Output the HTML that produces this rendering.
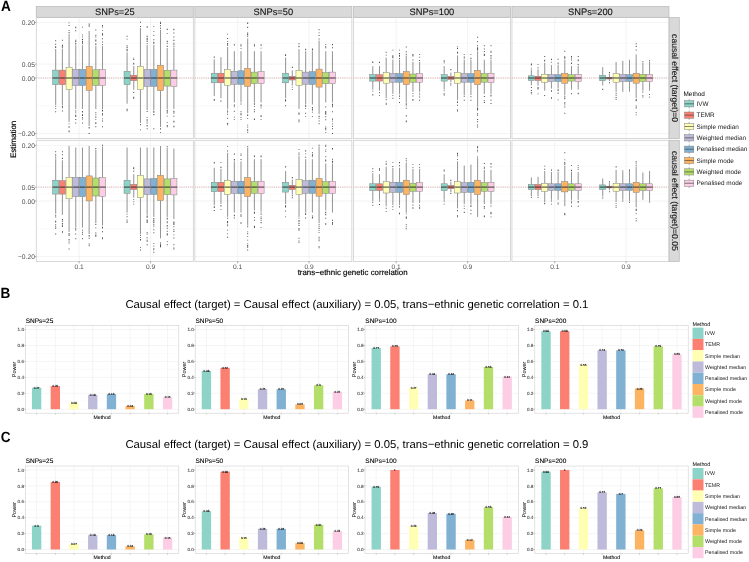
<!DOCTYPE html><html><head><meta charset="utf-8"><style>html,body{margin:0;padding:0;background:#fff;overflow:hidden;width:749px;height:562px;}svg{display:block;will-change:transform;text-rendering:geometricPrecision;font-family:"Liberation Sans",sans-serif;}</style></head><body>
<svg width="749" height="562" viewBox="0 0 749 562">
<rect width="749" height="562" fill="#fff"/>
<line x1="36.3" y1="43.25" x2="193.3" y2="43.25" stroke="#F4F4F4" stroke-width="0.5"/>
<line x1="36.3" y1="71.05" x2="193.3" y2="71.05" stroke="#F4F4F4" stroke-width="0.5"/>
<line x1="36.3" y1="105.8" x2="193.3" y2="105.8" stroke="#F4F4F4" stroke-width="0.5"/>
<line x1="36.3" y1="22.4" x2="193.3" y2="22.4" stroke="#EBEBEB" stroke-width="0.6"/>
<line x1="36.3" y1="64.1" x2="193.3" y2="64.1" stroke="#EBEBEB" stroke-width="0.6"/>
<line x1="36.3" y1="78" x2="193.3" y2="78" stroke="#EBEBEB" stroke-width="0.6"/>
<line x1="36.3" y1="133.6" x2="193.3" y2="133.6" stroke="#EBEBEB" stroke-width="0.6"/>
<line x1="79.11" y1="17.6" x2="79.11" y2="138.6" stroke="#EBEBEB" stroke-width="0.6"/>
<line x1="150.49" y1="17.6" x2="150.49" y2="138.6" stroke="#EBEBEB" stroke-width="0.6"/>
<line x1="36.3" y1="78" x2="193.3" y2="78" stroke="#D48A8A" stroke-width="0.75" stroke-dasharray="0.9 1.3"/>
<line x1="55.7" y1="49" x2="55.7" y2="70.1" stroke="#4a4a4a" stroke-width="0.6"/>
<line x1="55.7" y1="84.7" x2="55.7" y2="105.3" stroke="#4a4a4a" stroke-width="0.6"/>
<rect x="52.65" y="70.1" width="6.1" height="14.6" fill="#8DD3C7" stroke="#777" stroke-width="0.45"/>
<line x1="52.65" y1="78" x2="58.75" y2="78" stroke="#222" stroke-width="0.9"/>
<line x1="62.39" y1="49" x2="62.39" y2="70.1" stroke="#4a4a4a" stroke-width="0.6"/>
<line x1="62.39" y1="84.7" x2="62.39" y2="105.3" stroke="#4a4a4a" stroke-width="0.6"/>
<rect x="59.34" y="70.1" width="6.1" height="14.6" fill="#FB8072" stroke="#777" stroke-width="0.45"/>
<line x1="59.34" y1="78" x2="65.44" y2="78" stroke="#222" stroke-width="0.9"/>
<line x1="69.08" y1="34.1" x2="69.08" y2="67.2" stroke="#4a4a4a" stroke-width="0.6"/>
<line x1="69.08" y1="89.6" x2="69.08" y2="121.9" stroke="#4a4a4a" stroke-width="0.6"/>
<rect x="66.03" y="67.2" width="6.1" height="22.4" fill="#FFFFB3" stroke="#777" stroke-width="0.45"/>
<line x1="66.03" y1="78" x2="72.13" y2="78" stroke="#222" stroke-width="0.9"/>
<line x1="75.77" y1="45.3" x2="75.77" y2="69.4" stroke="#4a4a4a" stroke-width="0.6"/>
<line x1="75.77" y1="85.5" x2="75.77" y2="109" stroke="#4a4a4a" stroke-width="0.6"/>
<rect x="72.72" y="69.4" width="6.1" height="16.1" fill="#BEBADA" stroke="#777" stroke-width="0.45"/>
<line x1="72.72" y1="78" x2="78.82" y2="78" stroke="#222" stroke-width="0.9"/>
<line x1="82.46" y1="45.3" x2="82.46" y2="69.4" stroke="#4a4a4a" stroke-width="0.6"/>
<line x1="82.46" y1="85.5" x2="82.46" y2="109" stroke="#4a4a4a" stroke-width="0.6"/>
<rect x="79.41" y="69.4" width="6.1" height="16.1" fill="#80B1D3" stroke="#777" stroke-width="0.45"/>
<line x1="79.41" y1="78" x2="85.51" y2="78" stroke="#222" stroke-width="0.9"/>
<line x1="89.15" y1="30.9" x2="89.15" y2="66.4" stroke="#4a4a4a" stroke-width="0.6"/>
<line x1="89.15" y1="90.4" x2="89.15" y2="126" stroke="#4a4a4a" stroke-width="0.6"/>
<rect x="86.1" y="66.4" width="6.1" height="24" fill="#FDB462" stroke="#777" stroke-width="0.45"/>
<line x1="86.1" y1="78" x2="92.2" y2="78" stroke="#222" stroke-width="0.9"/>
<line x1="95.84" y1="45.8" x2="95.84" y2="69.8" stroke="#4a4a4a" stroke-width="0.6"/>
<line x1="95.84" y1="85.5" x2="95.84" y2="109" stroke="#4a4a4a" stroke-width="0.6"/>
<rect x="92.79" y="69.8" width="6.1" height="15.7" fill="#B3DE69" stroke="#777" stroke-width="0.45"/>
<line x1="92.79" y1="78" x2="98.89" y2="78" stroke="#222" stroke-width="0.9"/>
<line x1="102.53" y1="45.8" x2="102.53" y2="69.6" stroke="#4a4a4a" stroke-width="0.6"/>
<line x1="102.53" y1="85.5" x2="102.53" y2="109" stroke="#4a4a4a" stroke-width="0.6"/>
<rect x="99.48" y="69.6" width="6.1" height="15.9" fill="#FCCDE5" stroke="#777" stroke-width="0.45"/>
<line x1="99.48" y1="78" x2="105.58" y2="78" stroke="#222" stroke-width="0.9"/>
<line x1="127.07" y1="52.3" x2="127.07" y2="71.3" stroke="#4a4a4a" stroke-width="0.6"/>
<line x1="127.07" y1="84.7" x2="127.07" y2="103.7" stroke="#4a4a4a" stroke-width="0.6"/>
<rect x="124.02" y="71.3" width="6.1" height="13.4" fill="#8DD3C7" stroke="#777" stroke-width="0.45"/>
<line x1="124.02" y1="78" x2="130.12" y2="78" stroke="#222" stroke-width="0.9"/>
<line x1="133.76" y1="66.1" x2="133.76" y2="75.2" stroke="#4a4a4a" stroke-width="0.6"/>
<line x1="133.76" y1="80.7" x2="133.76" y2="89.8" stroke="#4a4a4a" stroke-width="0.6"/>
<rect x="130.71" y="75.2" width="6.1" height="5.5" fill="#FB8072" stroke="#777" stroke-width="0.45"/>
<line x1="130.71" y1="78" x2="136.81" y2="78" stroke="#222" stroke-width="0.9"/>
<line x1="140.45" y1="28" x2="140.45" y2="66.4" stroke="#4a4a4a" stroke-width="0.6"/>
<line x1="140.45" y1="89.6" x2="140.45" y2="123" stroke="#4a4a4a" stroke-width="0.6"/>
<rect x="137.4" y="66.4" width="6.1" height="23.2" fill="#FFFFB3" stroke="#777" stroke-width="0.45"/>
<line x1="137.4" y1="78" x2="143.5" y2="78" stroke="#222" stroke-width="0.9"/>
<line x1="147.14" y1="44.8" x2="147.14" y2="69.4" stroke="#4a4a4a" stroke-width="0.6"/>
<line x1="147.14" y1="86.4" x2="147.14" y2="110.1" stroke="#4a4a4a" stroke-width="0.6"/>
<rect x="144.09" y="69.4" width="6.1" height="17" fill="#BEBADA" stroke="#777" stroke-width="0.45"/>
<line x1="144.09" y1="78" x2="150.19" y2="78" stroke="#222" stroke-width="0.9"/>
<line x1="153.83" y1="44.8" x2="153.83" y2="69.4" stroke="#4a4a4a" stroke-width="0.6"/>
<line x1="153.83" y1="86.4" x2="153.83" y2="110.1" stroke="#4a4a4a" stroke-width="0.6"/>
<rect x="150.78" y="69.4" width="6.1" height="17" fill="#80B1D3" stroke="#777" stroke-width="0.45"/>
<line x1="150.78" y1="78" x2="156.88" y2="78" stroke="#222" stroke-width="0.9"/>
<line x1="160.52" y1="29.8" x2="160.52" y2="65.3" stroke="#4a4a4a" stroke-width="0.6"/>
<line x1="160.52" y1="90.7" x2="160.52" y2="127" stroke="#4a4a4a" stroke-width="0.6"/>
<rect x="157.47" y="65.3" width="6.1" height="25.4" fill="#FDB462" stroke="#777" stroke-width="0.45"/>
<line x1="157.47" y1="78" x2="163.57" y2="78" stroke="#222" stroke-width="0.9"/>
<line x1="167.21" y1="48" x2="167.21" y2="70.4" stroke="#4a4a4a" stroke-width="0.6"/>
<line x1="167.21" y1="86.1" x2="167.21" y2="109" stroke="#4a4a4a" stroke-width="0.6"/>
<rect x="164.16" y="70.4" width="6.1" height="15.7" fill="#B3DE69" stroke="#777" stroke-width="0.45"/>
<line x1="164.16" y1="78" x2="170.26" y2="78" stroke="#222" stroke-width="0.9"/>
<line x1="173.9" y1="48" x2="173.9" y2="70.1" stroke="#4a4a4a" stroke-width="0.6"/>
<line x1="173.9" y1="86.4" x2="173.9" y2="109" stroke="#4a4a4a" stroke-width="0.6"/>
<rect x="170.85" y="70.1" width="6.1" height="16.3" fill="#FCCDE5" stroke="#777" stroke-width="0.45"/>
<line x1="170.85" y1="78" x2="176.95" y2="78" stroke="#222" stroke-width="0.9"/>
<path d="M55.25 40.25h.9v.9h-.9zM55.25 46.18h.9v.9h-.9zM55.25 47.01h.9v.9h-.9zM55.25 43.78h.9v.9h-.9zM55.25 111.25h.9v.9h-.9zM55.25 106.13h.9v.9h-.9zM55.25 107.97h.9v.9h-.9zM61.94 39.85h.9v.9h-.9zM61.94 45.85h.9v.9h-.9zM61.94 47.27h.9v.9h-.9zM61.94 44.82h.9v.9h-.9zM61.94 110.55h.9v.9h-.9zM61.94 106.07h.9v.9h-.9zM61.94 107.23h.9v.9h-.9zM68.63 22.45h.9v.9h-.9zM68.63 32.31h.9v.9h-.9zM68.63 32.24h.9v.9h-.9zM68.63 29.91h.9v.9h-.9zM68.63 25.07h.9v.9h-.9zM68.63 32.1h.9v.9h-.9zM68.63 131.25h.9v.9h-.9zM68.63 123.43h.9v.9h-.9zM68.63 126.73h.9v.9h-.9zM68.63 130.54h.9v.9h-.9zM68.63 126.22h.9v.9h-.9zM75.32 26.65h.9v.9h-.9zM75.32 39.78h.9v.9h-.9zM75.32 27.29h.9v.9h-.9zM75.32 43.52h.9v.9h-.9zM75.32 30.33h.9v.9h-.9zM75.32 41.31h.9v.9h-.9zM75.32 42.88h.9v.9h-.9zM75.32 43.1h.9v.9h-.9zM75.32 41.06h.9v.9h-.9zM75.32 122.55h.9v.9h-.9zM75.32 119h.9v.9h-.9zM75.32 110.58h.9v.9h-.9zM75.32 115.13h.9v.9h-.9zM75.32 116h.9v.9h-.9zM75.32 112.39h.9v.9h-.9zM75.32 114.64h.9v.9h-.9zM82.01 26.65h.9v.9h-.9zM82.01 43.45h.9v.9h-.9zM82.01 43.46h.9v.9h-.9zM82.01 42.29h.9v.9h-.9zM82.01 34.47h.9v.9h-.9zM82.01 39.28h.9v.9h-.9zM82.01 40.98h.9v.9h-.9zM82.01 36.43h.9v.9h-.9zM82.01 38.86h.9v.9h-.9zM82.01 122.55h.9v.9h-.9zM82.01 111.61h.9v.9h-.9zM82.01 118.61h.9v.9h-.9zM82.01 116.97h.9v.9h-.9zM82.01 111.09h.9v.9h-.9zM82.01 115.02h.9v.9h-.9zM82.01 114.32h.9v.9h-.9zM88.7 23.55h.9v.9h-.9zM88.7 24.65h.9v.9h-.9zM88.7 25.81h.9v.9h-.9zM88.7 133.15h.9v.9h-.9zM88.7 127.62h.9v.9h-.9zM88.7 132.95h.9v.9h-.9zM88.7 126.96h.9v.9h-.9zM95.39 29.55h.9v.9h-.9zM95.39 40.53h.9v.9h-.9zM95.39 34.8h.9v.9h-.9zM95.39 43.43h.9v.9h-.9zM95.39 39.5h.9v.9h-.9zM95.39 44.07h.9v.9h-.9zM95.39 36.49h.9v.9h-.9zM95.39 34.65h.9v.9h-.9zM95.39 126.25h.9v.9h-.9zM95.39 116.52h.9v.9h-.9zM95.39 123.09h.9v.9h-.9zM95.39 112.33h.9v.9h-.9zM95.39 118.97h.9v.9h-.9zM95.39 116.93h.9v.9h-.9zM95.39 116.65h.9v.9h-.9zM95.39 114.45h.9v.9h-.9zM95.39 122.23h.9v.9h-.9zM102.08 25.05h.9v.9h-.9zM102.08 26.71h.9v.9h-.9zM102.08 38.36h.9v.9h-.9zM102.08 34.23h.9v.9h-.9zM102.08 43.93h.9v.9h-.9zM102.08 33.32h.9v.9h-.9zM102.08 34.63h.9v.9h-.9zM102.08 25.26h.9v.9h-.9zM102.08 30.19h.9v.9h-.9zM102.08 41.59h.9v.9h-.9zM102.08 126.25h.9v.9h-.9zM102.08 113.34h.9v.9h-.9zM102.08 118.42h.9v.9h-.9zM102.08 109.79h.9v.9h-.9zM102.08 114.54h.9v.9h-.9zM102.08 110.7h.9v.9h-.9zM102.08 110.28h.9v.9h-.9zM102.08 109.93h.9v.9h-.9zM102.08 120.57h.9v.9h-.9zM126.62 35.75h.9v.9h-.9zM126.62 50.09h.9v.9h-.9zM126.62 49.05h.9v.9h-.9zM126.62 47.33h.9v.9h-.9zM126.62 38.69h.9v.9h-.9zM126.62 50.39h.9v.9h-.9zM126.62 46.51h.9v.9h-.9zM126.62 44.93h.9v.9h-.9zM126.62 110.25h.9v.9h-.9zM126.62 109.21h.9v.9h-.9zM126.62 108.67h.9v.9h-.9zM133.31 57.65h.9v.9h-.9zM133.31 59.07h.9v.9h-.9zM133.31 63.57h.9v.9h-.9zM133.31 62.78h.9v.9h-.9zM133.31 97.95h.9v.9h-.9zM133.31 91.99h.9v.9h-.9zM133.31 96.63h.9v.9h-.9zM133.31 97.46h.9v.9h-.9zM140 21.85h.9v.9h-.9zM140 26.13h.9v.9h-.9zM140 26.07h.9v.9h-.9zM140 129.45h.9v.9h-.9zM140 124.3h.9v.9h-.9zM140 124.31h.9v.9h-.9zM146.69 25.95h.9v.9h-.9zM146.69 37.75h.9v.9h-.9zM146.69 35.77h.9v.9h-.9zM146.69 41.12h.9v.9h-.9zM146.69 43.15h.9v.9h-.9zM146.69 38.87h.9v.9h-.9zM146.69 39.66h.9v.9h-.9zM146.69 36.22h.9v.9h-.9zM146.69 27.22h.9v.9h-.9zM146.69 128.35h.9v.9h-.9zM146.69 120.53h.9v.9h-.9zM146.69 116.91h.9v.9h-.9zM146.69 118.94h.9v.9h-.9zM146.69 120.21h.9v.9h-.9zM146.69 111.01h.9v.9h-.9zM146.69 125.62h.9v.9h-.9zM146.69 122.61h.9v.9h-.9zM146.69 124.97h.9v.9h-.9zM153.38 25.95h.9v.9h-.9zM153.38 31.17h.9v.9h-.9zM153.38 39.3h.9v.9h-.9zM153.38 39.2h.9v.9h-.9zM153.38 42.69h.9v.9h-.9zM153.38 34.85h.9v.9h-.9zM153.38 42.95h.9v.9h-.9zM153.38 42.92h.9v.9h-.9zM153.38 41.75h.9v.9h-.9zM153.38 128.35h.9v.9h-.9zM153.38 111.8h.9v.9h-.9zM153.38 113.97h.9v.9h-.9zM153.38 111.01h.9v.9h-.9zM153.38 110.85h.9v.9h-.9zM153.38 111.7h.9v.9h-.9zM153.38 111.3h.9v.9h-.9zM153.38 114.32h.9v.9h-.9zM153.38 110.9h.9v.9h-.9zM160.07 21.85h.9v.9h-.9zM160.07 23.07h.9v.9h-.9zM160.07 25.26h.9v.9h-.9zM160.07 27.85h.9v.9h-.9zM160.07 132.15h.9v.9h-.9zM160.07 128.24h.9v.9h-.9zM160.07 128.56h.9v.9h-.9zM166.76 28.85h.9v.9h-.9zM166.76 42.87h.9v.9h-.9zM166.76 45.74h.9v.9h-.9zM166.76 32.88h.9v.9h-.9zM166.76 29.04h.9v.9h-.9zM166.76 41.19h.9v.9h-.9zM166.76 40.87h.9v.9h-.9zM166.76 46.01h.9v.9h-.9zM166.76 45.89h.9v.9h-.9zM166.76 126.25h.9v.9h-.9zM166.76 112.72h.9v.9h-.9zM166.76 111.72h.9v.9h-.9zM166.76 121.97h.9v.9h-.9zM166.76 110.64h.9v.9h-.9zM166.76 109.79h.9v.9h-.9zM166.76 124.98h.9v.9h-.9zM166.76 115.69h.9v.9h-.9zM166.76 110.51h.9v.9h-.9zM173.45 28.85h.9v.9h-.9zM173.45 39.76h.9v.9h-.9zM173.45 46.3h.9v.9h-.9zM173.45 40.05h.9v.9h-.9zM173.45 29.45h.9v.9h-.9zM173.45 32.52h.9v.9h-.9zM173.45 36.55h.9v.9h-.9zM173.45 44.31h.9v.9h-.9zM173.45 42.83h.9v.9h-.9zM173.45 126.25h.9v.9h-.9zM173.45 110.69h.9v.9h-.9zM173.45 120.65h.9v.9h-.9zM173.45 115.77h.9v.9h-.9zM173.45 120.82h.9v.9h-.9zM173.45 112.55h.9v.9h-.9zM173.45 111.25h.9v.9h-.9zM173.45 121.56h.9v.9h-.9zM173.45 125.85h.9v.9h-.9z" fill="#3a3a3a"/>
<rect x="36.3" y="17.6" width="157" height="121" fill="none" stroke="#CFCFCF" stroke-width="0.8"/>
<line x1="194.85" y1="43.25" x2="351.85" y2="43.25" stroke="#F4F4F4" stroke-width="0.5"/>
<line x1="194.85" y1="71.05" x2="351.85" y2="71.05" stroke="#F4F4F4" stroke-width="0.5"/>
<line x1="194.85" y1="105.8" x2="351.85" y2="105.8" stroke="#F4F4F4" stroke-width="0.5"/>
<line x1="194.85" y1="22.4" x2="351.85" y2="22.4" stroke="#EBEBEB" stroke-width="0.6"/>
<line x1="194.85" y1="64.1" x2="351.85" y2="64.1" stroke="#EBEBEB" stroke-width="0.6"/>
<line x1="194.85" y1="78" x2="351.85" y2="78" stroke="#EBEBEB" stroke-width="0.6"/>
<line x1="194.85" y1="133.6" x2="351.85" y2="133.6" stroke="#EBEBEB" stroke-width="0.6"/>
<line x1="237.66" y1="17.6" x2="237.66" y2="138.6" stroke="#EBEBEB" stroke-width="0.6"/>
<line x1="309.04" y1="17.6" x2="309.04" y2="138.6" stroke="#EBEBEB" stroke-width="0.6"/>
<line x1="194.85" y1="78" x2="351.85" y2="78" stroke="#D48A8A" stroke-width="0.75" stroke-dasharray="0.9 1.3"/>
<line x1="214.25" y1="59.3" x2="214.25" y2="73.2" stroke="#4a4a4a" stroke-width="0.6"/>
<line x1="214.25" y1="82.8" x2="214.25" y2="96.1" stroke="#4a4a4a" stroke-width="0.6"/>
<rect x="211.2" y="73.2" width="6.1" height="9.6" fill="#8DD3C7" stroke="#777" stroke-width="0.45"/>
<line x1="211.2" y1="78" x2="217.3" y2="78" stroke="#222" stroke-width="0.9"/>
<line x1="220.94" y1="57.2" x2="220.94" y2="73.2" stroke="#4a4a4a" stroke-width="0.6"/>
<line x1="220.94" y1="82.8" x2="220.94" y2="98.2" stroke="#4a4a4a" stroke-width="0.6"/>
<rect x="217.89" y="73.2" width="6.1" height="9.6" fill="#FB8072" stroke="#777" stroke-width="0.45"/>
<line x1="217.89" y1="78" x2="223.99" y2="78" stroke="#222" stroke-width="0.9"/>
<line x1="227.63" y1="46.9" x2="227.63" y2="69.4" stroke="#4a4a4a" stroke-width="0.6"/>
<line x1="227.63" y1="85.4" x2="227.63" y2="108.9" stroke="#4a4a4a" stroke-width="0.6"/>
<rect x="224.58" y="69.4" width="6.1" height="16" fill="#FFFFB3" stroke="#777" stroke-width="0.45"/>
<line x1="224.58" y1="78" x2="230.68" y2="78" stroke="#222" stroke-width="0.9"/>
<line x1="234.32" y1="51.2" x2="234.32" y2="71.3" stroke="#4a4a4a" stroke-width="0.6"/>
<line x1="234.32" y1="84.3" x2="234.32" y2="102.5" stroke="#4a4a4a" stroke-width="0.6"/>
<rect x="231.27" y="71.3" width="6.1" height="13" fill="#BEBADA" stroke="#777" stroke-width="0.45"/>
<line x1="231.27" y1="78" x2="237.37" y2="78" stroke="#222" stroke-width="0.9"/>
<line x1="241.01" y1="51.2" x2="241.01" y2="70.8" stroke="#4a4a4a" stroke-width="0.6"/>
<line x1="241.01" y1="84.3" x2="241.01" y2="102.5" stroke="#4a4a4a" stroke-width="0.6"/>
<rect x="237.96" y="70.8" width="6.1" height="13.5" fill="#80B1D3" stroke="#777" stroke-width="0.45"/>
<line x1="237.96" y1="78" x2="244.06" y2="78" stroke="#222" stroke-width="0.9"/>
<line x1="247.7" y1="38.4" x2="247.7" y2="68.3" stroke="#4a4a4a" stroke-width="0.6"/>
<line x1="247.7" y1="86.4" x2="247.7" y2="113.2" stroke="#4a4a4a" stroke-width="0.6"/>
<rect x="244.65" y="68.3" width="6.1" height="18.1" fill="#FDB462" stroke="#777" stroke-width="0.45"/>
<line x1="244.65" y1="78" x2="250.75" y2="78" stroke="#222" stroke-width="0.9"/>
<line x1="254.39" y1="51.2" x2="254.39" y2="72.1" stroke="#4a4a4a" stroke-width="0.6"/>
<line x1="254.39" y1="83.7" x2="254.39" y2="102.5" stroke="#4a4a4a" stroke-width="0.6"/>
<rect x="251.34" y="72.1" width="6.1" height="11.6" fill="#B3DE69" stroke="#777" stroke-width="0.45"/>
<line x1="251.34" y1="78" x2="257.44" y2="78" stroke="#222" stroke-width="0.9"/>
<line x1="261.08" y1="51.2" x2="261.08" y2="71.7" stroke="#4a4a4a" stroke-width="0.6"/>
<line x1="261.08" y1="83.7" x2="261.08" y2="102.5" stroke="#4a4a4a" stroke-width="0.6"/>
<rect x="258.03" y="71.7" width="6.1" height="12" fill="#FCCDE5" stroke="#777" stroke-width="0.45"/>
<line x1="258.03" y1="78" x2="264.13" y2="78" stroke="#222" stroke-width="0.9"/>
<line x1="285.62" y1="57.6" x2="285.62" y2="73.2" stroke="#4a4a4a" stroke-width="0.6"/>
<line x1="285.62" y1="82.8" x2="285.62" y2="98.2" stroke="#4a4a4a" stroke-width="0.6"/>
<rect x="282.57" y="73.2" width="6.1" height="9.6" fill="#8DD3C7" stroke="#777" stroke-width="0.45"/>
<line x1="282.57" y1="78" x2="288.67" y2="78" stroke="#222" stroke-width="0.9"/>
<line x1="292.31" y1="70.4" x2="292.31" y2="76.4" stroke="#4a4a4a" stroke-width="0.6"/>
<line x1="292.31" y1="80" x2="292.31" y2="85.4" stroke="#4a4a4a" stroke-width="0.6"/>
<rect x="289.26" y="76.4" width="6.1" height="3.6" fill="#FB8072" stroke="#777" stroke-width="0.45"/>
<line x1="289.26" y1="78" x2="295.36" y2="78" stroke="#222" stroke-width="0.9"/>
<line x1="299" y1="49.1" x2="299" y2="70.4" stroke="#4a4a4a" stroke-width="0.6"/>
<line x1="299" y1="85.4" x2="299" y2="108.9" stroke="#4a4a4a" stroke-width="0.6"/>
<rect x="295.95" y="70.4" width="6.1" height="15" fill="#FFFFB3" stroke="#777" stroke-width="0.45"/>
<line x1="295.95" y1="78" x2="302.05" y2="78" stroke="#222" stroke-width="0.9"/>
<line x1="305.69" y1="51.2" x2="305.69" y2="72.1" stroke="#4a4a4a" stroke-width="0.6"/>
<line x1="305.69" y1="84.3" x2="305.69" y2="104.6" stroke="#4a4a4a" stroke-width="0.6"/>
<rect x="302.64" y="72.1" width="6.1" height="12.2" fill="#BEBADA" stroke="#777" stroke-width="0.45"/>
<line x1="302.64" y1="78" x2="308.74" y2="78" stroke="#222" stroke-width="0.9"/>
<line x1="312.38" y1="51.2" x2="312.38" y2="71.7" stroke="#4a4a4a" stroke-width="0.6"/>
<line x1="312.38" y1="84.5" x2="312.38" y2="104.6" stroke="#4a4a4a" stroke-width="0.6"/>
<rect x="309.33" y="71.7" width="6.1" height="12.8" fill="#80B1D3" stroke="#777" stroke-width="0.45"/>
<line x1="309.33" y1="78" x2="315.43" y2="78" stroke="#222" stroke-width="0.9"/>
<line x1="319.07" y1="40.5" x2="319.07" y2="69.1" stroke="#4a4a4a" stroke-width="0.6"/>
<line x1="319.07" y1="87.1" x2="319.07" y2="114.2" stroke="#4a4a4a" stroke-width="0.6"/>
<rect x="316.02" y="69.1" width="6.1" height="18" fill="#FDB462" stroke="#777" stroke-width="0.45"/>
<line x1="316.02" y1="78" x2="322.12" y2="78" stroke="#222" stroke-width="0.9"/>
<line x1="325.76" y1="51.2" x2="325.76" y2="72.6" stroke="#4a4a4a" stroke-width="0.6"/>
<line x1="325.76" y1="83.7" x2="325.76" y2="102.5" stroke="#4a4a4a" stroke-width="0.6"/>
<rect x="322.71" y="72.6" width="6.1" height="11.1" fill="#B3DE69" stroke="#777" stroke-width="0.45"/>
<line x1="322.71" y1="78" x2="328.81" y2="78" stroke="#222" stroke-width="0.9"/>
<line x1="332.45" y1="51.2" x2="332.45" y2="72.1" stroke="#4a4a4a" stroke-width="0.6"/>
<line x1="332.45" y1="83.7" x2="332.45" y2="102.5" stroke="#4a4a4a" stroke-width="0.6"/>
<rect x="329.4" y="72.1" width="6.1" height="11.6" fill="#FCCDE5" stroke="#777" stroke-width="0.45"/>
<line x1="329.4" y1="78" x2="335.5" y2="78" stroke="#222" stroke-width="0.9"/>
<path d="M213.8 56.55h.9v.9h-.9zM213.8 56.8h.9v.9h-.9zM213.8 99.85h.9v.9h-.9zM213.8 98.97h.9v.9h-.9zM220.49 100.95h.9v.9h-.9zM220.49 100.4h.9v.9h-.9zM227.18 33.65h.9v.9h-.9zM227.18 38.09h.9v.9h-.9zM227.18 44.17h.9v.9h-.9zM227.18 41.21h.9v.9h-.9zM227.18 43.03h.9v.9h-.9zM227.18 45.21h.9v.9h-.9zM227.18 124.45h.9v.9h-.9zM227.18 109.7h.9v.9h-.9zM227.18 111.57h.9v.9h-.9zM227.18 111.36h.9v.9h-.9zM227.18 117.87h.9v.9h-.9zM227.18 123.43h.9v.9h-.9zM227.18 113.73h.9v.9h-.9zM227.18 122.99h.9v.9h-.9zM233.87 44.35h.9v.9h-.9zM233.87 44.45h.9v.9h-.9zM233.87 44.72h.9v.9h-.9zM233.87 119.15h.9v.9h-.9zM233.87 106.41h.9v.9h-.9zM233.87 104.66h.9v.9h-.9zM233.87 104.73h.9v.9h-.9zM233.87 104.43h.9v.9h-.9zM233.87 104.5h.9v.9h-.9zM233.87 110.73h.9v.9h-.9zM233.87 116.69h.9v.9h-.9zM240.56 44.35h.9v.9h-.9zM240.56 45.61h.9v.9h-.9zM240.56 47.95h.9v.9h-.9zM240.56 119.15h.9v.9h-.9zM240.56 111.29h.9v.9h-.9zM240.56 114.37h.9v.9h-.9zM240.56 103.56h.9v.9h-.9zM240.56 111.44h.9v.9h-.9zM240.56 116.92h.9v.9h-.9zM240.56 113.98h.9v.9h-.9zM240.56 113.29h.9v.9h-.9zM247.25 22.55h.9v.9h-.9zM247.25 32.39h.9v.9h-.9zM247.25 35.85h.9v.9h-.9zM247.25 27.03h.9v.9h-.9zM247.25 34.31h.9v.9h-.9zM247.25 26.8h.9v.9h-.9zM247.25 23.19h.9v.9h-.9zM247.25 33.53h.9v.9h-.9zM247.25 131.95h.9v.9h-.9zM247.25 118.13h.9v.9h-.9zM247.25 130.44h.9v.9h-.9zM247.25 124.71h.9v.9h-.9zM247.25 115.01h.9v.9h-.9zM247.25 114.61h.9v.9h-.9zM247.25 114.83h.9v.9h-.9zM247.25 129.29h.9v.9h-.9zM247.25 126.71h.9v.9h-.9zM247.25 114.78h.9v.9h-.9zM253.94 44.35h.9v.9h-.9zM253.94 45.72h.9v.9h-.9zM253.94 44.51h.9v.9h-.9zM253.94 119.15h.9v.9h-.9zM253.94 111.37h.9v.9h-.9zM253.94 106.22h.9v.9h-.9zM253.94 109.34h.9v.9h-.9zM253.94 103.87h.9v.9h-.9zM253.94 103.27h.9v.9h-.9zM253.94 118.42h.9v.9h-.9zM253.94 111.22h.9v.9h-.9zM260.63 44.35h.9v.9h-.9zM260.63 47.69h.9v.9h-.9zM260.63 44.89h.9v.9h-.9zM260.63 119.15h.9v.9h-.9zM260.63 107.43h.9v.9h-.9zM260.63 116.01h.9v.9h-.9zM260.63 114.96h.9v.9h-.9zM260.63 104.57h.9v.9h-.9zM260.63 105h.9v.9h-.9zM260.63 105.48h.9v.9h-.9zM260.63 104.88h.9v.9h-.9zM285.17 53.95h.9v.9h-.9zM285.17 55.1h.9v.9h-.9zM285.17 105.25h.9v.9h-.9zM285.17 99.68h.9v.9h-.9zM285.17 100.52h.9v.9h-.9zM285.17 99.19h.9v.9h-.9zM291.86 66.75h.9v.9h-.9zM291.86 67.03h.9v.9h-.9zM291.86 89.15h.9v.9h-.9zM291.86 86.72h.9v.9h-.9zM298.55 43.25h.9v.9h-.9zM298.55 46.25h.9v.9h-.9zM298.55 45.68h.9v.9h-.9zM298.55 121.25h.9v.9h-.9zM298.55 119.53h.9v.9h-.9zM298.55 112.55h.9v.9h-.9zM298.55 119.76h.9v.9h-.9zM298.55 113.5h.9v.9h-.9zM298.55 113.87h.9v.9h-.9zM305.24 48.65h.9v.9h-.9zM305.24 49.23h.9v.9h-.9zM305.24 115.95h.9v.9h-.9zM305.24 105.37h.9v.9h-.9zM305.24 108.2h.9v.9h-.9zM305.24 106.05h.9v.9h-.9zM305.24 105.35h.9v.9h-.9zM305.24 112.76h.9v.9h-.9zM311.93 48.55h.9v.9h-.9zM311.93 49.49h.9v.9h-.9zM311.93 115.95h.9v.9h-.9zM311.93 108.55h.9v.9h-.9zM311.93 111.69h.9v.9h-.9zM311.93 109.5h.9v.9h-.9zM311.93 107.11h.9v.9h-.9zM311.93 109.05h.9v.9h-.9zM318.62 29.35h.9v.9h-.9zM318.62 35.14h.9v.9h-.9zM318.62 32.41h.9v.9h-.9zM318.62 38.59h.9v.9h-.9zM318.62 35.09h.9v.9h-.9zM318.62 123.35h.9v.9h-.9zM318.62 115.86h.9v.9h-.9zM318.62 116.03h.9v.9h-.9zM318.62 120.51h.9v.9h-.9zM318.62 117.79h.9v.9h-.9zM325.31 43.95h.9v.9h-.9zM325.31 47.32h.9v.9h-.9zM325.31 45.94h.9v.9h-.9zM325.31 131.95h.9v.9h-.9zM325.31 128.04h.9v.9h-.9zM325.31 111.06h.9v.9h-.9zM325.31 116.35h.9v.9h-.9zM325.31 112.89h.9v.9h-.9zM325.31 113.09h.9v.9h-.9zM325.31 119.2h.9v.9h-.9zM325.31 111.32h.9v.9h-.9zM325.31 113.75h.9v.9h-.9zM325.31 112.06h.9v.9h-.9zM325.31 129.31h.9v.9h-.9zM325.31 119.44h.9v.9h-.9zM325.31 126.49h.9v.9h-.9zM325.31 129.34h.9v.9h-.9zM325.31 106.57h.9v.9h-.9zM332 43.95h.9v.9h-.9zM332 47.34h.9v.9h-.9zM332 44.45h.9v.9h-.9zM332 133.05h.9v.9h-.9zM332 125.8h.9v.9h-.9zM332 104.49h.9v.9h-.9zM332 104.27h.9v.9h-.9zM332 111.32h.9v.9h-.9zM332 103.7h.9v.9h-.9zM332 106.3h.9v.9h-.9zM332 103.7h.9v.9h-.9zM332 118.93h.9v.9h-.9zM332 123.44h.9v.9h-.9zM332 128.29h.9v.9h-.9zM332 104.75h.9v.9h-.9zM332 120.72h.9v.9h-.9zM332 118.59h.9v.9h-.9zM332 104.58h.9v.9h-.9z" fill="#3a3a3a"/>
<rect x="194.85" y="17.6" width="157" height="121" fill="none" stroke="#CFCFCF" stroke-width="0.8"/>
<line x1="353.4" y1="43.25" x2="510.4" y2="43.25" stroke="#F4F4F4" stroke-width="0.5"/>
<line x1="353.4" y1="71.05" x2="510.4" y2="71.05" stroke="#F4F4F4" stroke-width="0.5"/>
<line x1="353.4" y1="105.8" x2="510.4" y2="105.8" stroke="#F4F4F4" stroke-width="0.5"/>
<line x1="353.4" y1="22.4" x2="510.4" y2="22.4" stroke="#EBEBEB" stroke-width="0.6"/>
<line x1="353.4" y1="64.1" x2="510.4" y2="64.1" stroke="#EBEBEB" stroke-width="0.6"/>
<line x1="353.4" y1="78" x2="510.4" y2="78" stroke="#EBEBEB" stroke-width="0.6"/>
<line x1="353.4" y1="133.6" x2="510.4" y2="133.6" stroke="#EBEBEB" stroke-width="0.6"/>
<line x1="396.21" y1="17.6" x2="396.21" y2="138.6" stroke="#EBEBEB" stroke-width="0.6"/>
<line x1="467.59" y1="17.6" x2="467.59" y2="138.6" stroke="#EBEBEB" stroke-width="0.6"/>
<line x1="353.4" y1="78" x2="510.4" y2="78" stroke="#D48A8A" stroke-width="0.75" stroke-dasharray="0.9 1.3"/>
<line x1="372.8" y1="66.1" x2="372.8" y2="74.7" stroke="#4a4a4a" stroke-width="0.6"/>
<line x1="372.8" y1="81.1" x2="372.8" y2="89.6" stroke="#4a4a4a" stroke-width="0.6"/>
<rect x="369.75" y="74.7" width="6.1" height="6.4" fill="#8DD3C7" stroke="#777" stroke-width="0.45"/>
<line x1="369.75" y1="78" x2="375.85" y2="78" stroke="#222" stroke-width="0.9"/>
<line x1="379.49" y1="66.1" x2="379.49" y2="74.7" stroke="#4a4a4a" stroke-width="0.6"/>
<line x1="379.49" y1="81.1" x2="379.49" y2="90.7" stroke="#4a4a4a" stroke-width="0.6"/>
<rect x="376.44" y="74.7" width="6.1" height="6.4" fill="#FB8072" stroke="#777" stroke-width="0.45"/>
<line x1="376.44" y1="78" x2="382.54" y2="78" stroke="#222" stroke-width="0.9"/>
<line x1="386.18" y1="57.6" x2="386.18" y2="72.6" stroke="#4a4a4a" stroke-width="0.6"/>
<line x1="386.18" y1="83.2" x2="386.18" y2="98.2" stroke="#4a4a4a" stroke-width="0.6"/>
<rect x="383.13" y="72.6" width="6.1" height="10.6" fill="#FFFFB3" stroke="#777" stroke-width="0.45"/>
<line x1="383.13" y1="78" x2="389.23" y2="78" stroke="#222" stroke-width="0.9"/>
<line x1="392.87" y1="59.7" x2="392.87" y2="73.6" stroke="#4a4a4a" stroke-width="0.6"/>
<line x1="392.87" y1="82.2" x2="392.87" y2="93.9" stroke="#4a4a4a" stroke-width="0.6"/>
<rect x="389.82" y="73.6" width="6.1" height="8.6" fill="#BEBADA" stroke="#777" stroke-width="0.45"/>
<line x1="389.82" y1="78" x2="395.92" y2="78" stroke="#222" stroke-width="0.9"/>
<line x1="399.56" y1="59.7" x2="399.56" y2="73.6" stroke="#4a4a4a" stroke-width="0.6"/>
<line x1="399.56" y1="82.2" x2="399.56" y2="93.9" stroke="#4a4a4a" stroke-width="0.6"/>
<rect x="396.51" y="73.6" width="6.1" height="8.6" fill="#80B1D3" stroke="#777" stroke-width="0.45"/>
<line x1="396.51" y1="78" x2="402.61" y2="78" stroke="#222" stroke-width="0.9"/>
<line x1="406.25" y1="55.5" x2="406.25" y2="71.5" stroke="#4a4a4a" stroke-width="0.6"/>
<line x1="406.25" y1="84.7" x2="406.25" y2="102.5" stroke="#4a4a4a" stroke-width="0.6"/>
<rect x="403.2" y="71.5" width="6.1" height="13.2" fill="#FDB462" stroke="#777" stroke-width="0.45"/>
<line x1="403.2" y1="78" x2="409.3" y2="78" stroke="#222" stroke-width="0.9"/>
<line x1="412.94" y1="61.9" x2="412.94" y2="74" stroke="#4a4a4a" stroke-width="0.6"/>
<line x1="412.94" y1="82.2" x2="412.94" y2="91.8" stroke="#4a4a4a" stroke-width="0.6"/>
<rect x="409.89" y="74" width="6.1" height="8.2" fill="#B3DE69" stroke="#777" stroke-width="0.45"/>
<line x1="409.89" y1="78" x2="415.99" y2="78" stroke="#222" stroke-width="0.9"/>
<line x1="419.63" y1="61.9" x2="419.63" y2="73.6" stroke="#4a4a4a" stroke-width="0.6"/>
<line x1="419.63" y1="82.2" x2="419.63" y2="91.8" stroke="#4a4a4a" stroke-width="0.6"/>
<rect x="416.58" y="73.6" width="6.1" height="8.6" fill="#FCCDE5" stroke="#777" stroke-width="0.45"/>
<line x1="416.58" y1="78" x2="422.68" y2="78" stroke="#222" stroke-width="0.9"/>
<line x1="444.17" y1="66.1" x2="444.17" y2="74.7" stroke="#4a4a4a" stroke-width="0.6"/>
<line x1="444.17" y1="81.1" x2="444.17" y2="89.6" stroke="#4a4a4a" stroke-width="0.6"/>
<rect x="441.12" y="74.7" width="6.1" height="6.4" fill="#8DD3C7" stroke="#777" stroke-width="0.45"/>
<line x1="441.12" y1="78" x2="447.22" y2="78" stroke="#222" stroke-width="0.9"/>
<line x1="450.86" y1="72.6" x2="450.86" y2="76.4" stroke="#4a4a4a" stroke-width="0.6"/>
<line x1="450.86" y1="79.4" x2="450.86" y2="82.2" stroke="#4a4a4a" stroke-width="0.6"/>
<rect x="447.81" y="76.4" width="6.1" height="3" fill="#FB8072" stroke="#777" stroke-width="0.45"/>
<line x1="447.81" y1="78" x2="453.91" y2="78" stroke="#222" stroke-width="0.9"/>
<line x1="457.55" y1="55.5" x2="457.55" y2="72.6" stroke="#4a4a4a" stroke-width="0.6"/>
<line x1="457.55" y1="83.2" x2="457.55" y2="100.3" stroke="#4a4a4a" stroke-width="0.6"/>
<rect x="454.5" y="72.6" width="6.1" height="10.6" fill="#FFFFB3" stroke="#777" stroke-width="0.45"/>
<line x1="454.5" y1="78" x2="460.6" y2="78" stroke="#222" stroke-width="0.9"/>
<line x1="464.24" y1="59.7" x2="464.24" y2="73.6" stroke="#4a4a4a" stroke-width="0.6"/>
<line x1="464.24" y1="82.2" x2="464.24" y2="95" stroke="#4a4a4a" stroke-width="0.6"/>
<rect x="461.19" y="73.6" width="6.1" height="8.6" fill="#BEBADA" stroke="#777" stroke-width="0.45"/>
<line x1="461.19" y1="78" x2="467.29" y2="78" stroke="#222" stroke-width="0.9"/>
<line x1="470.93" y1="59.7" x2="470.93" y2="73.6" stroke="#4a4a4a" stroke-width="0.6"/>
<line x1="470.93" y1="82.2" x2="470.93" y2="95" stroke="#4a4a4a" stroke-width="0.6"/>
<rect x="467.88" y="73.6" width="6.1" height="8.6" fill="#80B1D3" stroke="#777" stroke-width="0.45"/>
<line x1="467.88" y1="78" x2="473.98" y2="78" stroke="#222" stroke-width="0.9"/>
<line x1="477.62" y1="51.2" x2="477.62" y2="70.4" stroke="#4a4a4a" stroke-width="0.6"/>
<line x1="477.62" y1="84.7" x2="477.62" y2="106.7" stroke="#4a4a4a" stroke-width="0.6"/>
<rect x="474.57" y="70.4" width="6.1" height="14.3" fill="#FDB462" stroke="#777" stroke-width="0.45"/>
<line x1="474.57" y1="78" x2="480.67" y2="78" stroke="#222" stroke-width="0.9"/>
<line x1="484.31" y1="59.7" x2="484.31" y2="73.6" stroke="#4a4a4a" stroke-width="0.6"/>
<line x1="484.31" y1="82.2" x2="484.31" y2="93.9" stroke="#4a4a4a" stroke-width="0.6"/>
<rect x="481.26" y="73.6" width="6.1" height="8.6" fill="#B3DE69" stroke="#777" stroke-width="0.45"/>
<line x1="481.26" y1="78" x2="487.36" y2="78" stroke="#222" stroke-width="0.9"/>
<line x1="491" y1="59.7" x2="491" y2="73.2" stroke="#4a4a4a" stroke-width="0.6"/>
<line x1="491" y1="82.6" x2="491" y2="93.9" stroke="#4a4a4a" stroke-width="0.6"/>
<rect x="487.95" y="73.2" width="6.1" height="9.4" fill="#FCCDE5" stroke="#777" stroke-width="0.45"/>
<line x1="487.95" y1="78" x2="494.05" y2="78" stroke="#222" stroke-width="0.9"/>
<path d="M372.35 61.45h.9v.9h-.9zM372.35 61.99h.9v.9h-.9zM372.35 94.55h.9v.9h-.9zM372.35 94.33h.9v.9h-.9zM372.35 90.72h.9v.9h-.9zM379.04 61.85h.9v.9h-.9zM379.04 62.04h.9v.9h-.9zM379.04 95.15h.9v.9h-.9zM379.04 92.3h.9v.9h-.9zM385.73 51.85h.9v.9h-.9zM385.73 54.65h.9v.9h-.9zM385.73 51.92h.9v.9h-.9zM385.73 104.15h.9v.9h-.9zM385.73 102.83h.9v.9h-.9zM385.73 99.23h.9v.9h-.9zM392.42 49.65h.9v.9h-.9zM392.42 55.86h.9v.9h-.9zM392.42 55.14h.9v.9h-.9zM392.42 56.56h.9v.9h-.9zM392.42 57.43h.9v.9h-.9zM392.42 97.75h.9v.9h-.9zM392.42 95.15h.9v.9h-.9zM399.11 49.65h.9v.9h-.9zM399.11 53.06h.9v.9h-.9zM399.11 58.03h.9v.9h-.9zM399.11 54.78h.9v.9h-.9zM399.11 55.79h.9v.9h-.9zM399.11 102.05h.9v.9h-.9zM399.11 94.66h.9v.9h-.9zM399.11 95.91h.9v.9h-.9zM399.11 98.13h.9v.9h-.9zM405.8 46.45h.9v.9h-.9zM405.8 51.31h.9v.9h-.9zM405.8 53.76h.9v.9h-.9zM405.8 46.63h.9v.9h-.9zM405.8 121.25h.9v.9h-.9zM405.8 115.55h.9v.9h-.9zM405.8 120.44h.9v.9h-.9zM405.8 103.74h.9v.9h-.9zM405.8 105.41h.9v.9h-.9zM405.8 103.35h.9v.9h-.9zM405.8 115.32h.9v.9h-.9zM405.8 105.47h.9v.9h-.9zM405.8 103.93h.9v.9h-.9zM405.8 107.78h.9v.9h-.9zM412.49 53.95h.9v.9h-.9zM412.49 54.82h.9v.9h-.9zM412.49 55.67h.9v.9h-.9zM412.49 59.53h.9v.9h-.9zM412.49 99.85h.9v.9h-.9zM412.49 92.9h.9v.9h-.9zM412.49 98.93h.9v.9h-.9zM412.49 95.52h.9v.9h-.9zM419.18 53.95h.9v.9h-.9zM419.18 56.69h.9v.9h-.9zM419.18 60.12h.9v.9h-.9zM419.18 60.18h.9v.9h-.9zM419.18 99.85h.9v.9h-.9zM419.18 96.56h.9v.9h-.9zM419.18 94.41h.9v.9h-.9zM419.18 92.66h.9v.9h-.9zM443.72 60.35h.9v.9h-.9zM443.72 60.75h.9v.9h-.9zM443.72 62.47h.9v.9h-.9zM443.72 94.55h.9v.9h-.9zM443.72 93.3h.9v.9h-.9zM443.72 90.43h.9v.9h-.9zM450.41 68.95h.9v.9h-.9zM450.41 69.39h.9v.9h-.9zM450.41 84.55h.9v.9h-.9zM450.41 82.97h.9v.9h-.9zM457.1 46.45h.9v.9h-.9zM457.1 48.01h.9v.9h-.9zM457.1 51.76h.9v.9h-.9zM457.1 52.54h.9v.9h-.9zM457.1 110.55h.9v.9h-.9zM457.1 104.73h.9v.9h-.9zM457.1 109.46h.9v.9h-.9zM457.1 102.2h.9v.9h-.9zM457.1 101.41h.9v.9h-.9zM463.79 53.95h.9v.9h-.9zM463.79 56.58h.9v.9h-.9zM463.79 57.64h.9v.9h-.9zM463.79 99.85h.9v.9h-.9zM463.79 95.87h.9v.9h-.9zM463.79 95.97h.9v.9h-.9zM470.48 53.95h.9v.9h-.9zM470.48 58.02h.9v.9h-.9zM470.48 57.73h.9v.9h-.9zM470.48 99.85h.9v.9h-.9zM470.48 96.39h.9v.9h-.9zM470.48 96.36h.9v.9h-.9zM477.17 36.85h.9v.9h-.9zM477.17 41.37h.9v.9h-.9zM477.17 47.8h.9v.9h-.9zM477.17 45.36h.9v.9h-.9zM477.17 48.75h.9v.9h-.9zM477.17 47.21h.9v.9h-.9zM477.17 49.53h.9v.9h-.9zM477.17 126.55h.9v.9h-.9zM477.17 109.53h.9v.9h-.9zM477.17 107.47h.9v.9h-.9zM477.17 119.07h.9v.9h-.9zM477.17 114.81h.9v.9h-.9zM477.17 108.78h.9v.9h-.9zM477.17 113.25h.9v.9h-.9zM477.17 124.59h.9v.9h-.9zM477.17 107.98h.9v.9h-.9zM477.17 121.32h.9v.9h-.9zM483.86 45.35h.9v.9h-.9zM483.86 54.73h.9v.9h-.9zM483.86 53.93h.9v.9h-.9zM483.86 48.54h.9v.9h-.9zM483.86 55.2h.9v.9h-.9zM483.86 53.77h.9v.9h-.9zM483.86 51.07h.9v.9h-.9zM483.86 102.05h.9v.9h-.9zM483.86 101.84h.9v.9h-.9zM483.86 95.98h.9v.9h-.9zM483.86 100.17h.9v.9h-.9zM490.55 45.35h.9v.9h-.9zM490.55 50.76h.9v.9h-.9zM490.55 51.89h.9v.9h-.9zM490.55 55.06h.9v.9h-.9zM490.55 55.71h.9v.9h-.9zM490.55 57.93h.9v.9h-.9zM490.55 57.57h.9v.9h-.9zM490.55 103.05h.9v.9h-.9zM490.55 94.77h.9v.9h-.9zM490.55 99.85h.9v.9h-.9zM490.55 95.6h.9v.9h-.9zM490.55 95.11h.9v.9h-.9z" fill="#3a3a3a"/>
<rect x="353.4" y="17.6" width="157" height="121" fill="none" stroke="#CFCFCF" stroke-width="0.8"/>
<line x1="511.95" y1="43.25" x2="668.95" y2="43.25" stroke="#F4F4F4" stroke-width="0.5"/>
<line x1="511.95" y1="71.05" x2="668.95" y2="71.05" stroke="#F4F4F4" stroke-width="0.5"/>
<line x1="511.95" y1="105.8" x2="668.95" y2="105.8" stroke="#F4F4F4" stroke-width="0.5"/>
<line x1="511.95" y1="22.4" x2="668.95" y2="22.4" stroke="#EBEBEB" stroke-width="0.6"/>
<line x1="511.95" y1="64.1" x2="668.95" y2="64.1" stroke="#EBEBEB" stroke-width="0.6"/>
<line x1="511.95" y1="78" x2="668.95" y2="78" stroke="#EBEBEB" stroke-width="0.6"/>
<line x1="511.95" y1="133.6" x2="668.95" y2="133.6" stroke="#EBEBEB" stroke-width="0.6"/>
<line x1="554.76" y1="17.6" x2="554.76" y2="138.6" stroke="#EBEBEB" stroke-width="0.6"/>
<line x1="626.14" y1="17.6" x2="626.14" y2="138.6" stroke="#EBEBEB" stroke-width="0.6"/>
<line x1="511.95" y1="78" x2="668.95" y2="78" stroke="#D48A8A" stroke-width="0.75" stroke-dasharray="0.9 1.3"/>
<line x1="531.35" y1="69.4" x2="531.35" y2="75.8" stroke="#4a4a4a" stroke-width="0.6"/>
<line x1="531.35" y1="80.5" x2="531.35" y2="85.4" stroke="#4a4a4a" stroke-width="0.6"/>
<rect x="528.3" y="75.8" width="6.1" height="4.7" fill="#8DD3C7" stroke="#777" stroke-width="0.45"/>
<line x1="528.3" y1="78" x2="534.4" y2="78" stroke="#222" stroke-width="0.9"/>
<line x1="538.04" y1="69.4" x2="538.04" y2="76.2" stroke="#4a4a4a" stroke-width="0.6"/>
<line x1="538.04" y1="80.5" x2="538.04" y2="85.8" stroke="#4a4a4a" stroke-width="0.6"/>
<rect x="534.99" y="76.2" width="6.1" height="4.3" fill="#FB8072" stroke="#777" stroke-width="0.45"/>
<line x1="534.99" y1="78" x2="541.09" y2="78" stroke="#222" stroke-width="0.9"/>
<line x1="544.73" y1="62.9" x2="544.73" y2="74.3" stroke="#4a4a4a" stroke-width="0.6"/>
<line x1="544.73" y1="82.2" x2="544.73" y2="90.7" stroke="#4a4a4a" stroke-width="0.6"/>
<rect x="541.68" y="74.3" width="6.1" height="7.9" fill="#FFFFB3" stroke="#777" stroke-width="0.45"/>
<line x1="541.68" y1="78" x2="547.78" y2="78" stroke="#222" stroke-width="0.9"/>
<line x1="551.42" y1="65.1" x2="551.42" y2="74.7" stroke="#4a4a4a" stroke-width="0.6"/>
<line x1="551.42" y1="81.5" x2="551.42" y2="88.6" stroke="#4a4a4a" stroke-width="0.6"/>
<rect x="548.37" y="74.7" width="6.1" height="6.8" fill="#BEBADA" stroke="#777" stroke-width="0.45"/>
<line x1="548.37" y1="78" x2="554.47" y2="78" stroke="#222" stroke-width="0.9"/>
<line x1="558.11" y1="65.1" x2="558.11" y2="74.7" stroke="#4a4a4a" stroke-width="0.6"/>
<line x1="558.11" y1="81.5" x2="558.11" y2="88.6" stroke="#4a4a4a" stroke-width="0.6"/>
<rect x="555.06" y="74.7" width="6.1" height="6.8" fill="#80B1D3" stroke="#777" stroke-width="0.45"/>
<line x1="555.06" y1="78" x2="561.16" y2="78" stroke="#222" stroke-width="0.9"/>
<line x1="564.8" y1="59.7" x2="564.8" y2="73.2" stroke="#4a4a4a" stroke-width="0.6"/>
<line x1="564.8" y1="83.2" x2="564.8" y2="95" stroke="#4a4a4a" stroke-width="0.6"/>
<rect x="561.75" y="73.2" width="6.1" height="10" fill="#FDB462" stroke="#777" stroke-width="0.45"/>
<line x1="561.75" y1="78" x2="567.85" y2="78" stroke="#222" stroke-width="0.9"/>
<line x1="571.49" y1="66.1" x2="571.49" y2="74.7" stroke="#4a4a4a" stroke-width="0.6"/>
<line x1="571.49" y1="81.1" x2="571.49" y2="89.6" stroke="#4a4a4a" stroke-width="0.6"/>
<rect x="568.44" y="74.7" width="6.1" height="6.4" fill="#B3DE69" stroke="#777" stroke-width="0.45"/>
<line x1="568.44" y1="78" x2="574.54" y2="78" stroke="#222" stroke-width="0.9"/>
<line x1="578.18" y1="66.1" x2="578.18" y2="74.3" stroke="#4a4a4a" stroke-width="0.6"/>
<line x1="578.18" y1="81.5" x2="578.18" y2="89.6" stroke="#4a4a4a" stroke-width="0.6"/>
<rect x="575.13" y="74.3" width="6.1" height="7.2" fill="#FCCDE5" stroke="#777" stroke-width="0.45"/>
<line x1="575.13" y1="78" x2="581.23" y2="78" stroke="#222" stroke-width="0.9"/>
<line x1="602.72" y1="67.2" x2="602.72" y2="75.3" stroke="#4a4a4a" stroke-width="0.6"/>
<line x1="602.72" y1="80.7" x2="602.72" y2="85.4" stroke="#4a4a4a" stroke-width="0.6"/>
<rect x="599.67" y="75.3" width="6.1" height="5.4" fill="#8DD3C7" stroke="#777" stroke-width="0.45"/>
<line x1="599.67" y1="78" x2="605.77" y2="78" stroke="#222" stroke-width="0.9"/>
<line x1="609.41" y1="73.6" x2="609.41" y2="77.3" stroke="#4a4a4a" stroke-width="0.6"/>
<line x1="609.41" y1="79" x2="609.41" y2="81.1" stroke="#4a4a4a" stroke-width="0.6"/>
<rect x="606.36" y="77.3" width="6.1" height="1.7" fill="#FB8072" stroke="#777" stroke-width="0.45"/>
<line x1="606.36" y1="78" x2="612.46" y2="78" stroke="#222" stroke-width="0.9"/>
<line x1="616.1" y1="61.9" x2="616.1" y2="73.6" stroke="#4a4a4a" stroke-width="0.6"/>
<line x1="616.1" y1="82.2" x2="616.1" y2="91.8" stroke="#4a4a4a" stroke-width="0.6"/>
<rect x="613.05" y="73.6" width="6.1" height="8.6" fill="#FFFFB3" stroke="#777" stroke-width="0.45"/>
<line x1="613.05" y1="78" x2="619.15" y2="78" stroke="#222" stroke-width="0.9"/>
<line x1="622.79" y1="60.8" x2="622.79" y2="74.7" stroke="#4a4a4a" stroke-width="0.6"/>
<line x1="622.79" y1="81.5" x2="622.79" y2="91.8" stroke="#4a4a4a" stroke-width="0.6"/>
<rect x="619.74" y="74.7" width="6.1" height="6.8" fill="#BEBADA" stroke="#777" stroke-width="0.45"/>
<line x1="619.74" y1="78" x2="625.84" y2="78" stroke="#222" stroke-width="0.9"/>
<line x1="629.48" y1="59.7" x2="629.48" y2="74.7" stroke="#4a4a4a" stroke-width="0.6"/>
<line x1="629.48" y1="81.5" x2="629.48" y2="91.8" stroke="#4a4a4a" stroke-width="0.6"/>
<rect x="626.43" y="74.7" width="6.1" height="6.8" fill="#80B1D3" stroke="#777" stroke-width="0.45"/>
<line x1="626.43" y1="78" x2="632.53" y2="78" stroke="#222" stroke-width="0.9"/>
<line x1="636.17" y1="54.4" x2="636.17" y2="73.2" stroke="#4a4a4a" stroke-width="0.6"/>
<line x1="636.17" y1="83.2" x2="636.17" y2="98.2" stroke="#4a4a4a" stroke-width="0.6"/>
<rect x="633.12" y="73.2" width="6.1" height="10" fill="#FDB462" stroke="#777" stroke-width="0.45"/>
<line x1="633.12" y1="78" x2="639.22" y2="78" stroke="#222" stroke-width="0.9"/>
<line x1="642.86" y1="62.9" x2="642.86" y2="74.3" stroke="#4a4a4a" stroke-width="0.6"/>
<line x1="642.86" y1="81.5" x2="642.86" y2="90.7" stroke="#4a4a4a" stroke-width="0.6"/>
<rect x="639.81" y="74.3" width="6.1" height="7.2" fill="#B3DE69" stroke="#777" stroke-width="0.45"/>
<line x1="639.81" y1="78" x2="645.91" y2="78" stroke="#222" stroke-width="0.9"/>
<line x1="649.55" y1="61.9" x2="649.55" y2="74.3" stroke="#4a4a4a" stroke-width="0.6"/>
<line x1="649.55" y1="81.5" x2="649.55" y2="90.7" stroke="#4a4a4a" stroke-width="0.6"/>
<rect x="646.5" y="74.3" width="6.1" height="7.2" fill="#FCCDE5" stroke="#777" stroke-width="0.45"/>
<line x1="646.5" y1="78" x2="652.6" y2="78" stroke="#222" stroke-width="0.9"/>
<path d="M530.9 63.55h.9v.9h-.9zM530.9 67.67h.9v.9h-.9zM530.9 64.56h.9v.9h-.9zM530.9 93.45h.9v.9h-.9zM530.9 92h.9v.9h-.9zM530.9 90h.9v.9h-.9zM530.9 87.11h.9v.9h-.9zM537.59 63.95h.9v.9h-.9zM537.59 67.36h.9v.9h-.9zM537.59 93.45h.9v.9h-.9zM537.59 87.52h.9v.9h-.9zM537.59 88.54h.9v.9h-.9zM537.59 86.91h.9v.9h-.9zM544.28 56.05h.9v.9h-.9zM544.28 59.82h.9v.9h-.9zM544.28 60.64h.9v.9h-.9zM544.28 95.15h.9v.9h-.9zM544.28 94.93h.9v.9h-.9zM550.97 58.85h.9v.9h-.9zM550.97 59.05h.9v.9h-.9zM550.97 61.7h.9v.9h-.9zM550.97 97.75h.9v.9h-.9zM550.97 90.23h.9v.9h-.9zM550.97 97.29h.9v.9h-.9zM550.97 90.64h.9v.9h-.9zM550.97 90.96h.9v.9h-.9zM557.66 58.85h.9v.9h-.9zM557.66 63.45h.9v.9h-.9zM557.66 62.47h.9v.9h-.9zM557.66 99.45h.9v.9h-.9zM557.66 92.42h.9v.9h-.9zM557.66 92.71h.9v.9h-.9zM557.66 90.13h.9v.9h-.9zM557.66 92.73h.9v.9h-.9zM557.66 89.35h.9v.9h-.9zM564.35 50.75h.9v.9h-.9zM564.35 57.18h.9v.9h-.9zM564.35 57.9h.9v.9h-.9zM564.35 56.37h.9v.9h-.9zM564.35 112.75h.9v.9h-.9zM564.35 95.86h.9v.9h-.9zM564.35 95.79h.9v.9h-.9zM564.35 98.28h.9v.9h-.9zM564.35 97.4h.9v.9h-.9zM564.35 102.97h.9v.9h-.9zM564.35 101.89h.9v.9h-.9zM564.35 106.49h.9v.9h-.9zM564.35 104.44h.9v.9h-.9zM571.04 56.05h.9v.9h-.9zM571.04 59.53h.9v.9h-.9zM571.04 57.62h.9v.9h-.9zM571.04 62.59h.9v.9h-.9zM571.04 63.05h.9v.9h-.9zM571.04 93.45h.9v.9h-.9zM571.04 93.37h.9v.9h-.9zM577.73 56.05h.9v.9h-.9zM577.73 64.05h.9v.9h-.9zM577.73 59.44h.9v.9h-.9zM577.73 60.3h.9v.9h-.9zM577.73 64.39h.9v.9h-.9zM577.73 93.45h.9v.9h-.9zM577.73 92.67h.9v.9h-.9zM602.27 89.15h.9v.9h-.9zM602.27 88.65h.9v.9h-.9zM608.96 72.15h.9v.9h-.9zM608.96 72.04h.9v.9h-.9zM608.96 82.35h.9v.9h-.9zM608.96 82.15h.9v.9h-.9zM615.65 98.85h.9v.9h-.9zM615.65 97.07h.9v.9h-.9zM615.65 92.82h.9v.9h-.9zM615.65 94.79h.9v.9h-.9zM635.72 43.25h.9v.9h-.9zM635.72 49.57h.9v.9h-.9zM635.72 45.63h.9v.9h-.9zM635.72 46.04h.9v.9h-.9zM635.72 45.75h.9v.9h-.9zM635.72 114.45h.9v.9h-.9zM635.72 105.51h.9v.9h-.9zM635.72 111.88h.9v.9h-.9zM635.72 107.37h.9v.9h-.9zM635.72 107.58h.9v.9h-.9zM635.72 100.43h.9v.9h-.9zM635.72 99.01h.9v.9h-.9zM635.72 99.57h.9v.9h-.9zM642.41 61.45h.9v.9h-.9zM642.41 61.29h.9v.9h-.9zM642.41 96.65h.9v.9h-.9zM642.41 91.59h.9v.9h-.9zM642.41 95.35h.9v.9h-.9zM649.1 60.35h.9v.9h-.9zM649.1 60.29h.9v.9h-.9zM649.1 96.65h.9v.9h-.9zM649.1 93.92h.9v.9h-.9zM649.1 93.91h.9v.9h-.9z" fill="#3a3a3a"/>
<rect x="511.95" y="17.6" width="157" height="121" fill="none" stroke="#CFCFCF" stroke-width="0.8"/>
<line x1="36.3" y1="166.25" x2="193.3" y2="166.25" stroke="#F4F4F4" stroke-width="0.5"/>
<line x1="36.3" y1="194.05" x2="193.3" y2="194.05" stroke="#F4F4F4" stroke-width="0.5"/>
<line x1="36.3" y1="228.8" x2="193.3" y2="228.8" stroke="#F4F4F4" stroke-width="0.5"/>
<line x1="36.3" y1="145.4" x2="193.3" y2="145.4" stroke="#EBEBEB" stroke-width="0.6"/>
<line x1="36.3" y1="187.1" x2="193.3" y2="187.1" stroke="#EBEBEB" stroke-width="0.6"/>
<line x1="36.3" y1="201" x2="193.3" y2="201" stroke="#EBEBEB" stroke-width="0.6"/>
<line x1="36.3" y1="256.6" x2="193.3" y2="256.6" stroke="#EBEBEB" stroke-width="0.6"/>
<line x1="79.11" y1="140.3" x2="79.11" y2="261.4" stroke="#EBEBEB" stroke-width="0.6"/>
<line x1="150.49" y1="140.3" x2="150.49" y2="261.4" stroke="#EBEBEB" stroke-width="0.6"/>
<line x1="36.3" y1="187.1" x2="193.3" y2="187.1" stroke="#D48A8A" stroke-width="0.75" stroke-dasharray="0.9 1.3"/>
<line x1="55.7" y1="159.2" x2="55.7" y2="180.2" stroke="#4a4a4a" stroke-width="0.6"/>
<line x1="55.7" y1="194.1" x2="55.7" y2="213.7" stroke="#4a4a4a" stroke-width="0.6"/>
<rect x="52.65" y="180.2" width="6.1" height="13.9" fill="#8DD3C7" stroke="#777" stroke-width="0.45"/>
<line x1="52.65" y1="187.1" x2="58.75" y2="187.1" stroke="#222" stroke-width="0.9"/>
<line x1="62.39" y1="160.3" x2="62.39" y2="180.6" stroke="#4a4a4a" stroke-width="0.6"/>
<line x1="62.39" y1="194.1" x2="62.39" y2="214.8" stroke="#4a4a4a" stroke-width="0.6"/>
<rect x="59.34" y="180.6" width="6.1" height="13.5" fill="#FB8072" stroke="#777" stroke-width="0.45"/>
<line x1="59.34" y1="187.1" x2="65.44" y2="187.1" stroke="#222" stroke-width="0.9"/>
<line x1="69.08" y1="146" x2="69.08" y2="177.4" stroke="#4a4a4a" stroke-width="0.6"/>
<line x1="69.08" y1="198.8" x2="69.08" y2="231.9" stroke="#4a4a4a" stroke-width="0.6"/>
<rect x="66.03" y="177.4" width="6.1" height="21.4" fill="#FFFFB3" stroke="#777" stroke-width="0.45"/>
<line x1="66.03" y1="187.1" x2="72.13" y2="187.1" stroke="#222" stroke-width="0.9"/>
<line x1="75.77" y1="147.5" x2="75.77" y2="177.4" stroke="#4a4a4a" stroke-width="0.6"/>
<line x1="75.77" y1="196.6" x2="75.77" y2="227.6" stroke="#4a4a4a" stroke-width="0.6"/>
<rect x="72.72" y="177.4" width="6.1" height="19.2" fill="#BEBADA" stroke="#777" stroke-width="0.45"/>
<line x1="72.72" y1="187.1" x2="78.82" y2="187.1" stroke="#222" stroke-width="0.9"/>
<line x1="82.46" y1="147.5" x2="82.46" y2="177.4" stroke="#4a4a4a" stroke-width="0.6"/>
<line x1="82.46" y1="196.6" x2="82.46" y2="227.6" stroke="#4a4a4a" stroke-width="0.6"/>
<rect x="79.41" y="177.4" width="6.1" height="19.2" fill="#80B1D3" stroke="#777" stroke-width="0.45"/>
<line x1="79.41" y1="187.1" x2="85.51" y2="187.1" stroke="#222" stroke-width="0.9"/>
<line x1="89.15" y1="146" x2="89.15" y2="175.9" stroke="#4a4a4a" stroke-width="0.6"/>
<line x1="89.15" y1="200.9" x2="89.15" y2="234" stroke="#4a4a4a" stroke-width="0.6"/>
<rect x="86.1" y="175.9" width="6.1" height="25" fill="#FDB462" stroke="#777" stroke-width="0.45"/>
<line x1="86.1" y1="187.1" x2="92.2" y2="187.1" stroke="#222" stroke-width="0.9"/>
<line x1="95.84" y1="149.6" x2="95.84" y2="178" stroke="#4a4a4a" stroke-width="0.6"/>
<line x1="95.84" y1="196" x2="95.84" y2="223.3" stroke="#4a4a4a" stroke-width="0.6"/>
<rect x="92.79" y="178" width="6.1" height="18" fill="#B3DE69" stroke="#777" stroke-width="0.45"/>
<line x1="92.79" y1="187.1" x2="98.89" y2="187.1" stroke="#222" stroke-width="0.9"/>
<line x1="102.53" y1="146.4" x2="102.53" y2="177.6" stroke="#4a4a4a" stroke-width="0.6"/>
<line x1="102.53" y1="196.4" x2="102.53" y2="225.5" stroke="#4a4a4a" stroke-width="0.6"/>
<rect x="99.48" y="177.6" width="6.1" height="18.8" fill="#FCCDE5" stroke="#777" stroke-width="0.45"/>
<line x1="99.48" y1="187.1" x2="105.58" y2="187.1" stroke="#222" stroke-width="0.9"/>
<line x1="127.07" y1="147.5" x2="127.07" y2="180.2" stroke="#4a4a4a" stroke-width="0.6"/>
<line x1="127.07" y1="193.4" x2="127.07" y2="212.6" stroke="#4a4a4a" stroke-width="0.6"/>
<rect x="124.02" y="180.2" width="6.1" height="13.2" fill="#8DD3C7" stroke="#777" stroke-width="0.45"/>
<line x1="124.02" y1="187.1" x2="130.12" y2="187.1" stroke="#222" stroke-width="0.9"/>
<line x1="133.76" y1="174.2" x2="133.76" y2="184.4" stroke="#4a4a4a" stroke-width="0.6"/>
<line x1="133.76" y1="189.6" x2="133.76" y2="197.7" stroke="#4a4a4a" stroke-width="0.6"/>
<rect x="130.71" y="184.4" width="6.1" height="5.2" fill="#FB8072" stroke="#777" stroke-width="0.45"/>
<line x1="130.71" y1="187.1" x2="136.81" y2="187.1" stroke="#222" stroke-width="0.9"/>
<line x1="140.45" y1="147.5" x2="140.45" y2="175.5" stroke="#4a4a4a" stroke-width="0.6"/>
<line x1="140.45" y1="197.7" x2="140.45" y2="234" stroke="#4a4a4a" stroke-width="0.6"/>
<rect x="137.4" y="175.5" width="6.1" height="22.2" fill="#FFFFB3" stroke="#777" stroke-width="0.45"/>
<line x1="137.4" y1="187.1" x2="143.5" y2="187.1" stroke="#222" stroke-width="0.9"/>
<line x1="147.14" y1="147.5" x2="147.14" y2="178.9" stroke="#4a4a4a" stroke-width="0.6"/>
<line x1="147.14" y1="194.5" x2="147.14" y2="214.8" stroke="#4a4a4a" stroke-width="0.6"/>
<rect x="144.09" y="178.9" width="6.1" height="15.6" fill="#BEBADA" stroke="#777" stroke-width="0.45"/>
<line x1="144.09" y1="187.1" x2="150.19" y2="187.1" stroke="#222" stroke-width="0.9"/>
<line x1="153.83" y1="147.5" x2="153.83" y2="178.5" stroke="#4a4a4a" stroke-width="0.6"/>
<line x1="153.83" y1="194.5" x2="153.83" y2="216.9" stroke="#4a4a4a" stroke-width="0.6"/>
<rect x="150.78" y="178.5" width="6.1" height="16" fill="#80B1D3" stroke="#777" stroke-width="0.45"/>
<line x1="150.78" y1="187.1" x2="156.88" y2="187.1" stroke="#222" stroke-width="0.9"/>
<line x1="160.52" y1="146" x2="160.52" y2="175.3" stroke="#4a4a4a" stroke-width="0.6"/>
<line x1="160.52" y1="200.5" x2="160.52" y2="238.3" stroke="#4a4a4a" stroke-width="0.6"/>
<rect x="157.47" y="175.3" width="6.1" height="25.2" fill="#FDB462" stroke="#777" stroke-width="0.45"/>
<line x1="157.47" y1="187.1" x2="163.57" y2="187.1" stroke="#222" stroke-width="0.9"/>
<line x1="167.21" y1="147.5" x2="167.21" y2="178.9" stroke="#4a4a4a" stroke-width="0.6"/>
<line x1="167.21" y1="194.7" x2="167.21" y2="216.9" stroke="#4a4a4a" stroke-width="0.6"/>
<rect x="164.16" y="178.9" width="6.1" height="15.8" fill="#B3DE69" stroke="#777" stroke-width="0.45"/>
<line x1="164.16" y1="187.1" x2="170.26" y2="187.1" stroke="#222" stroke-width="0.9"/>
<line x1="173.9" y1="148.5" x2="173.9" y2="178.5" stroke="#4a4a4a" stroke-width="0.6"/>
<line x1="173.9" y1="194.9" x2="173.9" y2="219.1" stroke="#4a4a4a" stroke-width="0.6"/>
<rect x="170.85" y="178.5" width="6.1" height="16.4" fill="#FCCDE5" stroke="#777" stroke-width="0.45"/>
<line x1="170.85" y1="187.1" x2="176.95" y2="187.1" stroke="#222" stroke-width="0.9"/>
<path d="M55.25 151.35h.9v.9h-.9zM55.25 154.2h.9v.9h-.9zM55.25 155.57h.9v.9h-.9zM55.25 157.55h.9v.9h-.9zM55.25 233.55h.9v.9h-.9zM55.25 227.75h.9v.9h-.9zM55.25 226.46h.9v.9h-.9zM55.25 220.81h.9v.9h-.9zM55.25 221.48h.9v.9h-.9zM55.25 224.26h.9v.9h-.9zM55.25 214.7h.9v.9h-.9zM55.25 226.17h.9v.9h-.9zM55.25 216.56h.9v.9h-.9zM55.25 214.75h.9v.9h-.9zM61.94 151.35h.9v.9h-.9zM61.94 157.78h.9v.9h-.9zM61.94 154.24h.9v.9h-.9zM61.94 158.07h.9v.9h-.9zM61.94 231.85h.9v.9h-.9zM61.94 225.61h.9v.9h-.9zM61.94 231.22h.9v.9h-.9zM61.94 220.82h.9v.9h-.9zM61.94 219.05h.9v.9h-.9zM61.94 220.57h.9v.9h-.9zM61.94 224.42h.9v.9h-.9zM61.94 226.21h.9v.9h-.9zM61.94 223.08h.9v.9h-.9zM68.63 248.55h.9v.9h-.9zM68.63 240.49h.9v.9h-.9zM68.63 232.92h.9v.9h-.9zM68.63 233.39h.9v.9h-.9zM68.63 234.42h.9v.9h-.9zM68.63 242.54h.9v.9h-.9zM68.63 235.02h.9v.9h-.9zM68.63 239.08h.9v.9h-.9zM75.32 238.25h.9v.9h-.9zM75.32 228.36h.9v.9h-.9zM75.32 228.46h.9v.9h-.9zM75.32 229.56h.9v.9h-.9zM75.32 233.59h.9v.9h-.9zM82.01 238.25h.9v.9h-.9zM82.01 233.85h.9v.9h-.9zM82.01 233.64h.9v.9h-.9zM82.01 229.72h.9v.9h-.9zM82.01 231.79h.9v.9h-.9zM88.7 245.35h.9v.9h-.9zM88.7 237.86h.9v.9h-.9zM88.7 237.88h.9v.9h-.9zM88.7 235.1h.9v.9h-.9zM88.7 243.6h.9v.9h-.9zM88.7 235.55h.9v.9h-.9zM95.39 148.05h.9v.9h-.9zM95.39 148.05h.9v.9h-.9zM95.39 235.75h.9v.9h-.9zM95.39 234.58h.9v.9h-.9zM95.39 224.07h.9v.9h-.9zM95.39 227.42h.9v.9h-.9zM95.39 232.57h.9v.9h-.9zM95.39 235.16h.9v.9h-.9zM102.08 144.85h.9v.9h-.9zM102.08 144.78h.9v.9h-.9zM102.08 238.25h.9v.9h-.9zM102.08 227.72h.9v.9h-.9zM102.08 227.24h.9v.9h-.9zM102.08 237.22h.9v.9h-.9zM102.08 227.24h.9v.9h-.9zM102.08 231.29h.9v.9h-.9zM102.08 226.78h.9v.9h-.9zM126.62 221.85h.9v.9h-.9zM126.62 216.37h.9v.9h-.9zM126.62 221.22h.9v.9h-.9zM126.62 213.69h.9v.9h-.9zM126.62 219.54h.9v.9h-.9zM133.31 167.35h.9v.9h-.9zM133.31 170.79h.9v.9h-.9zM133.31 168.26h.9v.9h-.9zM133.31 203.65h.9v.9h-.9zM133.31 201.41h.9v.9h-.9zM133.31 198.95h.9v.9h-.9zM140 249.55h.9v.9h-.9zM140 247.2h.9v.9h-.9zM140 239.42h.9v.9h-.9zM140 234.79h.9v.9h-.9zM140 234.75h.9v.9h-.9zM140 239.5h.9v.9h-.9zM140 238.89h.9v.9h-.9zM140 236.93h.9v.9h-.9zM146.69 244.25h.9v.9h-.9zM146.69 216.8h.9v.9h-.9zM146.69 220.75h.9v.9h-.9zM146.69 220.1h.9v.9h-.9zM146.69 237.27h.9v.9h-.9zM146.69 215.55h.9v.9h-.9zM146.69 233.69h.9v.9h-.9zM146.69 237.23h.9v.9h-.9zM146.69 216.52h.9v.9h-.9zM146.69 240.95h.9v.9h-.9zM146.69 232.26h.9v.9h-.9zM146.69 239.87h.9v.9h-.9zM146.69 219.51h.9v.9h-.9zM146.69 221.45h.9v.9h-.9zM146.69 221.99h.9v.9h-.9zM153.38 251.75h.9v.9h-.9zM153.38 251.68h.9v.9h-.9zM153.38 232.28h.9v.9h-.9zM153.38 224.32h.9v.9h-.9zM153.38 226.42h.9v.9h-.9zM153.38 221.98h.9v.9h-.9zM153.38 217.92h.9v.9h-.9zM153.38 218.53h.9v.9h-.9zM153.38 243.19h.9v.9h-.9zM153.38 222.24h.9v.9h-.9zM153.38 248.3h.9v.9h-.9zM153.38 221.34h.9v.9h-.9zM153.38 221.74h.9v.9h-.9zM153.38 229.3h.9v.9h-.9zM153.38 220.04h.9v.9h-.9zM153.38 224.7h.9v.9h-.9zM153.38 249.39h.9v.9h-.9zM153.38 245.66h.9v.9h-.9zM160.07 246.35h.9v.9h-.9zM160.07 244.28h.9v.9h-.9zM160.07 242.54h.9v.9h-.9zM160.07 245.37h.9v.9h-.9zM166.76 145.95h.9v.9h-.9zM166.76 145.94h.9v.9h-.9zM166.76 244.25h.9v.9h-.9zM166.76 227.85h.9v.9h-.9zM166.76 233.36h.9v.9h-.9zM166.76 217.87h.9v.9h-.9zM166.76 233.81h.9v.9h-.9zM166.76 225.09h.9v.9h-.9zM166.76 234.53h.9v.9h-.9zM166.76 230.82h.9v.9h-.9zM166.76 221.24h.9v.9h-.9zM166.76 217.86h.9v.9h-.9zM166.76 241.2h.9v.9h-.9zM166.76 218.63h.9v.9h-.9zM166.76 225.66h.9v.9h-.9zM166.76 222.47h.9v.9h-.9zM173.45 248.55h.9v.9h-.9zM173.45 223.98h.9v.9h-.9zM173.45 237.54h.9v.9h-.9zM173.45 247.47h.9v.9h-.9zM173.45 223.18h.9v.9h-.9zM173.45 234.47h.9v.9h-.9zM173.45 224.05h.9v.9h-.9zM173.45 231.11h.9v.9h-.9zM173.45 226.33h.9v.9h-.9zM173.45 221.49h.9v.9h-.9zM173.45 221.4h.9v.9h-.9zM173.45 222.17h.9v.9h-.9zM173.45 244.36h.9v.9h-.9zM173.45 229.23h.9v.9h-.9zM173.45 222.4h.9v.9h-.9z" fill="#3a3a3a"/>
<rect x="36.3" y="140.3" width="157" height="121.1" fill="none" stroke="#CFCFCF" stroke-width="0.8"/>
<line x1="194.85" y1="166.25" x2="351.85" y2="166.25" stroke="#F4F4F4" stroke-width="0.5"/>
<line x1="194.85" y1="194.05" x2="351.85" y2="194.05" stroke="#F4F4F4" stroke-width="0.5"/>
<line x1="194.85" y1="228.8" x2="351.85" y2="228.8" stroke="#F4F4F4" stroke-width="0.5"/>
<line x1="194.85" y1="145.4" x2="351.85" y2="145.4" stroke="#EBEBEB" stroke-width="0.6"/>
<line x1="194.85" y1="187.1" x2="351.85" y2="187.1" stroke="#EBEBEB" stroke-width="0.6"/>
<line x1="194.85" y1="201" x2="351.85" y2="201" stroke="#EBEBEB" stroke-width="0.6"/>
<line x1="194.85" y1="256.6" x2="351.85" y2="256.6" stroke="#EBEBEB" stroke-width="0.6"/>
<line x1="237.66" y1="140.3" x2="237.66" y2="261.4" stroke="#EBEBEB" stroke-width="0.6"/>
<line x1="309.04" y1="140.3" x2="309.04" y2="261.4" stroke="#EBEBEB" stroke-width="0.6"/>
<line x1="194.85" y1="187.1" x2="351.85" y2="187.1" stroke="#D48A8A" stroke-width="0.75" stroke-dasharray="0.9 1.3"/>
<line x1="214.25" y1="167.8" x2="214.25" y2="182.3" stroke="#4a4a4a" stroke-width="0.6"/>
<line x1="214.25" y1="191.7" x2="214.25" y2="205.2" stroke="#4a4a4a" stroke-width="0.6"/>
<rect x="211.2" y="182.3" width="6.1" height="9.4" fill="#8DD3C7" stroke="#777" stroke-width="0.45"/>
<line x1="211.2" y1="187.1" x2="217.3" y2="187.1" stroke="#222" stroke-width="0.9"/>
<line x1="220.94" y1="168.8" x2="220.94" y2="182.3" stroke="#4a4a4a" stroke-width="0.6"/>
<line x1="220.94" y1="191.7" x2="220.94" y2="204.1" stroke="#4a4a4a" stroke-width="0.6"/>
<rect x="217.89" y="182.3" width="6.1" height="9.4" fill="#FB8072" stroke="#777" stroke-width="0.45"/>
<line x1="217.89" y1="187.1" x2="223.99" y2="187.1" stroke="#222" stroke-width="0.9"/>
<line x1="227.63" y1="152.8" x2="227.63" y2="180.2" stroke="#4a4a4a" stroke-width="0.6"/>
<line x1="227.63" y1="194.5" x2="227.63" y2="216.9" stroke="#4a4a4a" stroke-width="0.6"/>
<rect x="224.58" y="180.2" width="6.1" height="14.3" fill="#FFFFB3" stroke="#777" stroke-width="0.45"/>
<line x1="224.58" y1="187.1" x2="230.68" y2="187.1" stroke="#222" stroke-width="0.9"/>
<line x1="234.32" y1="161.4" x2="234.32" y2="181.2" stroke="#4a4a4a" stroke-width="0.6"/>
<line x1="234.32" y1="193.4" x2="234.32" y2="212.6" stroke="#4a4a4a" stroke-width="0.6"/>
<rect x="231.27" y="181.2" width="6.1" height="12.2" fill="#BEBADA" stroke="#777" stroke-width="0.45"/>
<line x1="231.27" y1="187.1" x2="237.37" y2="187.1" stroke="#222" stroke-width="0.9"/>
<line x1="241.01" y1="161.4" x2="241.01" y2="181.2" stroke="#4a4a4a" stroke-width="0.6"/>
<line x1="241.01" y1="193.8" x2="241.01" y2="212.6" stroke="#4a4a4a" stroke-width="0.6"/>
<rect x="237.96" y="181.2" width="6.1" height="12.6" fill="#80B1D3" stroke="#777" stroke-width="0.45"/>
<line x1="237.96" y1="187.1" x2="244.06" y2="187.1" stroke="#222" stroke-width="0.9"/>
<line x1="247.7" y1="147.5" x2="247.7" y2="177.6" stroke="#4a4a4a" stroke-width="0.6"/>
<line x1="247.7" y1="196.6" x2="247.7" y2="225.5" stroke="#4a4a4a" stroke-width="0.6"/>
<rect x="244.65" y="177.6" width="6.1" height="19" fill="#FDB462" stroke="#777" stroke-width="0.45"/>
<line x1="244.65" y1="187.1" x2="250.75" y2="187.1" stroke="#222" stroke-width="0.9"/>
<line x1="254.39" y1="159.2" x2="254.39" y2="181.7" stroke="#4a4a4a" stroke-width="0.6"/>
<line x1="254.39" y1="193.4" x2="254.39" y2="210.5" stroke="#4a4a4a" stroke-width="0.6"/>
<rect x="251.34" y="181.7" width="6.1" height="11.7" fill="#B3DE69" stroke="#777" stroke-width="0.45"/>
<line x1="251.34" y1="187.1" x2="257.44" y2="187.1" stroke="#222" stroke-width="0.9"/>
<line x1="261.08" y1="159.2" x2="261.08" y2="181.2" stroke="#4a4a4a" stroke-width="0.6"/>
<line x1="261.08" y1="193.4" x2="261.08" y2="211.6" stroke="#4a4a4a" stroke-width="0.6"/>
<rect x="258.03" y="181.2" width="6.1" height="12.2" fill="#FCCDE5" stroke="#777" stroke-width="0.45"/>
<line x1="258.03" y1="187.1" x2="264.13" y2="187.1" stroke="#222" stroke-width="0.9"/>
<line x1="285.62" y1="171" x2="285.62" y2="182.3" stroke="#4a4a4a" stroke-width="0.6"/>
<line x1="285.62" y1="192.1" x2="285.62" y2="204.1" stroke="#4a4a4a" stroke-width="0.6"/>
<rect x="282.57" y="182.3" width="6.1" height="9.8" fill="#8DD3C7" stroke="#777" stroke-width="0.45"/>
<line x1="282.57" y1="187.1" x2="288.67" y2="187.1" stroke="#222" stroke-width="0.9"/>
<line x1="292.31" y1="179.5" x2="292.31" y2="185.3" stroke="#4a4a4a" stroke-width="0.6"/>
<line x1="292.31" y1="189.6" x2="292.31" y2="194.5" stroke="#4a4a4a" stroke-width="0.6"/>
<rect x="289.26" y="185.3" width="6.1" height="4.3" fill="#FB8072" stroke="#777" stroke-width="0.45"/>
<line x1="289.26" y1="187.1" x2="295.36" y2="187.1" stroke="#222" stroke-width="0.9"/>
<line x1="299" y1="156" x2="299" y2="179.5" stroke="#4a4a4a" stroke-width="0.6"/>
<line x1="299" y1="194.5" x2="299" y2="216.9" stroke="#4a4a4a" stroke-width="0.6"/>
<rect x="295.95" y="179.5" width="6.1" height="15" fill="#FFFFB3" stroke="#777" stroke-width="0.45"/>
<line x1="295.95" y1="187.1" x2="302.05" y2="187.1" stroke="#222" stroke-width="0.9"/>
<line x1="305.69" y1="159.2" x2="305.69" y2="180.6" stroke="#4a4a4a" stroke-width="0.6"/>
<line x1="305.69" y1="193.4" x2="305.69" y2="212.6" stroke="#4a4a4a" stroke-width="0.6"/>
<rect x="302.64" y="180.6" width="6.1" height="12.8" fill="#BEBADA" stroke="#777" stroke-width="0.45"/>
<line x1="302.64" y1="187.1" x2="308.74" y2="187.1" stroke="#222" stroke-width="0.9"/>
<line x1="312.38" y1="159.2" x2="312.38" y2="180.2" stroke="#4a4a4a" stroke-width="0.6"/>
<line x1="312.38" y1="193.4" x2="312.38" y2="212.6" stroke="#4a4a4a" stroke-width="0.6"/>
<rect x="309.33" y="180.2" width="6.1" height="13.2" fill="#80B1D3" stroke="#777" stroke-width="0.45"/>
<line x1="309.33" y1="187.1" x2="315.43" y2="187.1" stroke="#222" stroke-width="0.9"/>
<line x1="319.07" y1="146.4" x2="319.07" y2="178.5" stroke="#4a4a4a" stroke-width="0.6"/>
<line x1="319.07" y1="196.2" x2="319.07" y2="223.3" stroke="#4a4a4a" stroke-width="0.6"/>
<rect x="316.02" y="178.5" width="6.1" height="17.7" fill="#FDB462" stroke="#777" stroke-width="0.45"/>
<line x1="316.02" y1="187.1" x2="322.12" y2="187.1" stroke="#222" stroke-width="0.9"/>
<line x1="325.76" y1="163.5" x2="325.76" y2="181.7" stroke="#4a4a4a" stroke-width="0.6"/>
<line x1="325.76" y1="193.4" x2="325.76" y2="210.5" stroke="#4a4a4a" stroke-width="0.6"/>
<rect x="322.71" y="181.7" width="6.1" height="11.7" fill="#B3DE69" stroke="#777" stroke-width="0.45"/>
<line x1="322.71" y1="187.1" x2="328.81" y2="187.1" stroke="#222" stroke-width="0.9"/>
<line x1="332.45" y1="163.5" x2="332.45" y2="181.2" stroke="#4a4a4a" stroke-width="0.6"/>
<line x1="332.45" y1="193.4" x2="332.45" y2="212.6" stroke="#4a4a4a" stroke-width="0.6"/>
<rect x="329.4" y="181.2" width="6.1" height="12.2" fill="#FCCDE5" stroke="#777" stroke-width="0.45"/>
<line x1="329.4" y1="187.1" x2="335.5" y2="187.1" stroke="#222" stroke-width="0.9"/>
<path d="M213.8 161.95h.9v.9h-.9zM213.8 162.56h.9v.9h-.9zM213.8 161.97h.9v.9h-.9zM213.8 210.05h.9v.9h-.9zM213.8 207.09h.9v.9h-.9zM213.8 206.13h.9v.9h-.9zM220.49 161.95h.9v.9h-.9zM220.49 166.78h.9v.9h-.9zM220.49 167.04h.9v.9h-.9zM220.49 208.95h.9v.9h-.9zM220.49 205.59h.9v.9h-.9zM220.49 204.94h.9v.9h-.9zM227.18 145.95h.9v.9h-.9zM227.18 150.62h.9v.9h-.9zM227.18 150.55h.9v.9h-.9zM227.18 236.75h.9v.9h-.9zM227.18 225.41h.9v.9h-.9zM227.18 233.42h.9v.9h-.9zM227.18 229.7h.9v.9h-.9zM227.18 222.29h.9v.9h-.9zM227.18 222.31h.9v.9h-.9zM227.18 224.44h.9v.9h-.9zM227.18 221.66h.9v.9h-.9zM227.18 221.02h.9v.9h-.9zM227.18 217.87h.9v.9h-.9zM233.87 153.45h.9v.9h-.9zM233.87 158.94h.9v.9h-.9zM233.87 153.77h.9v.9h-.9zM233.87 159.52h.9v.9h-.9zM233.87 217.55h.9v.9h-.9zM233.87 214.75h.9v.9h-.9zM233.87 215.35h.9v.9h-.9zM240.56 153.45h.9v.9h-.9zM240.56 154.77h.9v.9h-.9zM240.56 159.21h.9v.9h-.9zM240.56 158.97h.9v.9h-.9zM240.56 222.85h.9v.9h-.9zM240.56 214.37h.9v.9h-.9zM240.56 215.54h.9v.9h-.9zM240.56 215.96h.9v.9h-.9zM240.56 222.16h.9v.9h-.9zM247.25 145.95h.9v.9h-.9zM247.25 145.93h.9v.9h-.9zM247.25 249.55h.9v.9h-.9zM247.25 245h.9v.9h-.9zM247.25 226.3h.9v.9h-.9zM247.25 226.35h.9v.9h-.9zM247.25 239.71h.9v.9h-.9zM247.25 245.78h.9v.9h-.9zM247.25 233.29h.9v.9h-.9zM247.25 236.19h.9v.9h-.9zM247.25 226.25h.9v.9h-.9zM247.25 231.45h.9v.9h-.9zM247.25 246.88h.9v.9h-.9zM247.25 243.4h.9v.9h-.9zM253.94 155.55h.9v.9h-.9zM253.94 155.99h.9v.9h-.9zM253.94 227.15h.9v.9h-.9zM253.94 226.45h.9v.9h-.9zM253.94 212.96h.9v.9h-.9zM253.94 211.71h.9v.9h-.9zM253.94 212.05h.9v.9h-.9zM253.94 216.88h.9v.9h-.9zM253.94 219.87h.9v.9h-.9zM253.94 225.69h.9v.9h-.9zM260.63 155.55h.9v.9h-.9zM260.63 156.36h.9v.9h-.9zM260.63 227.15h.9v.9h-.9zM260.63 219.73h.9v.9h-.9zM260.63 221.99h.9v.9h-.9zM260.63 216.58h.9v.9h-.9zM260.63 218.06h.9v.9h-.9zM260.63 212.43h.9v.9h-.9zM260.63 222.34h.9v.9h-.9zM260.63 213.78h.9v.9h-.9zM285.17 166.25h.9v.9h-.9zM285.17 166.64h.9v.9h-.9zM285.17 216.45h.9v.9h-.9zM285.17 210.61h.9v.9h-.9zM285.17 206.57h.9v.9h-.9zM285.17 205.28h.9v.9h-.9zM285.17 206.13h.9v.9h-.9zM285.17 210.48h.9v.9h-.9zM291.86 176.95h.9v.9h-.9zM291.86 177.34h.9v.9h-.9zM291.86 197.25h.9v.9h-.9zM291.86 195.31h.9v.9h-.9zM298.55 149.15h.9v.9h-.9zM298.55 154.28h.9v.9h-.9zM298.55 152.5h.9v.9h-.9zM298.55 242.15h.9v.9h-.9zM298.55 227.98h.9v.9h-.9zM298.55 223.04h.9v.9h-.9zM298.55 219.88h.9v.9h-.9zM298.55 228.5h.9v.9h-.9zM298.55 217.67h.9v.9h-.9zM298.55 221.25h.9v.9h-.9zM298.55 224.74h.9v.9h-.9zM298.55 240.56h.9v.9h-.9zM298.55 229.78h.9v.9h-.9zM298.55 237.76h.9v.9h-.9zM298.55 225.1h.9v.9h-.9zM298.55 220.06h.9v.9h-.9zM305.24 150.25h.9v.9h-.9zM305.24 156.77h.9v.9h-.9zM305.24 150.7h.9v.9h-.9zM305.24 153.38h.9v.9h-.9zM305.24 217.55h.9v.9h-.9zM305.24 213.99h.9v.9h-.9zM305.24 213.36h.9v.9h-.9zM311.93 147.65h.9v.9h-.9zM311.93 154.3h.9v.9h-.9zM311.93 152.28h.9v.9h-.9zM311.93 155.08h.9v.9h-.9zM311.93 156.42h.9v.9h-.9zM311.93 217.55h.9v.9h-.9zM311.93 215.55h.9v.9h-.9zM311.93 217.06h.9v.9h-.9zM318.62 144.85h.9v.9h-.9zM318.62 144.76h.9v.9h-.9zM318.62 247.45h.9v.9h-.9zM318.62 224.16h.9v.9h-.9zM318.62 228.18h.9v.9h-.9zM318.62 229.9h.9v.9h-.9zM318.62 236.75h.9v.9h-.9zM318.62 225.8h.9v.9h-.9zM318.62 240.33h.9v.9h-.9zM318.62 238.48h.9v.9h-.9zM318.62 231.89h.9v.9h-.9zM318.62 225.91h.9v.9h-.9zM318.62 246.33h.9v.9h-.9zM318.62 227.67h.9v.9h-.9zM325.31 144.85h.9v.9h-.9zM325.31 149.47h.9v.9h-.9zM325.31 160.22h.9v.9h-.9zM325.31 160.33h.9v.9h-.9zM325.31 150.88h.9v.9h-.9zM325.31 159.44h.9v.9h-.9zM325.31 146.14h.9v.9h-.9zM325.31 156.32h.9v.9h-.9zM325.31 160.68h.9v.9h-.9zM325.31 223.95h.9v.9h-.9zM325.31 212.4h.9v.9h-.9zM325.31 214.38h.9v.9h-.9zM325.31 217.87h.9v.9h-.9zM325.31 222.92h.9v.9h-.9zM325.31 211.84h.9v.9h-.9zM325.31 214.11h.9v.9h-.9zM332 148.05h.9v.9h-.9zM332 160.69h.9v.9h-.9zM332 148.62h.9v.9h-.9zM332 161.24h.9v.9h-.9zM332 161.73h.9v.9h-.9zM332 161.7h.9v.9h-.9zM332 158.75h.9v.9h-.9zM332 223.95h.9v.9h-.9zM332 222.28h.9v.9h-.9zM332 222.05h.9v.9h-.9zM332 219.79h.9v.9h-.9zM332 223.91h.9v.9h-.9zM332 222.81h.9v.9h-.9z" fill="#3a3a3a"/>
<rect x="194.85" y="140.3" width="157" height="121.1" fill="none" stroke="#CFCFCF" stroke-width="0.8"/>
<line x1="353.4" y1="166.25" x2="510.4" y2="166.25" stroke="#F4F4F4" stroke-width="0.5"/>
<line x1="353.4" y1="194.05" x2="510.4" y2="194.05" stroke="#F4F4F4" stroke-width="0.5"/>
<line x1="353.4" y1="228.8" x2="510.4" y2="228.8" stroke="#F4F4F4" stroke-width="0.5"/>
<line x1="353.4" y1="145.4" x2="510.4" y2="145.4" stroke="#EBEBEB" stroke-width="0.6"/>
<line x1="353.4" y1="187.1" x2="510.4" y2="187.1" stroke="#EBEBEB" stroke-width="0.6"/>
<line x1="353.4" y1="201" x2="510.4" y2="201" stroke="#EBEBEB" stroke-width="0.6"/>
<line x1="353.4" y1="256.6" x2="510.4" y2="256.6" stroke="#EBEBEB" stroke-width="0.6"/>
<line x1="396.21" y1="140.3" x2="396.21" y2="261.4" stroke="#EBEBEB" stroke-width="0.6"/>
<line x1="467.59" y1="140.3" x2="467.59" y2="261.4" stroke="#EBEBEB" stroke-width="0.6"/>
<line x1="353.4" y1="187.1" x2="510.4" y2="187.1" stroke="#D48A8A" stroke-width="0.75" stroke-dasharray="0.9 1.3"/>
<line x1="372.8" y1="173.1" x2="372.8" y2="183.8" stroke="#4a4a4a" stroke-width="0.6"/>
<line x1="372.8" y1="190.6" x2="372.8" y2="200.9" stroke="#4a4a4a" stroke-width="0.6"/>
<rect x="369.75" y="183.8" width="6.1" height="6.8" fill="#8DD3C7" stroke="#777" stroke-width="0.45"/>
<line x1="369.75" y1="187.1" x2="375.85" y2="187.1" stroke="#222" stroke-width="0.9"/>
<line x1="379.49" y1="174.2" x2="379.49" y2="183.8" stroke="#4a4a4a" stroke-width="0.6"/>
<line x1="379.49" y1="190.6" x2="379.49" y2="199.8" stroke="#4a4a4a" stroke-width="0.6"/>
<rect x="376.44" y="183.8" width="6.1" height="6.8" fill="#FB8072" stroke="#777" stroke-width="0.45"/>
<line x1="376.44" y1="187.1" x2="382.54" y2="187.1" stroke="#222" stroke-width="0.9"/>
<line x1="386.18" y1="166.7" x2="386.18" y2="181.7" stroke="#4a4a4a" stroke-width="0.6"/>
<line x1="386.18" y1="193" x2="386.18" y2="206.2" stroke="#4a4a4a" stroke-width="0.6"/>
<rect x="383.13" y="181.7" width="6.1" height="11.3" fill="#FFFFB3" stroke="#777" stroke-width="0.45"/>
<line x1="383.13" y1="187.1" x2="389.23" y2="187.1" stroke="#222" stroke-width="0.9"/>
<line x1="392.87" y1="167.8" x2="392.87" y2="182.3" stroke="#4a4a4a" stroke-width="0.6"/>
<line x1="392.87" y1="192.4" x2="392.87" y2="205.2" stroke="#4a4a4a" stroke-width="0.6"/>
<rect x="389.82" y="182.3" width="6.1" height="10.1" fill="#BEBADA" stroke="#777" stroke-width="0.45"/>
<line x1="389.82" y1="187.1" x2="395.92" y2="187.1" stroke="#222" stroke-width="0.9"/>
<line x1="399.56" y1="167.8" x2="399.56" y2="182.3" stroke="#4a4a4a" stroke-width="0.6"/>
<line x1="399.56" y1="192.4" x2="399.56" y2="205.2" stroke="#4a4a4a" stroke-width="0.6"/>
<rect x="396.51" y="182.3" width="6.1" height="10.1" fill="#80B1D3" stroke="#777" stroke-width="0.45"/>
<line x1="396.51" y1="187.1" x2="402.61" y2="187.1" stroke="#222" stroke-width="0.9"/>
<line x1="406.25" y1="162.4" x2="406.25" y2="180.2" stroke="#4a4a4a" stroke-width="0.6"/>
<line x1="406.25" y1="194.5" x2="406.25" y2="212.6" stroke="#4a4a4a" stroke-width="0.6"/>
<rect x="403.2" y="180.2" width="6.1" height="14.3" fill="#FDB462" stroke="#777" stroke-width="0.45"/>
<line x1="403.2" y1="187.1" x2="409.3" y2="187.1" stroke="#222" stroke-width="0.9"/>
<line x1="412.94" y1="168.8" x2="412.94" y2="183.2" stroke="#4a4a4a" stroke-width="0.6"/>
<line x1="412.94" y1="191.3" x2="412.94" y2="203" stroke="#4a4a4a" stroke-width="0.6"/>
<rect x="409.89" y="183.2" width="6.1" height="8.1" fill="#B3DE69" stroke="#777" stroke-width="0.45"/>
<line x1="409.89" y1="187.1" x2="415.99" y2="187.1" stroke="#222" stroke-width="0.9"/>
<line x1="419.63" y1="168.8" x2="419.63" y2="182.7" stroke="#4a4a4a" stroke-width="0.6"/>
<line x1="419.63" y1="191.3" x2="419.63" y2="203" stroke="#4a4a4a" stroke-width="0.6"/>
<rect x="416.58" y="182.7" width="6.1" height="8.6" fill="#FCCDE5" stroke="#777" stroke-width="0.45"/>
<line x1="416.58" y1="187.1" x2="422.68" y2="187.1" stroke="#222" stroke-width="0.9"/>
<line x1="444.17" y1="174.2" x2="444.17" y2="183.8" stroke="#4a4a4a" stroke-width="0.6"/>
<line x1="444.17" y1="190.6" x2="444.17" y2="199.8" stroke="#4a4a4a" stroke-width="0.6"/>
<rect x="441.12" y="183.8" width="6.1" height="6.8" fill="#8DD3C7" stroke="#777" stroke-width="0.45"/>
<line x1="441.12" y1="187.1" x2="447.22" y2="187.1" stroke="#222" stroke-width="0.9"/>
<line x1="450.86" y1="181.7" x2="450.86" y2="185.5" stroke="#4a4a4a" stroke-width="0.6"/>
<line x1="450.86" y1="188.7" x2="450.86" y2="192.4" stroke="#4a4a4a" stroke-width="0.6"/>
<rect x="447.81" y="185.5" width="6.1" height="3.2" fill="#FB8072" stroke="#777" stroke-width="0.45"/>
<line x1="447.81" y1="187.1" x2="453.91" y2="187.1" stroke="#222" stroke-width="0.9"/>
<line x1="457.55" y1="161.4" x2="457.55" y2="181.7" stroke="#4a4a4a" stroke-width="0.6"/>
<line x1="457.55" y1="193" x2="457.55" y2="208.4" stroke="#4a4a4a" stroke-width="0.6"/>
<rect x="454.5" y="181.7" width="6.1" height="11.3" fill="#FFFFB3" stroke="#777" stroke-width="0.45"/>
<line x1="454.5" y1="187.1" x2="460.6" y2="187.1" stroke="#222" stroke-width="0.9"/>
<line x1="464.24" y1="165.6" x2="464.24" y2="182.7" stroke="#4a4a4a" stroke-width="0.6"/>
<line x1="464.24" y1="192.4" x2="464.24" y2="204.1" stroke="#4a4a4a" stroke-width="0.6"/>
<rect x="461.19" y="182.7" width="6.1" height="9.7" fill="#BEBADA" stroke="#777" stroke-width="0.45"/>
<line x1="461.19" y1="187.1" x2="467.29" y2="187.1" stroke="#222" stroke-width="0.9"/>
<line x1="470.93" y1="164.6" x2="470.93" y2="182.3" stroke="#4a4a4a" stroke-width="0.6"/>
<line x1="470.93" y1="192.4" x2="470.93" y2="204.1" stroke="#4a4a4a" stroke-width="0.6"/>
<rect x="467.88" y="182.3" width="6.1" height="10.1" fill="#80B1D3" stroke="#777" stroke-width="0.45"/>
<line x1="467.88" y1="187.1" x2="473.98" y2="187.1" stroke="#222" stroke-width="0.9"/>
<line x1="477.62" y1="158.2" x2="477.62" y2="180.2" stroke="#4a4a4a" stroke-width="0.6"/>
<line x1="477.62" y1="194.5" x2="477.62" y2="216.9" stroke="#4a4a4a" stroke-width="0.6"/>
<rect x="474.57" y="180.2" width="6.1" height="14.3" fill="#FDB462" stroke="#777" stroke-width="0.45"/>
<line x1="474.57" y1="187.1" x2="480.67" y2="187.1" stroke="#222" stroke-width="0.9"/>
<line x1="484.31" y1="169.9" x2="484.31" y2="182.7" stroke="#4a4a4a" stroke-width="0.6"/>
<line x1="484.31" y1="191.3" x2="484.31" y2="204.1" stroke="#4a4a4a" stroke-width="0.6"/>
<rect x="481.26" y="182.7" width="6.1" height="8.6" fill="#B3DE69" stroke="#777" stroke-width="0.45"/>
<line x1="481.26" y1="187.1" x2="487.36" y2="187.1" stroke="#222" stroke-width="0.9"/>
<line x1="491" y1="169.9" x2="491" y2="182.3" stroke="#4a4a4a" stroke-width="0.6"/>
<line x1="491" y1="191.3" x2="491" y2="204.1" stroke="#4a4a4a" stroke-width="0.6"/>
<rect x="487.95" y="182.3" width="6.1" height="9" fill="#FCCDE5" stroke="#777" stroke-width="0.45"/>
<line x1="487.95" y1="187.1" x2="494.05" y2="187.1" stroke="#222" stroke-width="0.9"/>
<path d="M372.35 168.35h.9v.9h-.9zM372.35 170.93h.9v.9h-.9zM372.35 204.75h.9v.9h-.9zM372.35 201.86h.9v.9h-.9zM379.04 168.35h.9v.9h-.9zM379.04 168.77h.9v.9h-.9zM379.04 169.92h.9v.9h-.9zM379.04 204.05h.9v.9h-.9zM379.04 200.56h.9v.9h-.9zM385.73 160.95h.9v.9h-.9zM385.73 162.92h.9v.9h-.9zM385.73 164.18h.9v.9h-.9zM385.73 211.15h.9v.9h-.9zM385.73 207.82h.9v.9h-.9zM385.73 207.67h.9v.9h-.9zM392.42 161.95h.9v.9h-.9zM392.42 165.91h.9v.9h-.9zM392.42 166.15h.9v.9h-.9zM392.42 208.95h.9v.9h-.9zM392.42 206.34h.9v.9h-.9zM399.11 161.95h.9v.9h-.9zM399.11 165.36h.9v.9h-.9zM399.11 162.24h.9v.9h-.9zM399.11 213.25h.9v.9h-.9zM399.11 206.21h.9v.9h-.9zM399.11 212.84h.9v.9h-.9zM399.11 206.54h.9v.9h-.9zM405.8 158.35h.9v.9h-.9zM405.8 160.29h.9v.9h-.9zM405.8 228.25h.9v.9h-.9zM405.8 224.23h.9v.9h-.9zM405.8 224.24h.9v.9h-.9zM405.8 217.25h.9v.9h-.9zM405.8 213.47h.9v.9h-.9zM405.8 217.85h.9v.9h-.9zM405.8 216.42h.9v.9h-.9zM405.8 226.38h.9v.9h-.9zM412.49 164.15h.9v.9h-.9zM412.49 166.93h.9v.9h-.9zM412.49 207.95h.9v.9h-.9zM412.49 204.58h.9v.9h-.9zM412.49 207.28h.9v.9h-.9zM419.18 164.15h.9v.9h-.9zM419.18 167.14h.9v.9h-.9zM419.18 207.95h.9v.9h-.9zM419.18 204.76h.9v.9h-.9zM419.18 206.76h.9v.9h-.9zM443.72 169.45h.9v.9h-.9zM443.72 170.52h.9v.9h-.9zM443.72 203.65h.9v.9h-.9zM443.72 200.57h.9v.9h-.9zM450.41 179.75h.9v.9h-.9zM450.41 180.05h.9v.9h-.9zM450.41 192.95h.9v.9h-.9zM450.41 193.15h.9v.9h-.9zM457.1 152.75h.9v.9h-.9zM457.1 153.62h.9v.9h-.9zM457.1 158.95h.9v.9h-.9zM457.1 155.36h.9v.9h-.9zM457.1 216.45h.9v.9h-.9zM457.1 215.3h.9v.9h-.9zM457.1 210.44h.9v.9h-.9zM457.1 210.06h.9v.9h-.9zM463.79 212.15h.9v.9h-.9zM463.79 211.66h.9v.9h-.9zM463.79 208.22h.9v.9h-.9zM463.79 205.71h.9v.9h-.9zM470.48 213.25h.9v.9h-.9zM470.48 209.78h.9v.9h-.9zM470.48 206.18h.9v.9h-.9zM470.48 205.92h.9v.9h-.9zM470.48 204.85h.9v.9h-.9zM477.17 145.95h.9v.9h-.9zM477.17 149.78h.9v.9h-.9zM477.17 147.33h.9v.9h-.9zM477.17 151.44h.9v.9h-.9zM477.17 146.9h.9v.9h-.9zM477.17 156.52h.9v.9h-.9zM483.86 163.05h.9v.9h-.9zM483.86 167.74h.9v.9h-.9zM483.86 166.67h.9v.9h-.9zM483.86 216.45h.9v.9h-.9zM483.86 215.66h.9v.9h-.9zM483.86 215.61h.9v.9h-.9zM483.86 207.38h.9v.9h-.9zM483.86 206.12h.9v.9h-.9zM483.86 207.86h.9v.9h-.9zM490.55 163.05h.9v.9h-.9zM490.55 166.57h.9v.9h-.9zM490.55 163.64h.9v.9h-.9zM490.55 216.45h.9v.9h-.9zM490.55 205.62h.9v.9h-.9zM490.55 213.01h.9v.9h-.9zM490.55 211.99h.9v.9h-.9zM490.55 213.34h.9v.9h-.9zM490.55 212.53h.9v.9h-.9z" fill="#3a3a3a"/>
<rect x="353.4" y="140.3" width="157" height="121.1" fill="none" stroke="#CFCFCF" stroke-width="0.8"/>
<line x1="511.95" y1="166.25" x2="668.95" y2="166.25" stroke="#F4F4F4" stroke-width="0.5"/>
<line x1="511.95" y1="194.05" x2="668.95" y2="194.05" stroke="#F4F4F4" stroke-width="0.5"/>
<line x1="511.95" y1="228.8" x2="668.95" y2="228.8" stroke="#F4F4F4" stroke-width="0.5"/>
<line x1="511.95" y1="145.4" x2="668.95" y2="145.4" stroke="#EBEBEB" stroke-width="0.6"/>
<line x1="511.95" y1="187.1" x2="668.95" y2="187.1" stroke="#EBEBEB" stroke-width="0.6"/>
<line x1="511.95" y1="201" x2="668.95" y2="201" stroke="#EBEBEB" stroke-width="0.6"/>
<line x1="511.95" y1="256.6" x2="668.95" y2="256.6" stroke="#EBEBEB" stroke-width="0.6"/>
<line x1="554.76" y1="140.3" x2="554.76" y2="261.4" stroke="#EBEBEB" stroke-width="0.6"/>
<line x1="626.14" y1="140.3" x2="626.14" y2="261.4" stroke="#EBEBEB" stroke-width="0.6"/>
<line x1="511.95" y1="187.1" x2="668.95" y2="187.1" stroke="#D48A8A" stroke-width="0.75" stroke-dasharray="0.9 1.3"/>
<line x1="531.35" y1="177.4" x2="531.35" y2="184.4" stroke="#4a4a4a" stroke-width="0.6"/>
<line x1="531.35" y1="189.6" x2="531.35" y2="196" stroke="#4a4a4a" stroke-width="0.6"/>
<rect x="528.3" y="184.4" width="6.1" height="5.2" fill="#8DD3C7" stroke="#777" stroke-width="0.45"/>
<line x1="528.3" y1="187.1" x2="534.4" y2="187.1" stroke="#222" stroke-width="0.9"/>
<line x1="538.04" y1="176.8" x2="538.04" y2="184.4" stroke="#4a4a4a" stroke-width="0.6"/>
<line x1="538.04" y1="189.6" x2="538.04" y2="196" stroke="#4a4a4a" stroke-width="0.6"/>
<rect x="534.99" y="184.4" width="6.1" height="5.2" fill="#FB8072" stroke="#777" stroke-width="0.45"/>
<line x1="534.99" y1="187.1" x2="541.09" y2="187.1" stroke="#222" stroke-width="0.9"/>
<line x1="544.73" y1="171" x2="544.73" y2="183.4" stroke="#4a4a4a" stroke-width="0.6"/>
<line x1="544.73" y1="191.3" x2="544.73" y2="202" stroke="#4a4a4a" stroke-width="0.6"/>
<rect x="541.68" y="183.4" width="6.1" height="7.9" fill="#FFFFB3" stroke="#777" stroke-width="0.45"/>
<line x1="541.68" y1="187.1" x2="547.78" y2="187.1" stroke="#222" stroke-width="0.9"/>
<line x1="551.42" y1="172" x2="551.42" y2="183.8" stroke="#4a4a4a" stroke-width="0.6"/>
<line x1="551.42" y1="190.4" x2="551.42" y2="199.8" stroke="#4a4a4a" stroke-width="0.6"/>
<rect x="548.37" y="183.8" width="6.1" height="6.6" fill="#BEBADA" stroke="#777" stroke-width="0.45"/>
<line x1="548.37" y1="187.1" x2="554.47" y2="187.1" stroke="#222" stroke-width="0.9"/>
<line x1="558.11" y1="172" x2="558.11" y2="183.8" stroke="#4a4a4a" stroke-width="0.6"/>
<line x1="558.11" y1="190.4" x2="558.11" y2="199.8" stroke="#4a4a4a" stroke-width="0.6"/>
<rect x="555.06" y="183.8" width="6.1" height="6.6" fill="#80B1D3" stroke="#777" stroke-width="0.45"/>
<line x1="555.06" y1="187.1" x2="561.16" y2="187.1" stroke="#222" stroke-width="0.9"/>
<line x1="564.8" y1="165.6" x2="564.8" y2="181.7" stroke="#4a4a4a" stroke-width="0.6"/>
<line x1="564.8" y1="191.9" x2="564.8" y2="206.2" stroke="#4a4a4a" stroke-width="0.6"/>
<rect x="561.75" y="181.7" width="6.1" height="10.2" fill="#FDB462" stroke="#777" stroke-width="0.45"/>
<line x1="561.75" y1="187.1" x2="567.85" y2="187.1" stroke="#222" stroke-width="0.9"/>
<line x1="571.49" y1="172" x2="571.49" y2="183.8" stroke="#4a4a4a" stroke-width="0.6"/>
<line x1="571.49" y1="190.4" x2="571.49" y2="199.8" stroke="#4a4a4a" stroke-width="0.6"/>
<rect x="568.44" y="183.8" width="6.1" height="6.6" fill="#B3DE69" stroke="#777" stroke-width="0.45"/>
<line x1="568.44" y1="187.1" x2="574.54" y2="187.1" stroke="#222" stroke-width="0.9"/>
<line x1="578.18" y1="172" x2="578.18" y2="183.8" stroke="#4a4a4a" stroke-width="0.6"/>
<line x1="578.18" y1="190.4" x2="578.18" y2="199.8" stroke="#4a4a4a" stroke-width="0.6"/>
<rect x="575.13" y="183.8" width="6.1" height="6.6" fill="#FCCDE5" stroke="#777" stroke-width="0.45"/>
<line x1="575.13" y1="187.1" x2="581.23" y2="187.1" stroke="#222" stroke-width="0.9"/>
<line x1="602.72" y1="178.5" x2="602.72" y2="184.9" stroke="#4a4a4a" stroke-width="0.6"/>
<line x1="602.72" y1="189.6" x2="602.72" y2="196.6" stroke="#4a4a4a" stroke-width="0.6"/>
<rect x="599.67" y="184.9" width="6.1" height="4.7" fill="#8DD3C7" stroke="#777" stroke-width="0.45"/>
<line x1="599.67" y1="187.1" x2="605.77" y2="187.1" stroke="#222" stroke-width="0.9"/>
<line x1="609.41" y1="182.7" x2="609.41" y2="186.2" stroke="#4a4a4a" stroke-width="0.6"/>
<line x1="609.41" y1="187.9" x2="609.41" y2="190.2" stroke="#4a4a4a" stroke-width="0.6"/>
<rect x="606.36" y="186.2" width="6.1" height="1.7" fill="#FB8072" stroke="#777" stroke-width="0.45"/>
<line x1="606.36" y1="187.1" x2="612.46" y2="187.1" stroke="#222" stroke-width="0.9"/>
<line x1="616.1" y1="169.9" x2="616.1" y2="183.4" stroke="#4a4a4a" stroke-width="0.6"/>
<line x1="616.1" y1="191.3" x2="616.1" y2="202" stroke="#4a4a4a" stroke-width="0.6"/>
<rect x="613.05" y="183.4" width="6.1" height="7.9" fill="#FFFFB3" stroke="#777" stroke-width="0.45"/>
<line x1="613.05" y1="187.1" x2="619.15" y2="187.1" stroke="#222" stroke-width="0.9"/>
<line x1="622.79" y1="172" x2="622.79" y2="183.8" stroke="#4a4a4a" stroke-width="0.6"/>
<line x1="622.79" y1="190.4" x2="622.79" y2="199.8" stroke="#4a4a4a" stroke-width="0.6"/>
<rect x="619.74" y="183.8" width="6.1" height="6.6" fill="#BEBADA" stroke="#777" stroke-width="0.45"/>
<line x1="619.74" y1="187.1" x2="625.84" y2="187.1" stroke="#222" stroke-width="0.9"/>
<line x1="629.48" y1="171" x2="629.48" y2="183.8" stroke="#4a4a4a" stroke-width="0.6"/>
<line x1="629.48" y1="190.4" x2="629.48" y2="200.9" stroke="#4a4a4a" stroke-width="0.6"/>
<rect x="626.43" y="183.8" width="6.1" height="6.6" fill="#80B1D3" stroke="#777" stroke-width="0.45"/>
<line x1="626.43" y1="187.1" x2="632.53" y2="187.1" stroke="#222" stroke-width="0.9"/>
<line x1="636.17" y1="166.7" x2="636.17" y2="182.3" stroke="#4a4a4a" stroke-width="0.6"/>
<line x1="636.17" y1="192.4" x2="636.17" y2="207.3" stroke="#4a4a4a" stroke-width="0.6"/>
<rect x="633.12" y="182.3" width="6.1" height="10.1" fill="#FDB462" stroke="#777" stroke-width="0.45"/>
<line x1="633.12" y1="187.1" x2="639.22" y2="187.1" stroke="#222" stroke-width="0.9"/>
<line x1="642.86" y1="172.5" x2="642.86" y2="183.8" stroke="#4a4a4a" stroke-width="0.6"/>
<line x1="642.86" y1="190.4" x2="642.86" y2="199.8" stroke="#4a4a4a" stroke-width="0.6"/>
<rect x="639.81" y="183.8" width="6.1" height="6.6" fill="#B3DE69" stroke="#777" stroke-width="0.45"/>
<line x1="639.81" y1="187.1" x2="645.91" y2="187.1" stroke="#222" stroke-width="0.9"/>
<line x1="649.55" y1="171" x2="649.55" y2="183.8" stroke="#4a4a4a" stroke-width="0.6"/>
<line x1="649.55" y1="190.4" x2="649.55" y2="200.9" stroke="#4a4a4a" stroke-width="0.6"/>
<rect x="646.5" y="183.8" width="6.1" height="6.6" fill="#FCCDE5" stroke="#777" stroke-width="0.45"/>
<line x1="646.5" y1="187.1" x2="652.6" y2="187.1" stroke="#222" stroke-width="0.9"/>
<path d="M530.9 196.85h.9v.9h-.9zM530.9 196.8h.9v.9h-.9zM537.59 196.85h.9v.9h-.9zM537.59 196.77h.9v.9h-.9zM544.28 165.65h.9v.9h-.9zM544.28 168.75h.9v.9h-.9zM544.28 203.25h.9v.9h-.9zM544.28 202.85h.9v.9h-.9zM550.97 169.45h.9v.9h-.9zM550.97 169.74h.9v.9h-.9zM550.97 203.65h.9v.9h-.9zM550.97 200.6h.9v.9h-.9zM557.66 169.45h.9v.9h-.9zM557.66 170.28h.9v.9h-.9zM557.66 203.65h.9v.9h-.9zM557.66 202.52h.9v.9h-.9zM564.35 152.35h.9v.9h-.9zM564.35 162.71h.9v.9h-.9zM564.35 163.8h.9v.9h-.9zM564.35 163.9h.9v.9h-.9zM564.35 159.46h.9v.9h-.9zM564.35 162.02h.9v.9h-.9zM564.35 214.35h.9v.9h-.9zM564.35 214.12h.9v.9h-.9zM564.35 213.02h.9v.9h-.9zM564.35 214.21h.9v.9h-.9zM571.04 165.15h.9v.9h-.9zM571.04 169.73h.9v.9h-.9zM571.04 170.25h.9v.9h-.9zM571.04 205.75h.9v.9h-.9zM571.04 200.67h.9v.9h-.9zM571.04 202.26h.9v.9h-.9zM577.73 165.15h.9v.9h-.9zM577.73 167.35h.9v.9h-.9zM577.73 168.92h.9v.9h-.9zM577.73 205.75h.9v.9h-.9zM577.73 201.06h.9v.9h-.9zM577.73 201.83h.9v.9h-.9zM602.27 197.65h.9v.9h-.9zM602.27 197.49h.9v.9h-.9zM608.96 181.25h.9v.9h-.9zM608.96 181.16h.9v.9h-.9zM608.96 191.25h.9v.9h-.9zM608.96 191.14h.9v.9h-.9zM615.65 166.25h.9v.9h-.9zM615.65 166.72h.9v.9h-.9zM615.65 206.85h.9v.9h-.9zM615.65 204.88h.9v.9h-.9zM615.65 202.89h.9v.9h-.9zM622.34 170.55h.9v.9h-.9zM622.34 170.5h.9v.9h-.9zM622.34 200.45h.9v.9h-.9zM622.34 200.54h.9v.9h-.9zM629.03 169.85h.9v.9h-.9zM629.03 169.55h.9v.9h-.9zM629.03 201.95h.9v.9h-.9zM629.03 201.71h.9v.9h-.9zM635.72 160.95h.9v.9h-.9zM635.72 162.53h.9v.9h-.9zM635.72 164.74h.9v.9h-.9zM635.72 220.35h.9v.9h-.9zM635.72 209.37h.9v.9h-.9zM635.72 209.35h.9v.9h-.9zM635.72 208.66h.9v.9h-.9zM635.72 218.15h.9v.9h-.9zM635.72 213.17h.9v.9h-.9zM635.72 210.1h.9v.9h-.9zM649.1 201.55h.9v.9h-.9zM649.1 201.63h.9v.9h-.9z" fill="#3a3a3a"/>
<rect x="511.95" y="140.3" width="157" height="121.1" fill="none" stroke="#CFCFCF" stroke-width="0.8"/>
<rect x="36.3" y="6.5" width="157" height="10.8" fill="#D9D9D9" stroke="#BDBDBD" stroke-width="0.8"/>
<text x="114.8" y="14.9" font-size="9.3" fill="#111" text-anchor="middle" stroke="#111" stroke-width="0.1">SNPs=25</text>
<rect x="194.85" y="6.5" width="157" height="10.8" fill="#D9D9D9" stroke="#BDBDBD" stroke-width="0.8"/>
<text x="273.35" y="14.9" font-size="9.3" fill="#111" text-anchor="middle" stroke="#111" stroke-width="0.1">SNPs=50</text>
<rect x="353.4" y="6.5" width="157" height="10.8" fill="#D9D9D9" stroke="#BDBDBD" stroke-width="0.8"/>
<text x="431.9" y="14.9" font-size="9.3" fill="#111" text-anchor="middle" stroke="#111" stroke-width="0.1">SNPs=100</text>
<rect x="511.95" y="6.5" width="157" height="10.8" fill="#D9D9D9" stroke="#BDBDBD" stroke-width="0.8"/>
<text x="590.45" y="14.9" font-size="9.3" fill="#111" text-anchor="middle" stroke="#111" stroke-width="0.1">SNPs=200</text>
<rect x="669.1" y="17.6" width="10.2" height="121" fill="#D9D9D9" stroke="#BDBDBD" stroke-width="0.8"/>
<text x="0" y="0" font-size="8.6" fill="#1A1A1A" text-anchor="middle" stroke="#1A1A1A" stroke-width="0.1" transform="translate(671.6 78.1) rotate(90)">causal effect (target)=0</text>
<rect x="669.1" y="140.3" width="10.2" height="121.1" fill="#D9D9D9" stroke="#BDBDBD" stroke-width="0.8"/>
<text x="0" y="0" font-size="8.6" fill="#1A1A1A" text-anchor="middle" stroke="#1A1A1A" stroke-width="0.1" transform="translate(671.6 200.85) rotate(90)">causal effect (target)=0.05</text>
<line x1="34.8" y1="22.4" x2="36.3" y2="22.4" stroke="#555" stroke-width="0.5"/>
<text x="34.9" y="25.05" font-size="6.7" fill="#4D4D4D" text-anchor="end">0.20</text>
<line x1="34.8" y1="64.1" x2="36.3" y2="64.1" stroke="#555" stroke-width="0.5"/>
<text x="34.9" y="66.75" font-size="6.7" fill="#4D4D4D" text-anchor="end">0.05</text>
<line x1="34.8" y1="78" x2="36.3" y2="78" stroke="#555" stroke-width="0.5"/>
<text x="34.9" y="80.65" font-size="6.7" fill="#4D4D4D" text-anchor="end">0.00</text>
<line x1="34.8" y1="133.6" x2="36.3" y2="133.6" stroke="#555" stroke-width="0.5"/>
<text x="34.9" y="136.25" font-size="6.7" fill="#4D4D4D" text-anchor="end">−0.20</text>
<line x1="34.8" y1="145.4" x2="36.3" y2="145.4" stroke="#555" stroke-width="0.5"/>
<text x="34.9" y="148.05" font-size="6.7" fill="#4D4D4D" text-anchor="end">0.20</text>
<line x1="34.8" y1="187.1" x2="36.3" y2="187.1" stroke="#555" stroke-width="0.5"/>
<text x="34.9" y="189.75" font-size="6.7" fill="#4D4D4D" text-anchor="end">0.05</text>
<line x1="34.8" y1="201" x2="36.3" y2="201" stroke="#555" stroke-width="0.5"/>
<text x="34.9" y="203.65" font-size="6.7" fill="#4D4D4D" text-anchor="end">0.00</text>
<line x1="34.8" y1="256.6" x2="36.3" y2="256.6" stroke="#555" stroke-width="0.5"/>
<text x="34.9" y="259.25" font-size="6.7" fill="#4D4D4D" text-anchor="end">−0.20</text>
<line x1="79.11" y1="261.4" x2="79.11" y2="263.3" stroke="#555" stroke-width="0.5"/>
<text x="79.11" y="268.6" font-size="6.6" fill="#4D4D4D" text-anchor="middle">0.1</text>
<line x1="150.49" y1="261.4" x2="150.49" y2="263.3" stroke="#555" stroke-width="0.5"/>
<text x="150.49" y="268.6" font-size="6.6" fill="#4D4D4D" text-anchor="middle">0.9</text>
<line x1="237.66" y1="261.4" x2="237.66" y2="263.3" stroke="#555" stroke-width="0.5"/>
<text x="237.66" y="268.6" font-size="6.6" fill="#4D4D4D" text-anchor="middle">0.1</text>
<line x1="309.04" y1="261.4" x2="309.04" y2="263.3" stroke="#555" stroke-width="0.5"/>
<text x="309.04" y="268.6" font-size="6.6" fill="#4D4D4D" text-anchor="middle">0.9</text>
<line x1="396.21" y1="261.4" x2="396.21" y2="263.3" stroke="#555" stroke-width="0.5"/>
<text x="396.21" y="268.6" font-size="6.6" fill="#4D4D4D" text-anchor="middle">0.1</text>
<line x1="467.59" y1="261.4" x2="467.59" y2="263.3" stroke="#555" stroke-width="0.5"/>
<text x="467.59" y="268.6" font-size="6.6" fill="#4D4D4D" text-anchor="middle">0.9</text>
<line x1="554.76" y1="261.4" x2="554.76" y2="263.3" stroke="#555" stroke-width="0.5"/>
<text x="554.76" y="268.6" font-size="6.6" fill="#4D4D4D" text-anchor="middle">0.1</text>
<line x1="626.14" y1="261.4" x2="626.14" y2="263.3" stroke="#555" stroke-width="0.5"/>
<text x="626.14" y="268.6" font-size="6.6" fill="#4D4D4D" text-anchor="middle">0.9</text>
<text x="352.6" y="275.4" font-size="7.9" fill="#000" text-anchor="middle" stroke="#000" stroke-width="0.15">trans−ethnic genetic correlation</text>
<text x="0" y="0" font-size="8.0" fill="#000" stroke="#000" stroke-width="0.15" text-anchor="middle" transform="translate(15.5 139.4) rotate(-90)">Estimation</text>
<text x="683.5" y="95.8" font-size="6.4" fill="#000" text-anchor="start">Method</text>
<line x1="689.2" y1="99.1" x2="689.2" y2="108.5" stroke="#666" stroke-width="0.5"/>
<rect x="684.6" y="100.7" width="9.2" height="6.2" fill="#8DD3C7" stroke="#777" stroke-width="0.45"/>
<line x1="684.6" y1="103.8" x2="693.8" y2="103.8" stroke="#333" stroke-width="0.6"/>
<text x="696.5" y="106" font-size="6.4" fill="#1A1A1A" text-anchor="start">IVW</text>
<line x1="689.2" y1="110.45" x2="689.2" y2="119.85" stroke="#666" stroke-width="0.5"/>
<rect x="684.6" y="112.05" width="9.2" height="6.2" fill="#FB8072" stroke="#777" stroke-width="0.45"/>
<line x1="684.6" y1="115.15" x2="693.8" y2="115.15" stroke="#333" stroke-width="0.6"/>
<text x="696.5" y="117.35" font-size="6.4" fill="#1A1A1A" text-anchor="start">TEMR</text>
<line x1="689.2" y1="121.8" x2="689.2" y2="131.2" stroke="#666" stroke-width="0.5"/>
<rect x="684.6" y="123.4" width="9.2" height="6.2" fill="#FFFFB3" stroke="#777" stroke-width="0.45"/>
<line x1="684.6" y1="126.5" x2="693.8" y2="126.5" stroke="#333" stroke-width="0.6"/>
<text x="696.5" y="128.7" font-size="6.4" fill="#1A1A1A" text-anchor="start">Simple median</text>
<line x1="689.2" y1="133.15" x2="689.2" y2="142.55" stroke="#666" stroke-width="0.5"/>
<rect x="684.6" y="134.75" width="9.2" height="6.2" fill="#BEBADA" stroke="#777" stroke-width="0.45"/>
<line x1="684.6" y1="137.85" x2="693.8" y2="137.85" stroke="#333" stroke-width="0.6"/>
<text x="696.5" y="140.05" font-size="6.4" fill="#1A1A1A" text-anchor="start">Weighted median</text>
<line x1="689.2" y1="144.5" x2="689.2" y2="153.9" stroke="#666" stroke-width="0.5"/>
<rect x="684.6" y="146.1" width="9.2" height="6.2" fill="#80B1D3" stroke="#777" stroke-width="0.45"/>
<line x1="684.6" y1="149.2" x2="693.8" y2="149.2" stroke="#333" stroke-width="0.6"/>
<text x="696.5" y="151.4" font-size="6.4" fill="#1A1A1A" text-anchor="start">Penalised median</text>
<line x1="689.2" y1="155.85" x2="689.2" y2="165.25" stroke="#666" stroke-width="0.5"/>
<rect x="684.6" y="157.45" width="9.2" height="6.2" fill="#FDB462" stroke="#777" stroke-width="0.45"/>
<line x1="684.6" y1="160.55" x2="693.8" y2="160.55" stroke="#333" stroke-width="0.6"/>
<text x="696.5" y="162.75" font-size="6.4" fill="#1A1A1A" text-anchor="start">Simple mode</text>
<line x1="689.2" y1="167.2" x2="689.2" y2="176.6" stroke="#666" stroke-width="0.5"/>
<rect x="684.6" y="168.8" width="9.2" height="6.2" fill="#B3DE69" stroke="#777" stroke-width="0.45"/>
<line x1="684.6" y1="171.9" x2="693.8" y2="171.9" stroke="#333" stroke-width="0.6"/>
<text x="696.5" y="174.1" font-size="6.4" fill="#1A1A1A" text-anchor="start">Weighted mode</text>
<line x1="689.2" y1="178.55" x2="689.2" y2="187.95" stroke="#666" stroke-width="0.5"/>
<rect x="684.6" y="180.15" width="9.2" height="6.2" fill="#FCCDE5" stroke="#777" stroke-width="0.45"/>
<line x1="684.6" y1="183.25" x2="693.8" y2="183.25" stroke="#333" stroke-width="0.6"/>
<text x="696.5" y="185.45" font-size="6.4" fill="#1A1A1A" text-anchor="start">Penalised mode</text>
<text x="0" y="0" font-size="14.8" font-weight="bold" fill="#000" transform="translate(1.0 11.0) scale(0.92 1)">A</text>
<text x="0" y="0" font-size="14.8" font-weight="bold" fill="#000" transform="translate(0.4 298.2) scale(0.92 1)">B</text>
<text x="125.4" y="308" font-size="11.3" fill="#000" text-anchor="start">Causal effect (target) = Causal effect (auxiliary) = 0.05, trans−ethnic genetic correlation = 0.1</text>
<line x1="25.4" y1="401.24" x2="178.8" y2="401.24" stroke="#F4F4F4" stroke-width="0.4"/>
<line x1="25.4" y1="385.32" x2="178.8" y2="385.32" stroke="#F4F4F4" stroke-width="0.4"/>
<line x1="25.4" y1="369.4" x2="178.8" y2="369.4" stroke="#F4F4F4" stroke-width="0.4"/>
<line x1="25.4" y1="353.48" x2="178.8" y2="353.48" stroke="#F4F4F4" stroke-width="0.4"/>
<line x1="25.4" y1="337.56" x2="178.8" y2="337.56" stroke="#F4F4F4" stroke-width="0.4"/>
<line x1="25.4" y1="409.2" x2="178.8" y2="409.2" stroke="#EBEBEB" stroke-width="0.5"/>
<line x1="25.4" y1="393.28" x2="178.8" y2="393.28" stroke="#EBEBEB" stroke-width="0.5"/>
<line x1="25.4" y1="377.36" x2="178.8" y2="377.36" stroke="#EBEBEB" stroke-width="0.5"/>
<line x1="25.4" y1="361.44" x2="178.8" y2="361.44" stroke="#EBEBEB" stroke-width="0.5"/>
<line x1="25.4" y1="345.52" x2="178.8" y2="345.52" stroke="#EBEBEB" stroke-width="0.5"/>
<line x1="25.4" y1="329.6" x2="178.8" y2="329.6" stroke="#EBEBEB" stroke-width="0.5"/>
<line x1="36.62" y1="325.62" x2="36.62" y2="413.18" stroke="#EBEBEB" stroke-width="0.5"/>
<line x1="55.33" y1="325.62" x2="55.33" y2="413.18" stroke="#EBEBEB" stroke-width="0.5"/>
<line x1="74.04" y1="325.62" x2="74.04" y2="413.18" stroke="#EBEBEB" stroke-width="0.5"/>
<line x1="92.75" y1="325.62" x2="92.75" y2="413.18" stroke="#EBEBEB" stroke-width="0.5"/>
<line x1="111.45" y1="325.62" x2="111.45" y2="413.18" stroke="#EBEBEB" stroke-width="0.5"/>
<line x1="130.16" y1="325.62" x2="130.16" y2="413.18" stroke="#EBEBEB" stroke-width="0.5"/>
<line x1="148.87" y1="325.62" x2="148.87" y2="413.18" stroke="#EBEBEB" stroke-width="0.5"/>
<line x1="167.58" y1="325.62" x2="167.58" y2="413.18" stroke="#EBEBEB" stroke-width="0.5"/>
<rect x="31.95" y="387.71" width="9.35" height="21.49" fill="#8DD3C7"/>
<text x="36.62" y="388.71" font-size="3" fill="#111" text-anchor="middle" stroke="#111" stroke-width="0.12">0.27</text>
<line x1="36.62" y1="413.18" x2="36.62" y2="414.38" stroke="#666" stroke-width="0.4"/>
<rect x="50.65" y="386.12" width="9.35" height="23.08" fill="#FB8072"/>
<text x="55.33" y="387.12" font-size="3" fill="#111" text-anchor="middle" stroke="#111" stroke-width="0.12">0.29</text>
<line x1="55.33" y1="413.18" x2="55.33" y2="414.38" stroke="#666" stroke-width="0.4"/>
<rect x="69.36" y="402.83" width="9.35" height="6.37" fill="#FFFFB3"/>
<text x="74.04" y="403.83" font-size="3" fill="#111" text-anchor="middle" stroke="#111" stroke-width="0.12">0.08</text>
<line x1="74.04" y1="413.18" x2="74.04" y2="414.38" stroke="#666" stroke-width="0.4"/>
<rect x="88.07" y="394.87" width="9.35" height="14.33" fill="#BEBADA"/>
<text x="92.75" y="395.87" font-size="3" fill="#111" text-anchor="middle" stroke="#111" stroke-width="0.12">0.18</text>
<line x1="92.75" y1="413.18" x2="92.75" y2="414.38" stroke="#666" stroke-width="0.4"/>
<rect x="106.78" y="394.08" width="9.35" height="15.12" fill="#80B1D3"/>
<text x="111.45" y="395.08" font-size="3" fill="#111" text-anchor="middle" stroke="#111" stroke-width="0.12">0.19</text>
<line x1="111.45" y1="413.18" x2="111.45" y2="414.38" stroke="#666" stroke-width="0.4"/>
<rect x="125.48" y="406.02" width="9.35" height="3.18" fill="#FDB462"/>
<text x="130.16" y="407.02" font-size="3" fill="#111" text-anchor="middle" stroke="#111" stroke-width="0.12">0.04</text>
<line x1="130.16" y1="413.18" x2="130.16" y2="414.38" stroke="#666" stroke-width="0.4"/>
<rect x="144.19" y="394.08" width="9.35" height="15.12" fill="#B3DE69"/>
<text x="148.87" y="395.08" font-size="3" fill="#111" text-anchor="middle" stroke="#111" stroke-width="0.12">0.19</text>
<line x1="148.87" y1="413.18" x2="148.87" y2="414.38" stroke="#666" stroke-width="0.4"/>
<rect x="162.9" y="397.26" width="9.35" height="11.94" fill="#FCCDE5"/>
<text x="167.58" y="398.26" font-size="3" fill="#111" text-anchor="middle" stroke="#111" stroke-width="0.12">0.15</text>
<line x1="167.58" y1="413.18" x2="167.58" y2="414.38" stroke="#666" stroke-width="0.4"/>
<rect x="25.4" y="325.62" width="153.4" height="87.56" fill="none" stroke="#CFCFCF" stroke-width="0.6"/>
<line x1="24.1" y1="409.2" x2="25.4" y2="409.2" stroke="#777" stroke-width="0.4"/>
<text x="24" y="410.85" font-size="4.6" fill="#4a4a4a" text-anchor="end" stroke="#4a4a4a" stroke-width="0.1">0.0</text>
<line x1="24.1" y1="393.28" x2="25.4" y2="393.28" stroke="#777" stroke-width="0.4"/>
<text x="24" y="394.93" font-size="4.6" fill="#4a4a4a" text-anchor="end" stroke="#4a4a4a" stroke-width="0.1">0.2</text>
<line x1="24.1" y1="377.36" x2="25.4" y2="377.36" stroke="#777" stroke-width="0.4"/>
<text x="24" y="379.01" font-size="4.6" fill="#4a4a4a" text-anchor="end" stroke="#4a4a4a" stroke-width="0.1">0.4</text>
<line x1="24.1" y1="361.44" x2="25.4" y2="361.44" stroke="#777" stroke-width="0.4"/>
<text x="24" y="363.09" font-size="4.6" fill="#4a4a4a" text-anchor="end" stroke="#4a4a4a" stroke-width="0.1">0.6</text>
<line x1="24.1" y1="345.52" x2="25.4" y2="345.52" stroke="#777" stroke-width="0.4"/>
<text x="24" y="347.17" font-size="4.6" fill="#4a4a4a" text-anchor="end" stroke="#4a4a4a" stroke-width="0.1">0.8</text>
<line x1="24.1" y1="329.6" x2="25.4" y2="329.6" stroke="#777" stroke-width="0.4"/>
<text x="24" y="331.25" font-size="4.6" fill="#4a4a4a" text-anchor="end" stroke="#4a4a4a" stroke-width="0.1">1.0</text>
<text x="25.7" y="322.82" font-size="6.5" fill="#000" text-anchor="start" stroke="#000" stroke-width="0.1">SNPs=25</text>
<text x="102.1" y="418.68" font-size="5.15" fill="#000" text-anchor="middle" stroke="#000" stroke-width="0.08">Method</text>
<text x="0" y="0" font-size="5.5" fill="#000" text-anchor="middle" transform="translate(16.4 369.4) rotate(-90)">Power</text>
<line x1="195.2" y1="401.24" x2="348.6" y2="401.24" stroke="#F4F4F4" stroke-width="0.4"/>
<line x1="195.2" y1="385.32" x2="348.6" y2="385.32" stroke="#F4F4F4" stroke-width="0.4"/>
<line x1="195.2" y1="369.4" x2="348.6" y2="369.4" stroke="#F4F4F4" stroke-width="0.4"/>
<line x1="195.2" y1="353.48" x2="348.6" y2="353.48" stroke="#F4F4F4" stroke-width="0.4"/>
<line x1="195.2" y1="337.56" x2="348.6" y2="337.56" stroke="#F4F4F4" stroke-width="0.4"/>
<line x1="195.2" y1="409.2" x2="348.6" y2="409.2" stroke="#EBEBEB" stroke-width="0.5"/>
<line x1="195.2" y1="393.28" x2="348.6" y2="393.28" stroke="#EBEBEB" stroke-width="0.5"/>
<line x1="195.2" y1="377.36" x2="348.6" y2="377.36" stroke="#EBEBEB" stroke-width="0.5"/>
<line x1="195.2" y1="361.44" x2="348.6" y2="361.44" stroke="#EBEBEB" stroke-width="0.5"/>
<line x1="195.2" y1="345.52" x2="348.6" y2="345.52" stroke="#EBEBEB" stroke-width="0.5"/>
<line x1="195.2" y1="329.6" x2="348.6" y2="329.6" stroke="#EBEBEB" stroke-width="0.5"/>
<line x1="206.42" y1="325.62" x2="206.42" y2="413.18" stroke="#EBEBEB" stroke-width="0.5"/>
<line x1="225.13" y1="325.62" x2="225.13" y2="413.18" stroke="#EBEBEB" stroke-width="0.5"/>
<line x1="243.84" y1="325.62" x2="243.84" y2="413.18" stroke="#EBEBEB" stroke-width="0.5"/>
<line x1="262.55" y1="325.62" x2="262.55" y2="413.18" stroke="#EBEBEB" stroke-width="0.5"/>
<line x1="281.25" y1="325.62" x2="281.25" y2="413.18" stroke="#EBEBEB" stroke-width="0.5"/>
<line x1="299.96" y1="325.62" x2="299.96" y2="413.18" stroke="#EBEBEB" stroke-width="0.5"/>
<line x1="318.67" y1="325.62" x2="318.67" y2="413.18" stroke="#EBEBEB" stroke-width="0.5"/>
<line x1="337.38" y1="325.62" x2="337.38" y2="413.18" stroke="#EBEBEB" stroke-width="0.5"/>
<rect x="201.75" y="370.99" width="9.35" height="38.21" fill="#8DD3C7"/>
<text x="206.42" y="371.99" font-size="3" fill="#111" text-anchor="middle" stroke="#111" stroke-width="0.12">0.48</text>
<line x1="206.42" y1="413.18" x2="206.42" y2="414.38" stroke="#666" stroke-width="0.4"/>
<rect x="220.45" y="367.81" width="9.35" height="41.39" fill="#FB8072"/>
<text x="225.13" y="368.81" font-size="3" fill="#111" text-anchor="middle" stroke="#111" stroke-width="0.12">0.52</text>
<line x1="225.13" y1="413.18" x2="225.13" y2="414.38" stroke="#666" stroke-width="0.4"/>
<rect x="239.16" y="398.85" width="9.35" height="10.35" fill="#FFFFB3"/>
<text x="243.84" y="399.85" font-size="3" fill="#111" text-anchor="middle" stroke="#111" stroke-width="0.12">0.13</text>
<line x1="243.84" y1="413.18" x2="243.84" y2="414.38" stroke="#666" stroke-width="0.4"/>
<rect x="257.87" y="389.3" width="9.35" height="19.9" fill="#BEBADA"/>
<text x="262.55" y="390.3" font-size="3" fill="#111" text-anchor="middle" stroke="#111" stroke-width="0.12">0.25</text>
<line x1="262.55" y1="413.18" x2="262.55" y2="414.38" stroke="#666" stroke-width="0.4"/>
<rect x="276.58" y="389.3" width="9.35" height="19.9" fill="#80B1D3"/>
<text x="281.25" y="390.3" font-size="3" fill="#111" text-anchor="middle" stroke="#111" stroke-width="0.12">0.25</text>
<line x1="281.25" y1="413.18" x2="281.25" y2="414.38" stroke="#666" stroke-width="0.4"/>
<rect x="295.28" y="404.42" width="9.35" height="4.78" fill="#FDB462"/>
<text x="299.96" y="405.42" font-size="3" fill="#111" text-anchor="middle" stroke="#111" stroke-width="0.12">0.06</text>
<line x1="299.96" y1="413.18" x2="299.96" y2="414.38" stroke="#666" stroke-width="0.4"/>
<rect x="313.99" y="385.32" width="9.35" height="23.88" fill="#B3DE69"/>
<text x="318.67" y="386.32" font-size="3" fill="#111" text-anchor="middle" stroke="#111" stroke-width="0.12">0.3</text>
<line x1="318.67" y1="413.18" x2="318.67" y2="414.38" stroke="#666" stroke-width="0.4"/>
<rect x="332.7" y="391.69" width="9.35" height="17.51" fill="#FCCDE5"/>
<text x="337.38" y="392.69" font-size="3" fill="#111" text-anchor="middle" stroke="#111" stroke-width="0.12">0.22</text>
<line x1="337.38" y1="413.18" x2="337.38" y2="414.38" stroke="#666" stroke-width="0.4"/>
<rect x="195.2" y="325.62" width="153.4" height="87.56" fill="none" stroke="#CFCFCF" stroke-width="0.6"/>
<line x1="193.9" y1="409.2" x2="195.2" y2="409.2" stroke="#777" stroke-width="0.4"/>
<text x="193.8" y="410.85" font-size="4.6" fill="#4a4a4a" text-anchor="end" stroke="#4a4a4a" stroke-width="0.1">0.0</text>
<line x1="193.9" y1="393.28" x2="195.2" y2="393.28" stroke="#777" stroke-width="0.4"/>
<text x="193.8" y="394.93" font-size="4.6" fill="#4a4a4a" text-anchor="end" stroke="#4a4a4a" stroke-width="0.1">0.2</text>
<line x1="193.9" y1="377.36" x2="195.2" y2="377.36" stroke="#777" stroke-width="0.4"/>
<text x="193.8" y="379.01" font-size="4.6" fill="#4a4a4a" text-anchor="end" stroke="#4a4a4a" stroke-width="0.1">0.4</text>
<line x1="193.9" y1="361.44" x2="195.2" y2="361.44" stroke="#777" stroke-width="0.4"/>
<text x="193.8" y="363.09" font-size="4.6" fill="#4a4a4a" text-anchor="end" stroke="#4a4a4a" stroke-width="0.1">0.6</text>
<line x1="193.9" y1="345.52" x2="195.2" y2="345.52" stroke="#777" stroke-width="0.4"/>
<text x="193.8" y="347.17" font-size="4.6" fill="#4a4a4a" text-anchor="end" stroke="#4a4a4a" stroke-width="0.1">0.8</text>
<line x1="193.9" y1="329.6" x2="195.2" y2="329.6" stroke="#777" stroke-width="0.4"/>
<text x="193.8" y="331.25" font-size="4.6" fill="#4a4a4a" text-anchor="end" stroke="#4a4a4a" stroke-width="0.1">1.0</text>
<text x="195.5" y="322.82" font-size="6.5" fill="#000" text-anchor="start" stroke="#000" stroke-width="0.1">SNPs=50</text>
<text x="271.9" y="418.68" font-size="5.15" fill="#000" text-anchor="middle" stroke="#000" stroke-width="0.08">Method</text>
<text x="0" y="0" font-size="5.5" fill="#000" text-anchor="middle" transform="translate(186.2 369.4) rotate(-90)">Power</text>
<line x1="365" y1="401.24" x2="518.4" y2="401.24" stroke="#F4F4F4" stroke-width="0.4"/>
<line x1="365" y1="385.32" x2="518.4" y2="385.32" stroke="#F4F4F4" stroke-width="0.4"/>
<line x1="365" y1="369.4" x2="518.4" y2="369.4" stroke="#F4F4F4" stroke-width="0.4"/>
<line x1="365" y1="353.48" x2="518.4" y2="353.48" stroke="#F4F4F4" stroke-width="0.4"/>
<line x1="365" y1="337.56" x2="518.4" y2="337.56" stroke="#F4F4F4" stroke-width="0.4"/>
<line x1="365" y1="409.2" x2="518.4" y2="409.2" stroke="#EBEBEB" stroke-width="0.5"/>
<line x1="365" y1="393.28" x2="518.4" y2="393.28" stroke="#EBEBEB" stroke-width="0.5"/>
<line x1="365" y1="377.36" x2="518.4" y2="377.36" stroke="#EBEBEB" stroke-width="0.5"/>
<line x1="365" y1="361.44" x2="518.4" y2="361.44" stroke="#EBEBEB" stroke-width="0.5"/>
<line x1="365" y1="345.52" x2="518.4" y2="345.52" stroke="#EBEBEB" stroke-width="0.5"/>
<line x1="365" y1="329.6" x2="518.4" y2="329.6" stroke="#EBEBEB" stroke-width="0.5"/>
<line x1="376.22" y1="325.62" x2="376.22" y2="413.18" stroke="#EBEBEB" stroke-width="0.5"/>
<line x1="394.93" y1="325.62" x2="394.93" y2="413.18" stroke="#EBEBEB" stroke-width="0.5"/>
<line x1="413.64" y1="325.62" x2="413.64" y2="413.18" stroke="#EBEBEB" stroke-width="0.5"/>
<line x1="432.35" y1="325.62" x2="432.35" y2="413.18" stroke="#EBEBEB" stroke-width="0.5"/>
<line x1="451.05" y1="325.62" x2="451.05" y2="413.18" stroke="#EBEBEB" stroke-width="0.5"/>
<line x1="469.76" y1="325.62" x2="469.76" y2="413.18" stroke="#EBEBEB" stroke-width="0.5"/>
<line x1="488.47" y1="325.62" x2="488.47" y2="413.18" stroke="#EBEBEB" stroke-width="0.5"/>
<line x1="507.18" y1="325.62" x2="507.18" y2="413.18" stroke="#EBEBEB" stroke-width="0.5"/>
<rect x="371.55" y="347.91" width="9.35" height="61.29" fill="#8DD3C7"/>
<text x="376.22" y="348.91" font-size="3" fill="#111" text-anchor="middle" stroke="#111" stroke-width="0.12">0.77</text>
<line x1="376.22" y1="413.18" x2="376.22" y2="414.38" stroke="#666" stroke-width="0.4"/>
<rect x="390.25" y="346.32" width="9.35" height="62.88" fill="#FB8072"/>
<text x="394.93" y="347.32" font-size="3" fill="#111" text-anchor="middle" stroke="#111" stroke-width="0.12">0.79</text>
<line x1="394.93" y1="413.18" x2="394.93" y2="414.38" stroke="#666" stroke-width="0.4"/>
<rect x="408.96" y="387.71" width="9.35" height="21.49" fill="#FFFFB3"/>
<text x="413.64" y="388.71" font-size="3" fill="#111" text-anchor="middle" stroke="#111" stroke-width="0.12">0.27</text>
<line x1="413.64" y1="413.18" x2="413.64" y2="414.38" stroke="#666" stroke-width="0.4"/>
<rect x="427.67" y="374.18" width="9.35" height="35.02" fill="#BEBADA"/>
<text x="432.35" y="375.18" font-size="3" fill="#111" text-anchor="middle" stroke="#111" stroke-width="0.12">0.44</text>
<line x1="432.35" y1="413.18" x2="432.35" y2="414.38" stroke="#666" stroke-width="0.4"/>
<rect x="446.38" y="374.18" width="9.35" height="35.02" fill="#80B1D3"/>
<text x="451.05" y="375.18" font-size="3" fill="#111" text-anchor="middle" stroke="#111" stroke-width="0.12">0.44</text>
<line x1="451.05" y1="413.18" x2="451.05" y2="414.38" stroke="#666" stroke-width="0.4"/>
<rect x="465.08" y="400.44" width="9.35" height="8.76" fill="#FDB462"/>
<text x="469.76" y="401.44" font-size="3" fill="#111" text-anchor="middle" stroke="#111" stroke-width="0.12">0.11</text>
<line x1="469.76" y1="413.18" x2="469.76" y2="414.38" stroke="#666" stroke-width="0.4"/>
<rect x="483.79" y="367.01" width="9.35" height="42.19" fill="#B3DE69"/>
<text x="488.47" y="368.01" font-size="3" fill="#111" text-anchor="middle" stroke="#111" stroke-width="0.12">0.53</text>
<line x1="488.47" y1="413.18" x2="488.47" y2="414.38" stroke="#666" stroke-width="0.4"/>
<rect x="502.5" y="376.56" width="9.35" height="32.64" fill="#FCCDE5"/>
<text x="507.18" y="377.56" font-size="3" fill="#111" text-anchor="middle" stroke="#111" stroke-width="0.12">0.41</text>
<line x1="507.18" y1="413.18" x2="507.18" y2="414.38" stroke="#666" stroke-width="0.4"/>
<rect x="365" y="325.62" width="153.4" height="87.56" fill="none" stroke="#CFCFCF" stroke-width="0.6"/>
<line x1="363.7" y1="409.2" x2="365" y2="409.2" stroke="#777" stroke-width="0.4"/>
<text x="363.6" y="410.85" font-size="4.6" fill="#4a4a4a" text-anchor="end" stroke="#4a4a4a" stroke-width="0.1">0.0</text>
<line x1="363.7" y1="393.28" x2="365" y2="393.28" stroke="#777" stroke-width="0.4"/>
<text x="363.6" y="394.93" font-size="4.6" fill="#4a4a4a" text-anchor="end" stroke="#4a4a4a" stroke-width="0.1">0.2</text>
<line x1="363.7" y1="377.36" x2="365" y2="377.36" stroke="#777" stroke-width="0.4"/>
<text x="363.6" y="379.01" font-size="4.6" fill="#4a4a4a" text-anchor="end" stroke="#4a4a4a" stroke-width="0.1">0.4</text>
<line x1="363.7" y1="361.44" x2="365" y2="361.44" stroke="#777" stroke-width="0.4"/>
<text x="363.6" y="363.09" font-size="4.6" fill="#4a4a4a" text-anchor="end" stroke="#4a4a4a" stroke-width="0.1">0.6</text>
<line x1="363.7" y1="345.52" x2="365" y2="345.52" stroke="#777" stroke-width="0.4"/>
<text x="363.6" y="347.17" font-size="4.6" fill="#4a4a4a" text-anchor="end" stroke="#4a4a4a" stroke-width="0.1">0.8</text>
<line x1="363.7" y1="329.6" x2="365" y2="329.6" stroke="#777" stroke-width="0.4"/>
<text x="363.6" y="331.25" font-size="4.6" fill="#4a4a4a" text-anchor="end" stroke="#4a4a4a" stroke-width="0.1">1.0</text>
<text x="365.3" y="322.82" font-size="6.5" fill="#000" text-anchor="start" stroke="#000" stroke-width="0.1">SNPs=100</text>
<text x="441.7" y="418.68" font-size="5.15" fill="#000" text-anchor="middle" stroke="#000" stroke-width="0.08">Method</text>
<text x="0" y="0" font-size="5.5" fill="#000" text-anchor="middle" transform="translate(356 369.4) rotate(-90)">Power</text>
<line x1="534.8" y1="401.24" x2="688.2" y2="401.24" stroke="#F4F4F4" stroke-width="0.4"/>
<line x1="534.8" y1="385.32" x2="688.2" y2="385.32" stroke="#F4F4F4" stroke-width="0.4"/>
<line x1="534.8" y1="369.4" x2="688.2" y2="369.4" stroke="#F4F4F4" stroke-width="0.4"/>
<line x1="534.8" y1="353.48" x2="688.2" y2="353.48" stroke="#F4F4F4" stroke-width="0.4"/>
<line x1="534.8" y1="337.56" x2="688.2" y2="337.56" stroke="#F4F4F4" stroke-width="0.4"/>
<line x1="534.8" y1="409.2" x2="688.2" y2="409.2" stroke="#EBEBEB" stroke-width="0.5"/>
<line x1="534.8" y1="393.28" x2="688.2" y2="393.28" stroke="#EBEBEB" stroke-width="0.5"/>
<line x1="534.8" y1="377.36" x2="688.2" y2="377.36" stroke="#EBEBEB" stroke-width="0.5"/>
<line x1="534.8" y1="361.44" x2="688.2" y2="361.44" stroke="#EBEBEB" stroke-width="0.5"/>
<line x1="534.8" y1="345.52" x2="688.2" y2="345.52" stroke="#EBEBEB" stroke-width="0.5"/>
<line x1="534.8" y1="329.6" x2="688.2" y2="329.6" stroke="#EBEBEB" stroke-width="0.5"/>
<line x1="546.02" y1="325.62" x2="546.02" y2="413.18" stroke="#EBEBEB" stroke-width="0.5"/>
<line x1="564.73" y1="325.62" x2="564.73" y2="413.18" stroke="#EBEBEB" stroke-width="0.5"/>
<line x1="583.44" y1="325.62" x2="583.44" y2="413.18" stroke="#EBEBEB" stroke-width="0.5"/>
<line x1="602.15" y1="325.62" x2="602.15" y2="413.18" stroke="#EBEBEB" stroke-width="0.5"/>
<line x1="620.85" y1="325.62" x2="620.85" y2="413.18" stroke="#EBEBEB" stroke-width="0.5"/>
<line x1="639.56" y1="325.62" x2="639.56" y2="413.18" stroke="#EBEBEB" stroke-width="0.5"/>
<line x1="658.27" y1="325.62" x2="658.27" y2="413.18" stroke="#EBEBEB" stroke-width="0.5"/>
<line x1="676.98" y1="325.62" x2="676.98" y2="413.18" stroke="#EBEBEB" stroke-width="0.5"/>
<rect x="541.35" y="331.19" width="9.35" height="78.01" fill="#8DD3C7"/>
<text x="546.02" y="332.19" font-size="3" fill="#111" text-anchor="middle" stroke="#111" stroke-width="0.12">0.98</text>
<line x1="546.02" y1="413.18" x2="546.02" y2="414.38" stroke="#666" stroke-width="0.4"/>
<rect x="560.05" y="331.19" width="9.35" height="78.01" fill="#FB8072"/>
<text x="564.73" y="332.19" font-size="3" fill="#111" text-anchor="middle" stroke="#111" stroke-width="0.12">0.98</text>
<line x1="564.73" y1="413.18" x2="564.73" y2="414.38" stroke="#666" stroke-width="0.4"/>
<rect x="578.76" y="364.62" width="9.35" height="44.58" fill="#FFFFB3"/>
<text x="583.44" y="365.62" font-size="3" fill="#111" text-anchor="middle" stroke="#111" stroke-width="0.12">0.56</text>
<line x1="583.44" y1="413.18" x2="583.44" y2="414.38" stroke="#666" stroke-width="0.4"/>
<rect x="597.47" y="350.3" width="9.35" height="58.9" fill="#BEBADA"/>
<text x="602.15" y="351.3" font-size="3" fill="#111" text-anchor="middle" stroke="#111" stroke-width="0.12">0.74</text>
<line x1="602.15" y1="413.18" x2="602.15" y2="414.38" stroke="#666" stroke-width="0.4"/>
<rect x="616.18" y="350.3" width="9.35" height="58.9" fill="#80B1D3"/>
<text x="620.85" y="351.3" font-size="3" fill="#111" text-anchor="middle" stroke="#111" stroke-width="0.12">0.74</text>
<line x1="620.85" y1="413.18" x2="620.85" y2="414.38" stroke="#666" stroke-width="0.4"/>
<rect x="634.88" y="388.5" width="9.35" height="20.7" fill="#FDB462"/>
<text x="639.56" y="389.5" font-size="3" fill="#111" text-anchor="middle" stroke="#111" stroke-width="0.12">0.26</text>
<line x1="639.56" y1="413.18" x2="639.56" y2="414.38" stroke="#666" stroke-width="0.4"/>
<rect x="653.59" y="346.32" width="9.35" height="62.88" fill="#B3DE69"/>
<text x="658.27" y="347.32" font-size="3" fill="#111" text-anchor="middle" stroke="#111" stroke-width="0.12">0.79</text>
<line x1="658.27" y1="413.18" x2="658.27" y2="414.38" stroke="#666" stroke-width="0.4"/>
<rect x="672.3" y="354.28" width="9.35" height="54.92" fill="#FCCDE5"/>
<text x="676.98" y="355.28" font-size="3" fill="#111" text-anchor="middle" stroke="#111" stroke-width="0.12">0.69</text>
<line x1="676.98" y1="413.18" x2="676.98" y2="414.38" stroke="#666" stroke-width="0.4"/>
<rect x="534.8" y="325.62" width="153.4" height="87.56" fill="none" stroke="#CFCFCF" stroke-width="0.6"/>
<line x1="533.5" y1="409.2" x2="534.8" y2="409.2" stroke="#777" stroke-width="0.4"/>
<text x="533.4" y="410.85" font-size="4.6" fill="#4a4a4a" text-anchor="end" stroke="#4a4a4a" stroke-width="0.1">0.0</text>
<line x1="533.5" y1="393.28" x2="534.8" y2="393.28" stroke="#777" stroke-width="0.4"/>
<text x="533.4" y="394.93" font-size="4.6" fill="#4a4a4a" text-anchor="end" stroke="#4a4a4a" stroke-width="0.1">0.2</text>
<line x1="533.5" y1="377.36" x2="534.8" y2="377.36" stroke="#777" stroke-width="0.4"/>
<text x="533.4" y="379.01" font-size="4.6" fill="#4a4a4a" text-anchor="end" stroke="#4a4a4a" stroke-width="0.1">0.4</text>
<line x1="533.5" y1="361.44" x2="534.8" y2="361.44" stroke="#777" stroke-width="0.4"/>
<text x="533.4" y="363.09" font-size="4.6" fill="#4a4a4a" text-anchor="end" stroke="#4a4a4a" stroke-width="0.1">0.6</text>
<line x1="533.5" y1="345.52" x2="534.8" y2="345.52" stroke="#777" stroke-width="0.4"/>
<text x="533.4" y="347.17" font-size="4.6" fill="#4a4a4a" text-anchor="end" stroke="#4a4a4a" stroke-width="0.1">0.8</text>
<line x1="533.5" y1="329.6" x2="534.8" y2="329.6" stroke="#777" stroke-width="0.4"/>
<text x="533.4" y="331.25" font-size="4.6" fill="#4a4a4a" text-anchor="end" stroke="#4a4a4a" stroke-width="0.1">1.0</text>
<text x="535.1" y="322.82" font-size="6.5" fill="#000" text-anchor="start" stroke="#000" stroke-width="0.1">SNPs=200</text>
<text x="611.5" y="418.68" font-size="5.15" fill="#000" text-anchor="middle" stroke="#000" stroke-width="0.08">Method</text>
<text x="0" y="0" font-size="5.5" fill="#000" text-anchor="middle" transform="translate(525.8 369.4) rotate(-90)">Power</text>
<text x="692.4" y="325.82" font-size="5.4" fill="#000" text-anchor="start">Method</text>
<rect x="692.5" y="327.62" width="11" height="11.28" fill="#8DD3C7"/>
<text x="705" y="335.02" font-size="5.3" fill="#1A1A1A" text-anchor="start">IVW</text>
<rect x="692.5" y="338.9" width="11" height="11.28" fill="#FB8072"/>
<text x="705" y="346.3" font-size="5.3" fill="#1A1A1A" text-anchor="start">TEMR</text>
<rect x="692.5" y="350.18" width="11" height="11.28" fill="#FFFFB3"/>
<text x="705" y="357.58" font-size="5.3" fill="#1A1A1A" text-anchor="start">Simple median</text>
<rect x="692.5" y="361.46" width="11" height="11.28" fill="#BEBADA"/>
<text x="705" y="368.86" font-size="5.3" fill="#1A1A1A" text-anchor="start">Weighted median</text>
<rect x="692.5" y="372.74" width="11" height="11.28" fill="#80B1D3"/>
<text x="705" y="380.14" font-size="5.3" fill="#1A1A1A" text-anchor="start">Penalised median</text>
<rect x="692.5" y="384.02" width="11" height="11.28" fill="#FDB462"/>
<text x="705" y="391.42" font-size="5.3" fill="#1A1A1A" text-anchor="start">Simple mode</text>
<rect x="692.5" y="395.3" width="11" height="11.28" fill="#B3DE69"/>
<text x="705" y="402.7" font-size="5.3" fill="#1A1A1A" text-anchor="start">Weighted mode</text>
<rect x="692.5" y="406.58" width="11" height="11.28" fill="#FCCDE5"/>
<text x="705" y="413.98" font-size="5.3" fill="#1A1A1A" text-anchor="start">Penalised mode</text>
<text x="0" y="0" font-size="14.8" font-weight="bold" fill="#000" transform="translate(0.8 441.8) scale(0.92 1)">C</text>
<text x="125.4" y="448.4" font-size="11.3" fill="#000" text-anchor="start">Causal effect (target) = Causal effect (auxiliary) = 0.05, trans−ethnic genetic correlation = 0.9</text>
<line x1="25.4" y1="541.55" x2="178.8" y2="541.55" stroke="#F4F4F4" stroke-width="0.4"/>
<line x1="25.4" y1="525.65" x2="178.8" y2="525.65" stroke="#F4F4F4" stroke-width="0.4"/>
<line x1="25.4" y1="509.75" x2="178.8" y2="509.75" stroke="#F4F4F4" stroke-width="0.4"/>
<line x1="25.4" y1="493.85" x2="178.8" y2="493.85" stroke="#F4F4F4" stroke-width="0.4"/>
<line x1="25.4" y1="477.95" x2="178.8" y2="477.95" stroke="#F4F4F4" stroke-width="0.4"/>
<line x1="25.4" y1="549.5" x2="178.8" y2="549.5" stroke="#EBEBEB" stroke-width="0.5"/>
<line x1="25.4" y1="533.6" x2="178.8" y2="533.6" stroke="#EBEBEB" stroke-width="0.5"/>
<line x1="25.4" y1="517.7" x2="178.8" y2="517.7" stroke="#EBEBEB" stroke-width="0.5"/>
<line x1="25.4" y1="501.8" x2="178.8" y2="501.8" stroke="#EBEBEB" stroke-width="0.5"/>
<line x1="25.4" y1="485.9" x2="178.8" y2="485.9" stroke="#EBEBEB" stroke-width="0.5"/>
<line x1="25.4" y1="470" x2="178.8" y2="470" stroke="#EBEBEB" stroke-width="0.5"/>
<line x1="36.62" y1="466.02" x2="36.62" y2="553.48" stroke="#EBEBEB" stroke-width="0.5"/>
<line x1="55.33" y1="466.02" x2="55.33" y2="553.48" stroke="#EBEBEB" stroke-width="0.5"/>
<line x1="74.04" y1="466.02" x2="74.04" y2="553.48" stroke="#EBEBEB" stroke-width="0.5"/>
<line x1="92.75" y1="466.02" x2="92.75" y2="553.48" stroke="#EBEBEB" stroke-width="0.5"/>
<line x1="111.45" y1="466.02" x2="111.45" y2="553.48" stroke="#EBEBEB" stroke-width="0.5"/>
<line x1="130.16" y1="466.02" x2="130.16" y2="553.48" stroke="#EBEBEB" stroke-width="0.5"/>
<line x1="148.87" y1="466.02" x2="148.87" y2="553.48" stroke="#EBEBEB" stroke-width="0.5"/>
<line x1="167.58" y1="466.02" x2="167.58" y2="553.48" stroke="#EBEBEB" stroke-width="0.5"/>
<rect x="31.95" y="525.65" width="9.35" height="23.85" fill="#8DD3C7"/>
<text x="36.62" y="526.65" font-size="3" fill="#111" text-anchor="middle" stroke="#111" stroke-width="0.12">0.3</text>
<line x1="36.62" y1="553.48" x2="36.62" y2="554.68" stroke="#666" stroke-width="0.4"/>
<rect x="50.65" y="481.93" width="9.35" height="67.57" fill="#FB8072"/>
<text x="55.33" y="482.93" font-size="3" fill="#111" text-anchor="middle" stroke="#111" stroke-width="0.12">0.85</text>
<line x1="55.33" y1="553.48" x2="55.33" y2="554.68" stroke="#666" stroke-width="0.4"/>
<rect x="69.36" y="543.93" width="9.35" height="5.57" fill="#FFFFB3"/>
<text x="74.04" y="544.93" font-size="3" fill="#111" text-anchor="middle" stroke="#111" stroke-width="0.12">0.07</text>
<line x1="74.04" y1="553.48" x2="74.04" y2="554.68" stroke="#666" stroke-width="0.4"/>
<rect x="88.07" y="535.19" width="9.35" height="14.31" fill="#BEBADA"/>
<text x="92.75" y="536.19" font-size="3" fill="#111" text-anchor="middle" stroke="#111" stroke-width="0.12">0.18</text>
<line x1="92.75" y1="553.48" x2="92.75" y2="554.68" stroke="#666" stroke-width="0.4"/>
<rect x="106.78" y="535.19" width="9.35" height="14.31" fill="#80B1D3"/>
<text x="111.45" y="536.19" font-size="3" fill="#111" text-anchor="middle" stroke="#111" stroke-width="0.12">0.18</text>
<line x1="111.45" y1="553.48" x2="111.45" y2="554.68" stroke="#666" stroke-width="0.4"/>
<rect x="125.48" y="546.32" width="9.35" height="3.18" fill="#FDB462"/>
<text x="130.16" y="547.32" font-size="3" fill="#111" text-anchor="middle" stroke="#111" stroke-width="0.12">0.04</text>
<line x1="130.16" y1="553.48" x2="130.16" y2="554.68" stroke="#666" stroke-width="0.4"/>
<rect x="144.19" y="534.39" width="9.35" height="15.11" fill="#B3DE69"/>
<text x="148.87" y="535.39" font-size="3" fill="#111" text-anchor="middle" stroke="#111" stroke-width="0.12">0.19</text>
<line x1="148.87" y1="553.48" x2="148.87" y2="554.68" stroke="#666" stroke-width="0.4"/>
<rect x="162.9" y="537.58" width="9.35" height="11.92" fill="#FCCDE5"/>
<text x="167.58" y="538.58" font-size="3" fill="#111" text-anchor="middle" stroke="#111" stroke-width="0.12">0.15</text>
<line x1="167.58" y1="553.48" x2="167.58" y2="554.68" stroke="#666" stroke-width="0.4"/>
<rect x="25.4" y="466.02" width="153.4" height="87.45" fill="none" stroke="#CFCFCF" stroke-width="0.6"/>
<line x1="24.1" y1="549.5" x2="25.4" y2="549.5" stroke="#777" stroke-width="0.4"/>
<text x="24" y="551.15" font-size="4.6" fill="#4a4a4a" text-anchor="end" stroke="#4a4a4a" stroke-width="0.1">0.0</text>
<line x1="24.1" y1="533.6" x2="25.4" y2="533.6" stroke="#777" stroke-width="0.4"/>
<text x="24" y="535.25" font-size="4.6" fill="#4a4a4a" text-anchor="end" stroke="#4a4a4a" stroke-width="0.1">0.2</text>
<line x1="24.1" y1="517.7" x2="25.4" y2="517.7" stroke="#777" stroke-width="0.4"/>
<text x="24" y="519.35" font-size="4.6" fill="#4a4a4a" text-anchor="end" stroke="#4a4a4a" stroke-width="0.1">0.4</text>
<line x1="24.1" y1="501.8" x2="25.4" y2="501.8" stroke="#777" stroke-width="0.4"/>
<text x="24" y="503.45" font-size="4.6" fill="#4a4a4a" text-anchor="end" stroke="#4a4a4a" stroke-width="0.1">0.6</text>
<line x1="24.1" y1="485.9" x2="25.4" y2="485.9" stroke="#777" stroke-width="0.4"/>
<text x="24" y="487.55" font-size="4.6" fill="#4a4a4a" text-anchor="end" stroke="#4a4a4a" stroke-width="0.1">0.8</text>
<line x1="24.1" y1="470" x2="25.4" y2="470" stroke="#777" stroke-width="0.4"/>
<text x="24" y="471.65" font-size="4.6" fill="#4a4a4a" text-anchor="end" stroke="#4a4a4a" stroke-width="0.1">1.0</text>
<text x="25.7" y="463.22" font-size="6.5" fill="#000" text-anchor="start" stroke="#000" stroke-width="0.1">SNPs=25</text>
<text x="102.1" y="558.98" font-size="5.15" fill="#000" text-anchor="middle" stroke="#000" stroke-width="0.08">Method</text>
<text x="0" y="0" font-size="5.5" fill="#000" text-anchor="middle" transform="translate(16.4 509.75) rotate(-90)">Power</text>
<line x1="195.2" y1="541.55" x2="348.6" y2="541.55" stroke="#F4F4F4" stroke-width="0.4"/>
<line x1="195.2" y1="525.65" x2="348.6" y2="525.65" stroke="#F4F4F4" stroke-width="0.4"/>
<line x1="195.2" y1="509.75" x2="348.6" y2="509.75" stroke="#F4F4F4" stroke-width="0.4"/>
<line x1="195.2" y1="493.85" x2="348.6" y2="493.85" stroke="#F4F4F4" stroke-width="0.4"/>
<line x1="195.2" y1="477.95" x2="348.6" y2="477.95" stroke="#F4F4F4" stroke-width="0.4"/>
<line x1="195.2" y1="549.5" x2="348.6" y2="549.5" stroke="#EBEBEB" stroke-width="0.5"/>
<line x1="195.2" y1="533.6" x2="348.6" y2="533.6" stroke="#EBEBEB" stroke-width="0.5"/>
<line x1="195.2" y1="517.7" x2="348.6" y2="517.7" stroke="#EBEBEB" stroke-width="0.5"/>
<line x1="195.2" y1="501.8" x2="348.6" y2="501.8" stroke="#EBEBEB" stroke-width="0.5"/>
<line x1="195.2" y1="485.9" x2="348.6" y2="485.9" stroke="#EBEBEB" stroke-width="0.5"/>
<line x1="195.2" y1="470" x2="348.6" y2="470" stroke="#EBEBEB" stroke-width="0.5"/>
<line x1="206.42" y1="466.02" x2="206.42" y2="553.48" stroke="#EBEBEB" stroke-width="0.5"/>
<line x1="225.13" y1="466.02" x2="225.13" y2="553.48" stroke="#EBEBEB" stroke-width="0.5"/>
<line x1="243.84" y1="466.02" x2="243.84" y2="553.48" stroke="#EBEBEB" stroke-width="0.5"/>
<line x1="262.55" y1="466.02" x2="262.55" y2="553.48" stroke="#EBEBEB" stroke-width="0.5"/>
<line x1="281.25" y1="466.02" x2="281.25" y2="553.48" stroke="#EBEBEB" stroke-width="0.5"/>
<line x1="299.96" y1="466.02" x2="299.96" y2="553.48" stroke="#EBEBEB" stroke-width="0.5"/>
<line x1="318.67" y1="466.02" x2="318.67" y2="553.48" stroke="#EBEBEB" stroke-width="0.5"/>
<line x1="337.38" y1="466.02" x2="337.38" y2="553.48" stroke="#EBEBEB" stroke-width="0.5"/>
<rect x="201.75" y="511.34" width="9.35" height="38.16" fill="#8DD3C7"/>
<text x="206.42" y="512.34" font-size="3" fill="#111" text-anchor="middle" stroke="#111" stroke-width="0.12">0.48</text>
<line x1="206.42" y1="553.48" x2="206.42" y2="554.68" stroke="#666" stroke-width="0.4"/>
<rect x="220.45" y="471.59" width="9.35" height="77.91" fill="#FB8072"/>
<text x="225.13" y="472.59" font-size="3" fill="#111" text-anchor="middle" stroke="#111" stroke-width="0.12">0.98</text>
<line x1="225.13" y1="553.48" x2="225.13" y2="554.68" stroke="#666" stroke-width="0.4"/>
<rect x="239.16" y="537.58" width="9.35" height="11.92" fill="#FFFFB3"/>
<text x="243.84" y="538.58" font-size="3" fill="#111" text-anchor="middle" stroke="#111" stroke-width="0.12">0.15</text>
<line x1="243.84" y1="553.48" x2="243.84" y2="554.68" stroke="#666" stroke-width="0.4"/>
<rect x="257.87" y="528.83" width="9.35" height="20.67" fill="#BEBADA"/>
<text x="262.55" y="529.83" font-size="3" fill="#111" text-anchor="middle" stroke="#111" stroke-width="0.12">0.26</text>
<line x1="262.55" y1="553.48" x2="262.55" y2="554.68" stroke="#666" stroke-width="0.4"/>
<rect x="276.58" y="528.83" width="9.35" height="20.67" fill="#80B1D3"/>
<text x="281.25" y="529.83" font-size="3" fill="#111" text-anchor="middle" stroke="#111" stroke-width="0.12">0.26</text>
<line x1="281.25" y1="553.48" x2="281.25" y2="554.68" stroke="#666" stroke-width="0.4"/>
<rect x="295.28" y="543.14" width="9.35" height="6.36" fill="#FDB462"/>
<text x="299.96" y="544.14" font-size="3" fill="#111" text-anchor="middle" stroke="#111" stroke-width="0.12">0.08</text>
<line x1="299.96" y1="553.48" x2="299.96" y2="554.68" stroke="#666" stroke-width="0.4"/>
<rect x="313.99" y="524.86" width="9.35" height="24.64" fill="#B3DE69"/>
<text x="318.67" y="525.86" font-size="3" fill="#111" text-anchor="middle" stroke="#111" stroke-width="0.12">0.31</text>
<line x1="318.67" y1="553.48" x2="318.67" y2="554.68" stroke="#666" stroke-width="0.4"/>
<rect x="332.7" y="531.22" width="9.35" height="18.28" fill="#FCCDE5"/>
<text x="337.38" y="532.22" font-size="3" fill="#111" text-anchor="middle" stroke="#111" stroke-width="0.12">0.23</text>
<line x1="337.38" y1="553.48" x2="337.38" y2="554.68" stroke="#666" stroke-width="0.4"/>
<rect x="195.2" y="466.02" width="153.4" height="87.45" fill="none" stroke="#CFCFCF" stroke-width="0.6"/>
<line x1="193.9" y1="549.5" x2="195.2" y2="549.5" stroke="#777" stroke-width="0.4"/>
<text x="193.8" y="551.15" font-size="4.6" fill="#4a4a4a" text-anchor="end" stroke="#4a4a4a" stroke-width="0.1">0.0</text>
<line x1="193.9" y1="533.6" x2="195.2" y2="533.6" stroke="#777" stroke-width="0.4"/>
<text x="193.8" y="535.25" font-size="4.6" fill="#4a4a4a" text-anchor="end" stroke="#4a4a4a" stroke-width="0.1">0.2</text>
<line x1="193.9" y1="517.7" x2="195.2" y2="517.7" stroke="#777" stroke-width="0.4"/>
<text x="193.8" y="519.35" font-size="4.6" fill="#4a4a4a" text-anchor="end" stroke="#4a4a4a" stroke-width="0.1">0.4</text>
<line x1="193.9" y1="501.8" x2="195.2" y2="501.8" stroke="#777" stroke-width="0.4"/>
<text x="193.8" y="503.45" font-size="4.6" fill="#4a4a4a" text-anchor="end" stroke="#4a4a4a" stroke-width="0.1">0.6</text>
<line x1="193.9" y1="485.9" x2="195.2" y2="485.9" stroke="#777" stroke-width="0.4"/>
<text x="193.8" y="487.55" font-size="4.6" fill="#4a4a4a" text-anchor="end" stroke="#4a4a4a" stroke-width="0.1">0.8</text>
<line x1="193.9" y1="470" x2="195.2" y2="470" stroke="#777" stroke-width="0.4"/>
<text x="193.8" y="471.65" font-size="4.6" fill="#4a4a4a" text-anchor="end" stroke="#4a4a4a" stroke-width="0.1">1.0</text>
<text x="195.5" y="463.22" font-size="6.5" fill="#000" text-anchor="start" stroke="#000" stroke-width="0.1">SNPs=50</text>
<text x="271.9" y="558.98" font-size="5.15" fill="#000" text-anchor="middle" stroke="#000" stroke-width="0.08">Method</text>
<text x="0" y="0" font-size="5.5" fill="#000" text-anchor="middle" transform="translate(186.2 509.75) rotate(-90)">Power</text>
<line x1="365" y1="541.55" x2="518.4" y2="541.55" stroke="#F4F4F4" stroke-width="0.4"/>
<line x1="365" y1="525.65" x2="518.4" y2="525.65" stroke="#F4F4F4" stroke-width="0.4"/>
<line x1="365" y1="509.75" x2="518.4" y2="509.75" stroke="#F4F4F4" stroke-width="0.4"/>
<line x1="365" y1="493.85" x2="518.4" y2="493.85" stroke="#F4F4F4" stroke-width="0.4"/>
<line x1="365" y1="477.95" x2="518.4" y2="477.95" stroke="#F4F4F4" stroke-width="0.4"/>
<line x1="365" y1="549.5" x2="518.4" y2="549.5" stroke="#EBEBEB" stroke-width="0.5"/>
<line x1="365" y1="533.6" x2="518.4" y2="533.6" stroke="#EBEBEB" stroke-width="0.5"/>
<line x1="365" y1="517.7" x2="518.4" y2="517.7" stroke="#EBEBEB" stroke-width="0.5"/>
<line x1="365" y1="501.8" x2="518.4" y2="501.8" stroke="#EBEBEB" stroke-width="0.5"/>
<line x1="365" y1="485.9" x2="518.4" y2="485.9" stroke="#EBEBEB" stroke-width="0.5"/>
<line x1="365" y1="470" x2="518.4" y2="470" stroke="#EBEBEB" stroke-width="0.5"/>
<line x1="376.22" y1="466.02" x2="376.22" y2="553.48" stroke="#EBEBEB" stroke-width="0.5"/>
<line x1="394.93" y1="466.02" x2="394.93" y2="553.48" stroke="#EBEBEB" stroke-width="0.5"/>
<line x1="413.64" y1="466.02" x2="413.64" y2="553.48" stroke="#EBEBEB" stroke-width="0.5"/>
<line x1="432.35" y1="466.02" x2="432.35" y2="553.48" stroke="#EBEBEB" stroke-width="0.5"/>
<line x1="451.05" y1="466.02" x2="451.05" y2="553.48" stroke="#EBEBEB" stroke-width="0.5"/>
<line x1="469.76" y1="466.02" x2="469.76" y2="553.48" stroke="#EBEBEB" stroke-width="0.5"/>
<line x1="488.47" y1="466.02" x2="488.47" y2="553.48" stroke="#EBEBEB" stroke-width="0.5"/>
<line x1="507.18" y1="466.02" x2="507.18" y2="553.48" stroke="#EBEBEB" stroke-width="0.5"/>
<rect x="371.55" y="486.69" width="9.35" height="62.81" fill="#8DD3C7"/>
<text x="376.22" y="487.69" font-size="3" fill="#111" text-anchor="middle" stroke="#111" stroke-width="0.12">0.79</text>
<line x1="376.22" y1="553.48" x2="376.22" y2="554.68" stroke="#666" stroke-width="0.4"/>
<rect x="390.25" y="470" width="9.35" height="79.5" fill="#FB8072"/>
<text x="394.93" y="471" font-size="3" fill="#111" text-anchor="middle" stroke="#111" stroke-width="0.12">1</text>
<line x1="394.93" y1="553.48" x2="394.93" y2="554.68" stroke="#666" stroke-width="0.4"/>
<rect x="408.96" y="526.45" width="9.35" height="23.05" fill="#FFFFB3"/>
<text x="413.64" y="527.45" font-size="3" fill="#111" text-anchor="middle" stroke="#111" stroke-width="0.12">0.29</text>
<line x1="413.64" y1="553.48" x2="413.64" y2="554.68" stroke="#666" stroke-width="0.4"/>
<rect x="427.67" y="512.93" width="9.35" height="36.57" fill="#BEBADA"/>
<text x="432.35" y="513.93" font-size="3" fill="#111" text-anchor="middle" stroke="#111" stroke-width="0.12">0.46</text>
<line x1="432.35" y1="553.48" x2="432.35" y2="554.68" stroke="#666" stroke-width="0.4"/>
<rect x="446.38" y="513.73" width="9.35" height="35.77" fill="#80B1D3"/>
<text x="451.05" y="514.73" font-size="3" fill="#111" text-anchor="middle" stroke="#111" stroke-width="0.12">0.45</text>
<line x1="451.05" y1="553.48" x2="451.05" y2="554.68" stroke="#666" stroke-width="0.4"/>
<rect x="465.08" y="539.96" width="9.35" height="9.54" fill="#FDB462"/>
<text x="469.76" y="540.96" font-size="3" fill="#111" text-anchor="middle" stroke="#111" stroke-width="0.12">0.12</text>
<line x1="469.76" y1="553.48" x2="469.76" y2="554.68" stroke="#666" stroke-width="0.4"/>
<rect x="483.79" y="507.37" width="9.35" height="42.13" fill="#B3DE69"/>
<text x="488.47" y="508.37" font-size="3" fill="#111" text-anchor="middle" stroke="#111" stroke-width="0.12">0.53</text>
<line x1="488.47" y1="553.48" x2="488.47" y2="554.68" stroke="#666" stroke-width="0.4"/>
<rect x="502.5" y="516.9" width="9.35" height="32.6" fill="#FCCDE5"/>
<text x="507.18" y="517.9" font-size="3" fill="#111" text-anchor="middle" stroke="#111" stroke-width="0.12">0.41</text>
<line x1="507.18" y1="553.48" x2="507.18" y2="554.68" stroke="#666" stroke-width="0.4"/>
<rect x="365" y="466.02" width="153.4" height="87.45" fill="none" stroke="#CFCFCF" stroke-width="0.6"/>
<line x1="363.7" y1="549.5" x2="365" y2="549.5" stroke="#777" stroke-width="0.4"/>
<text x="363.6" y="551.15" font-size="4.6" fill="#4a4a4a" text-anchor="end" stroke="#4a4a4a" stroke-width="0.1">0.0</text>
<line x1="363.7" y1="533.6" x2="365" y2="533.6" stroke="#777" stroke-width="0.4"/>
<text x="363.6" y="535.25" font-size="4.6" fill="#4a4a4a" text-anchor="end" stroke="#4a4a4a" stroke-width="0.1">0.2</text>
<line x1="363.7" y1="517.7" x2="365" y2="517.7" stroke="#777" stroke-width="0.4"/>
<text x="363.6" y="519.35" font-size="4.6" fill="#4a4a4a" text-anchor="end" stroke="#4a4a4a" stroke-width="0.1">0.4</text>
<line x1="363.7" y1="501.8" x2="365" y2="501.8" stroke="#777" stroke-width="0.4"/>
<text x="363.6" y="503.45" font-size="4.6" fill="#4a4a4a" text-anchor="end" stroke="#4a4a4a" stroke-width="0.1">0.6</text>
<line x1="363.7" y1="485.9" x2="365" y2="485.9" stroke="#777" stroke-width="0.4"/>
<text x="363.6" y="487.55" font-size="4.6" fill="#4a4a4a" text-anchor="end" stroke="#4a4a4a" stroke-width="0.1">0.8</text>
<line x1="363.7" y1="470" x2="365" y2="470" stroke="#777" stroke-width="0.4"/>
<text x="363.6" y="471.65" font-size="4.6" fill="#4a4a4a" text-anchor="end" stroke="#4a4a4a" stroke-width="0.1">1.0</text>
<text x="365.3" y="463.22" font-size="6.5" fill="#000" text-anchor="start" stroke="#000" stroke-width="0.1">SNPs=100</text>
<text x="441.7" y="558.98" font-size="5.15" fill="#000" text-anchor="middle" stroke="#000" stroke-width="0.08">Method</text>
<text x="0" y="0" font-size="5.5" fill="#000" text-anchor="middle" transform="translate(356 509.75) rotate(-90)">Power</text>
<line x1="534.8" y1="541.55" x2="688.2" y2="541.55" stroke="#F4F4F4" stroke-width="0.4"/>
<line x1="534.8" y1="525.65" x2="688.2" y2="525.65" stroke="#F4F4F4" stroke-width="0.4"/>
<line x1="534.8" y1="509.75" x2="688.2" y2="509.75" stroke="#F4F4F4" stroke-width="0.4"/>
<line x1="534.8" y1="493.85" x2="688.2" y2="493.85" stroke="#F4F4F4" stroke-width="0.4"/>
<line x1="534.8" y1="477.95" x2="688.2" y2="477.95" stroke="#F4F4F4" stroke-width="0.4"/>
<line x1="534.8" y1="549.5" x2="688.2" y2="549.5" stroke="#EBEBEB" stroke-width="0.5"/>
<line x1="534.8" y1="533.6" x2="688.2" y2="533.6" stroke="#EBEBEB" stroke-width="0.5"/>
<line x1="534.8" y1="517.7" x2="688.2" y2="517.7" stroke="#EBEBEB" stroke-width="0.5"/>
<line x1="534.8" y1="501.8" x2="688.2" y2="501.8" stroke="#EBEBEB" stroke-width="0.5"/>
<line x1="534.8" y1="485.9" x2="688.2" y2="485.9" stroke="#EBEBEB" stroke-width="0.5"/>
<line x1="534.8" y1="470" x2="688.2" y2="470" stroke="#EBEBEB" stroke-width="0.5"/>
<line x1="546.02" y1="466.02" x2="546.02" y2="553.48" stroke="#EBEBEB" stroke-width="0.5"/>
<line x1="564.73" y1="466.02" x2="564.73" y2="553.48" stroke="#EBEBEB" stroke-width="0.5"/>
<line x1="583.44" y1="466.02" x2="583.44" y2="553.48" stroke="#EBEBEB" stroke-width="0.5"/>
<line x1="602.15" y1="466.02" x2="602.15" y2="553.48" stroke="#EBEBEB" stroke-width="0.5"/>
<line x1="620.85" y1="466.02" x2="620.85" y2="553.48" stroke="#EBEBEB" stroke-width="0.5"/>
<line x1="639.56" y1="466.02" x2="639.56" y2="553.48" stroke="#EBEBEB" stroke-width="0.5"/>
<line x1="658.27" y1="466.02" x2="658.27" y2="553.48" stroke="#EBEBEB" stroke-width="0.5"/>
<line x1="676.98" y1="466.02" x2="676.98" y2="553.48" stroke="#EBEBEB" stroke-width="0.5"/>
<rect x="541.35" y="471.59" width="9.35" height="77.91" fill="#8DD3C7"/>
<text x="546.02" y="472.59" font-size="3" fill="#111" text-anchor="middle" stroke="#111" stroke-width="0.12">0.98</text>
<line x1="546.02" y1="553.48" x2="546.02" y2="554.68" stroke="#666" stroke-width="0.4"/>
<rect x="560.05" y="470" width="9.35" height="79.5" fill="#FB8072"/>
<text x="564.73" y="471" font-size="3" fill="#111" text-anchor="middle" stroke="#111" stroke-width="0.12">1</text>
<line x1="564.73" y1="553.48" x2="564.73" y2="554.68" stroke="#666" stroke-width="0.4"/>
<rect x="578.76" y="508.16" width="9.35" height="41.34" fill="#FFFFB3"/>
<text x="583.44" y="509.16" font-size="3" fill="#111" text-anchor="middle" stroke="#111" stroke-width="0.12">0.52</text>
<line x1="583.44" y1="553.48" x2="583.44" y2="554.68" stroke="#666" stroke-width="0.4"/>
<rect x="597.47" y="492.26" width="9.35" height="57.24" fill="#BEBADA"/>
<text x="602.15" y="493.26" font-size="3" fill="#111" text-anchor="middle" stroke="#111" stroke-width="0.12">0.72</text>
<line x1="602.15" y1="553.48" x2="602.15" y2="554.68" stroke="#666" stroke-width="0.4"/>
<rect x="616.18" y="493.85" width="9.35" height="55.65" fill="#80B1D3"/>
<text x="620.85" y="494.85" font-size="3" fill="#111" text-anchor="middle" stroke="#111" stroke-width="0.12">0.7</text>
<line x1="620.85" y1="553.48" x2="620.85" y2="554.68" stroke="#666" stroke-width="0.4"/>
<rect x="634.88" y="530.42" width="9.35" height="19.08" fill="#FDB462"/>
<text x="639.56" y="531.42" font-size="3" fill="#111" text-anchor="middle" stroke="#111" stroke-width="0.12">0.24</text>
<line x1="639.56" y1="553.48" x2="639.56" y2="554.68" stroke="#666" stroke-width="0.4"/>
<rect x="653.59" y="488.28" width="9.35" height="61.22" fill="#B3DE69"/>
<text x="658.27" y="489.28" font-size="3" fill="#111" text-anchor="middle" stroke="#111" stroke-width="0.12">0.77</text>
<line x1="658.27" y1="553.48" x2="658.27" y2="554.68" stroke="#666" stroke-width="0.4"/>
<rect x="672.3" y="497.03" width="9.35" height="52.47" fill="#FCCDE5"/>
<text x="676.98" y="498.03" font-size="3" fill="#111" text-anchor="middle" stroke="#111" stroke-width="0.12">0.66</text>
<line x1="676.98" y1="553.48" x2="676.98" y2="554.68" stroke="#666" stroke-width="0.4"/>
<rect x="534.8" y="466.02" width="153.4" height="87.45" fill="none" stroke="#CFCFCF" stroke-width="0.6"/>
<line x1="533.5" y1="549.5" x2="534.8" y2="549.5" stroke="#777" stroke-width="0.4"/>
<text x="533.4" y="551.15" font-size="4.6" fill="#4a4a4a" text-anchor="end" stroke="#4a4a4a" stroke-width="0.1">0.0</text>
<line x1="533.5" y1="533.6" x2="534.8" y2="533.6" stroke="#777" stroke-width="0.4"/>
<text x="533.4" y="535.25" font-size="4.6" fill="#4a4a4a" text-anchor="end" stroke="#4a4a4a" stroke-width="0.1">0.2</text>
<line x1="533.5" y1="517.7" x2="534.8" y2="517.7" stroke="#777" stroke-width="0.4"/>
<text x="533.4" y="519.35" font-size="4.6" fill="#4a4a4a" text-anchor="end" stroke="#4a4a4a" stroke-width="0.1">0.4</text>
<line x1="533.5" y1="501.8" x2="534.8" y2="501.8" stroke="#777" stroke-width="0.4"/>
<text x="533.4" y="503.45" font-size="4.6" fill="#4a4a4a" text-anchor="end" stroke="#4a4a4a" stroke-width="0.1">0.6</text>
<line x1="533.5" y1="485.9" x2="534.8" y2="485.9" stroke="#777" stroke-width="0.4"/>
<text x="533.4" y="487.55" font-size="4.6" fill="#4a4a4a" text-anchor="end" stroke="#4a4a4a" stroke-width="0.1">0.8</text>
<line x1="533.5" y1="470" x2="534.8" y2="470" stroke="#777" stroke-width="0.4"/>
<text x="533.4" y="471.65" font-size="4.6" fill="#4a4a4a" text-anchor="end" stroke="#4a4a4a" stroke-width="0.1">1.0</text>
<text x="535.1" y="463.22" font-size="6.5" fill="#000" text-anchor="start" stroke="#000" stroke-width="0.1">SNPs=200</text>
<text x="611.5" y="558.98" font-size="5.15" fill="#000" text-anchor="middle" stroke="#000" stroke-width="0.08">Method</text>
<text x="0" y="0" font-size="5.5" fill="#000" text-anchor="middle" transform="translate(525.8 509.75) rotate(-90)">Power</text>
<text x="692.4" y="466.23" font-size="5.4" fill="#000" text-anchor="start">Method</text>
<rect x="692.5" y="468.02" width="11" height="11.28" fill="#8DD3C7"/>
<text x="705" y="475.42" font-size="5.3" fill="#1A1A1A" text-anchor="start">IVW</text>
<rect x="692.5" y="479.3" width="11" height="11.28" fill="#FB8072"/>
<text x="705" y="486.7" font-size="5.3" fill="#1A1A1A" text-anchor="start">TEMR</text>
<rect x="692.5" y="490.58" width="11" height="11.28" fill="#FFFFB3"/>
<text x="705" y="497.98" font-size="5.3" fill="#1A1A1A" text-anchor="start">Simple median</text>
<rect x="692.5" y="501.86" width="11" height="11.28" fill="#BEBADA"/>
<text x="705" y="509.26" font-size="5.3" fill="#1A1A1A" text-anchor="start">Weighted median</text>
<rect x="692.5" y="513.14" width="11" height="11.28" fill="#80B1D3"/>
<text x="705" y="520.54" font-size="5.3" fill="#1A1A1A" text-anchor="start">Penalised median</text>
<rect x="692.5" y="524.42" width="11" height="11.28" fill="#FDB462"/>
<text x="705" y="531.82" font-size="5.3" fill="#1A1A1A" text-anchor="start">Simple mode</text>
<rect x="692.5" y="535.7" width="11" height="11.28" fill="#B3DE69"/>
<text x="705" y="543.1" font-size="5.3" fill="#1A1A1A" text-anchor="start">Weighted mode</text>
<rect x="692.5" y="546.99" width="11" height="11.28" fill="#FCCDE5"/>
<text x="705" y="554.38" font-size="5.3" fill="#1A1A1A" text-anchor="start">Penalised mode</text>
</svg></body></html>
